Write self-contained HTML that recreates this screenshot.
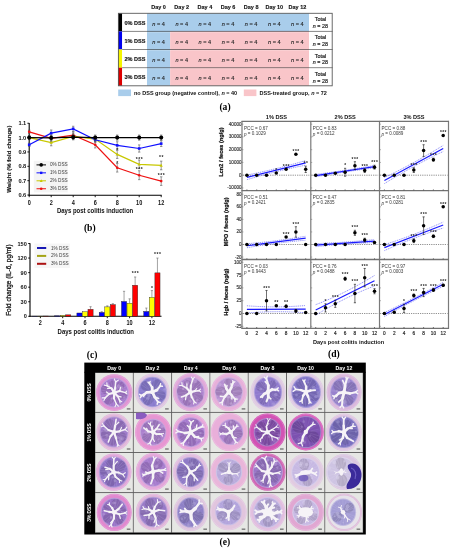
<!DOCTYPE html>
<html><head><meta charset="utf-8"><title>Figure</title>
<style>html,body{margin:0;padding:0;background:#fff;} svg{display:block;}</style></head>
<body><svg width="453" height="550" viewBox="0 0 453 550">
<defs><filter id="soft" x="0" y="0" width="1" height="1"><feGaussianBlur stdDeviation="0.35"/></filter></defs>
<rect width="453" height="550" fill="#fff"/>
<text x="158.57" y="7.00" font-size="5.5" text-anchor="middle" font-weight="bold" font-style="normal" fill="#111" dominant-baseline="central" font-family='"Liberation Sans", Arial, sans-serif' stroke="#111" stroke-width="0.12">Day 0</text>
<text x="181.71" y="7.00" font-size="5.5" text-anchor="middle" font-weight="bold" font-style="normal" fill="#111" dominant-baseline="central" font-family='"Liberation Sans", Arial, sans-serif' stroke="#111" stroke-width="0.12">Day 2</text>
<text x="204.86" y="7.00" font-size="5.5" text-anchor="middle" font-weight="bold" font-style="normal" fill="#111" dominant-baseline="central" font-family='"Liberation Sans", Arial, sans-serif' stroke="#111" stroke-width="0.12">Day 4</text>
<text x="228.00" y="7.00" font-size="5.5" text-anchor="middle" font-weight="bold" font-style="normal" fill="#111" dominant-baseline="central" font-family='"Liberation Sans", Arial, sans-serif' stroke="#111" stroke-width="0.12">Day 6</text>
<text x="251.14" y="7.00" font-size="5.5" text-anchor="middle" font-weight="bold" font-style="normal" fill="#111" dominant-baseline="central" font-family='"Liberation Sans", Arial, sans-serif' stroke="#111" stroke-width="0.12">Day 8</text>
<text x="274.29" y="7.00" font-size="5.5" text-anchor="middle" font-weight="bold" font-style="normal" fill="#111" dominant-baseline="central" font-family='"Liberation Sans", Arial, sans-serif' stroke="#111" stroke-width="0.12">Day 10</text>
<text x="297.43" y="7.00" font-size="5.5" text-anchor="middle" font-weight="bold" font-style="normal" fill="#111" dominant-baseline="central" font-family='"Liberation Sans", Arial, sans-serif' stroke="#111" stroke-width="0.12">Day 12</text>
<rect x="118.00" y="13.30" width="4.20" height="18.10" fill="#000000" stroke="none" stroke-width="0"/>
<rect x="122.20" y="13.30" width="24.80" height="18.10" fill="#ffffff" stroke="none" stroke-width="0"/>
<rect x="147.00" y="13.30" width="162.00" height="18.10" fill="#a9cdeb" stroke="none" stroke-width="0"/>
<rect x="309.00" y="13.30" width="23.60" height="18.10" fill="#ffffff" stroke="none" stroke-width="0"/>
<text x="134.90" y="22.85" font-size="5.55" text-anchor="middle" font-weight="bold" font-style="normal" fill="#111" dominant-baseline="central" font-family='"Liberation Sans", Arial, sans-serif' stroke="#111" stroke-width="0.12">0% DSS</text>
<text x="158.57" y="23.55" font-size="5.6" text-anchor="middle" font-weight="normal" font-style="normal" fill="#222" dominant-baseline="central" font-family='"Liberation Sans", Arial, sans-serif' stroke="#222" stroke-width="0.12"><tspan font-style="italic">n</tspan> = 4</text>
<text x="181.71" y="23.55" font-size="5.6" text-anchor="middle" font-weight="normal" font-style="normal" fill="#222" dominant-baseline="central" font-family='"Liberation Sans", Arial, sans-serif' stroke="#222" stroke-width="0.12"><tspan font-style="italic">n</tspan> = 4</text>
<text x="204.86" y="23.55" font-size="5.6" text-anchor="middle" font-weight="normal" font-style="normal" fill="#222" dominant-baseline="central" font-family='"Liberation Sans", Arial, sans-serif' stroke="#222" stroke-width="0.12"><tspan font-style="italic">n</tspan> = 4</text>
<text x="228.00" y="23.55" font-size="5.6" text-anchor="middle" font-weight="normal" font-style="normal" fill="#222" dominant-baseline="central" font-family='"Liberation Sans", Arial, sans-serif' stroke="#222" stroke-width="0.12"><tspan font-style="italic">n</tspan> = 4</text>
<text x="251.14" y="23.55" font-size="5.6" text-anchor="middle" font-weight="normal" font-style="normal" fill="#222" dominant-baseline="central" font-family='"Liberation Sans", Arial, sans-serif' stroke="#222" stroke-width="0.12"><tspan font-style="italic">n</tspan> = 4</text>
<text x="274.29" y="23.55" font-size="5.6" text-anchor="middle" font-weight="normal" font-style="normal" fill="#222" dominant-baseline="central" font-family='"Liberation Sans", Arial, sans-serif' stroke="#222" stroke-width="0.12"><tspan font-style="italic">n</tspan> = 4</text>
<text x="297.43" y="23.55" font-size="5.6" text-anchor="middle" font-weight="normal" font-style="normal" fill="#222" dominant-baseline="central" font-family='"Liberation Sans", Arial, sans-serif' stroke="#222" stroke-width="0.12"><tspan font-style="italic">n</tspan> = 4</text>
<text x="320.50" y="19.35" font-size="5.4" text-anchor="middle" font-weight="normal" font-style="normal" fill="#222" dominant-baseline="central" font-family='"Liberation Sans", Arial, sans-serif' stroke="#222" stroke-width="0.18">Total</text>
<text x="320.40" y="26.15" font-size="5.4" text-anchor="middle" font-weight="normal" font-style="normal" fill="#222" dominant-baseline="central" font-family='"Liberation Sans", Arial, sans-serif' stroke="#222" stroke-width="0.18"><tspan font-style="italic">n</tspan> = 28</text>
<rect x="118.00" y="31.40" width="4.20" height="18.10" fill="#0000ee" stroke="none" stroke-width="0"/>
<rect x="122.20" y="31.40" width="24.80" height="18.10" fill="#ffffff" stroke="none" stroke-width="0"/>
<rect x="147.00" y="31.40" width="23.14" height="18.10" fill="#a9cdeb" stroke="none" stroke-width="0"/>
<rect x="170.14" y="31.40" width="138.86" height="18.10" fill="#f9c5c9" stroke="none" stroke-width="0"/>
<rect x="309.00" y="31.40" width="23.60" height="18.10" fill="#ffffff" stroke="none" stroke-width="0"/>
<text x="134.90" y="40.95" font-size="5.55" text-anchor="middle" font-weight="bold" font-style="normal" fill="#111" dominant-baseline="central" font-family='"Liberation Sans", Arial, sans-serif' stroke="#111" stroke-width="0.12">1% DSS</text>
<text x="158.57" y="41.65" font-size="5.6" text-anchor="middle" font-weight="normal" font-style="normal" fill="#222" dominant-baseline="central" font-family='"Liberation Sans", Arial, sans-serif' stroke="#222" stroke-width="0.12"><tspan font-style="italic">n</tspan> = 4</text>
<text x="181.71" y="41.65" font-size="5.6" text-anchor="middle" font-weight="normal" font-style="normal" fill="#222" dominant-baseline="central" font-family='"Liberation Sans", Arial, sans-serif' stroke="#222" stroke-width="0.12"><tspan font-style="italic">n</tspan> = 4</text>
<text x="204.86" y="41.65" font-size="5.6" text-anchor="middle" font-weight="normal" font-style="normal" fill="#222" dominant-baseline="central" font-family='"Liberation Sans", Arial, sans-serif' stroke="#222" stroke-width="0.12"><tspan font-style="italic">n</tspan> = 4</text>
<text x="228.00" y="41.65" font-size="5.6" text-anchor="middle" font-weight="normal" font-style="normal" fill="#222" dominant-baseline="central" font-family='"Liberation Sans", Arial, sans-serif' stroke="#222" stroke-width="0.12"><tspan font-style="italic">n</tspan> = 4</text>
<text x="251.14" y="41.65" font-size="5.6" text-anchor="middle" font-weight="normal" font-style="normal" fill="#222" dominant-baseline="central" font-family='"Liberation Sans", Arial, sans-serif' stroke="#222" stroke-width="0.12"><tspan font-style="italic">n</tspan> = 4</text>
<text x="274.29" y="41.65" font-size="5.6" text-anchor="middle" font-weight="normal" font-style="normal" fill="#222" dominant-baseline="central" font-family='"Liberation Sans", Arial, sans-serif' stroke="#222" stroke-width="0.12"><tspan font-style="italic">n</tspan> = 4</text>
<text x="297.43" y="41.65" font-size="5.6" text-anchor="middle" font-weight="normal" font-style="normal" fill="#222" dominant-baseline="central" font-family='"Liberation Sans", Arial, sans-serif' stroke="#222" stroke-width="0.12"><tspan font-style="italic">n</tspan> = 4</text>
<text x="320.50" y="37.45" font-size="5.4" text-anchor="middle" font-weight="normal" font-style="normal" fill="#222" dominant-baseline="central" font-family='"Liberation Sans", Arial, sans-serif' stroke="#222" stroke-width="0.18">Total</text>
<text x="320.40" y="44.25" font-size="5.4" text-anchor="middle" font-weight="normal" font-style="normal" fill="#222" dominant-baseline="central" font-family='"Liberation Sans", Arial, sans-serif' stroke="#222" stroke-width="0.18"><tspan font-style="italic">n</tspan> = 28</text>
<rect x="118.00" y="49.50" width="4.20" height="18.20" fill="#f5f500" stroke="none" stroke-width="0"/>
<rect x="122.20" y="49.50" width="24.80" height="18.20" fill="#ffffff" stroke="none" stroke-width="0"/>
<rect x="147.00" y="49.50" width="23.14" height="18.20" fill="#a9cdeb" stroke="none" stroke-width="0"/>
<rect x="170.14" y="49.50" width="138.86" height="18.20" fill="#f9c5c9" stroke="none" stroke-width="0"/>
<rect x="309.00" y="49.50" width="23.60" height="18.20" fill="#ffffff" stroke="none" stroke-width="0"/>
<text x="134.90" y="59.10" font-size="5.55" text-anchor="middle" font-weight="bold" font-style="normal" fill="#111" dominant-baseline="central" font-family='"Liberation Sans", Arial, sans-serif' stroke="#111" stroke-width="0.12">2% DSS</text>
<text x="158.57" y="59.80" font-size="5.6" text-anchor="middle" font-weight="normal" font-style="normal" fill="#222" dominant-baseline="central" font-family='"Liberation Sans", Arial, sans-serif' stroke="#222" stroke-width="0.12"><tspan font-style="italic">n</tspan> = 4</text>
<text x="181.71" y="59.80" font-size="5.6" text-anchor="middle" font-weight="normal" font-style="normal" fill="#222" dominant-baseline="central" font-family='"Liberation Sans", Arial, sans-serif' stroke="#222" stroke-width="0.12"><tspan font-style="italic">n</tspan> = 4</text>
<text x="204.86" y="59.80" font-size="5.6" text-anchor="middle" font-weight="normal" font-style="normal" fill="#222" dominant-baseline="central" font-family='"Liberation Sans", Arial, sans-serif' stroke="#222" stroke-width="0.12"><tspan font-style="italic">n</tspan> = 4</text>
<text x="228.00" y="59.80" font-size="5.6" text-anchor="middle" font-weight="normal" font-style="normal" fill="#222" dominant-baseline="central" font-family='"Liberation Sans", Arial, sans-serif' stroke="#222" stroke-width="0.12"><tspan font-style="italic">n</tspan> = 4</text>
<text x="251.14" y="59.80" font-size="5.6" text-anchor="middle" font-weight="normal" font-style="normal" fill="#222" dominant-baseline="central" font-family='"Liberation Sans", Arial, sans-serif' stroke="#222" stroke-width="0.12"><tspan font-style="italic">n</tspan> = 4</text>
<text x="274.29" y="59.80" font-size="5.6" text-anchor="middle" font-weight="normal" font-style="normal" fill="#222" dominant-baseline="central" font-family='"Liberation Sans", Arial, sans-serif' stroke="#222" stroke-width="0.12"><tspan font-style="italic">n</tspan> = 4</text>
<text x="297.43" y="59.80" font-size="5.6" text-anchor="middle" font-weight="normal" font-style="normal" fill="#222" dominant-baseline="central" font-family='"Liberation Sans", Arial, sans-serif' stroke="#222" stroke-width="0.12"><tspan font-style="italic">n</tspan> = 4</text>
<text x="320.50" y="55.60" font-size="5.4" text-anchor="middle" font-weight="normal" font-style="normal" fill="#222" dominant-baseline="central" font-family='"Liberation Sans", Arial, sans-serif' stroke="#222" stroke-width="0.18">Total</text>
<text x="320.40" y="62.40" font-size="5.4" text-anchor="middle" font-weight="normal" font-style="normal" fill="#222" dominant-baseline="central" font-family='"Liberation Sans", Arial, sans-serif' stroke="#222" stroke-width="0.18"><tspan font-style="italic">n</tspan> = 28</text>
<rect x="118.00" y="67.70" width="4.20" height="18.10" fill="#dd0000" stroke="none" stroke-width="0"/>
<rect x="122.20" y="67.70" width="24.80" height="18.10" fill="#ffffff" stroke="none" stroke-width="0"/>
<rect x="147.00" y="67.70" width="23.14" height="18.10" fill="#a9cdeb" stroke="none" stroke-width="0"/>
<rect x="170.14" y="67.70" width="138.86" height="18.10" fill="#f9c5c9" stroke="none" stroke-width="0"/>
<rect x="309.00" y="67.70" width="23.60" height="18.10" fill="#ffffff" stroke="none" stroke-width="0"/>
<text x="134.90" y="77.25" font-size="5.55" text-anchor="middle" font-weight="bold" font-style="normal" fill="#111" dominant-baseline="central" font-family='"Liberation Sans", Arial, sans-serif' stroke="#111" stroke-width="0.12">3% DSS</text>
<text x="158.57" y="77.95" font-size="5.6" text-anchor="middle" font-weight="normal" font-style="normal" fill="#222" dominant-baseline="central" font-family='"Liberation Sans", Arial, sans-serif' stroke="#222" stroke-width="0.12"><tspan font-style="italic">n</tspan> = 4</text>
<text x="181.71" y="77.95" font-size="5.6" text-anchor="middle" font-weight="normal" font-style="normal" fill="#222" dominant-baseline="central" font-family='"Liberation Sans", Arial, sans-serif' stroke="#222" stroke-width="0.12"><tspan font-style="italic">n</tspan> = 4</text>
<text x="204.86" y="77.95" font-size="5.6" text-anchor="middle" font-weight="normal" font-style="normal" fill="#222" dominant-baseline="central" font-family='"Liberation Sans", Arial, sans-serif' stroke="#222" stroke-width="0.12"><tspan font-style="italic">n</tspan> = 4</text>
<text x="228.00" y="77.95" font-size="5.6" text-anchor="middle" font-weight="normal" font-style="normal" fill="#222" dominant-baseline="central" font-family='"Liberation Sans", Arial, sans-serif' stroke="#222" stroke-width="0.12"><tspan font-style="italic">n</tspan> = 4</text>
<text x="251.14" y="77.95" font-size="5.6" text-anchor="middle" font-weight="normal" font-style="normal" fill="#222" dominant-baseline="central" font-family='"Liberation Sans", Arial, sans-serif' stroke="#222" stroke-width="0.12"><tspan font-style="italic">n</tspan> = 4</text>
<text x="274.29" y="77.95" font-size="5.6" text-anchor="middle" font-weight="normal" font-style="normal" fill="#222" dominant-baseline="central" font-family='"Liberation Sans", Arial, sans-serif' stroke="#222" stroke-width="0.12"><tspan font-style="italic">n</tspan> = 4</text>
<text x="297.43" y="77.95" font-size="5.6" text-anchor="middle" font-weight="normal" font-style="normal" fill="#222" dominant-baseline="central" font-family='"Liberation Sans", Arial, sans-serif' stroke="#222" stroke-width="0.12"><tspan font-style="italic">n</tspan> = 4</text>
<text x="320.50" y="73.75" font-size="5.4" text-anchor="middle" font-weight="normal" font-style="normal" fill="#222" dominant-baseline="central" font-family='"Liberation Sans", Arial, sans-serif' stroke="#222" stroke-width="0.18">Total</text>
<text x="320.40" y="80.55" font-size="5.4" text-anchor="middle" font-weight="normal" font-style="normal" fill="#222" dominant-baseline="central" font-family='"Liberation Sans", Arial, sans-serif' stroke="#222" stroke-width="0.18"><tspan font-style="italic">n</tspan> = 28</text>
<line x1="122.20" y1="31.40" x2="332.60" y2="31.40" stroke="#000" stroke-width="0.95" opacity="0.5"/>
<line x1="122.20" y1="32.40" x2="332.60" y2="32.40" stroke="#fff" stroke-width="0.7" opacity="0.25"/>
<line x1="122.20" y1="49.50" x2="332.60" y2="49.50" stroke="#000" stroke-width="0.95" opacity="0.5"/>
<line x1="122.20" y1="50.50" x2="332.60" y2="50.50" stroke="#fff" stroke-width="0.7" opacity="0.25"/>
<line x1="122.20" y1="67.70" x2="332.60" y2="67.70" stroke="#000" stroke-width="0.95" opacity="0.5"/>
<line x1="122.20" y1="68.70" x2="332.60" y2="68.70" stroke="#fff" stroke-width="0.7" opacity="0.25"/>
<rect x="118.40" y="13.30" width="213.80" height="72.50" fill="none" stroke="#5a5a5a" stroke-width="0.9"/>
<rect x="118.20" y="89.50" width="12.80" height="6.60" fill="#a9cdeb" stroke="none" stroke-width="0"/>
<text x="134.00" y="92.90" font-size="5.5" text-anchor="start" font-weight="bold" font-style="normal" fill="#111" dominant-baseline="central" font-family='"Liberation Sans", Arial, sans-serif'>no DSS group (negative control), <tspan font-style="italic">n</tspan> = 40</text>
<rect x="243.80" y="89.50" width="12.60" height="6.60" fill="#f9c5c9" stroke="none" stroke-width="0"/>
<text x="259.50" y="92.90" font-size="5.5" text-anchor="start" font-weight="bold" font-style="normal" fill="#111" dominant-baseline="central" font-family='"Liberation Sans", Arial, sans-serif'>DSS-treated group, <tspan font-style="italic">n</tspan> = 72</text>
<text x="225.00" y="106.00" font-size="9.6" text-anchor="middle" font-weight="bold" font-style="normal" fill="#000" dominant-baseline="central" font-family='"Liberation Serif", serif'>(a)</text>
<line x1="29.20" y1="122.94" x2="29.20" y2="195.80" stroke="#000" stroke-width="1.1"/>
<line x1="28.70" y1="195.30" x2="161.70" y2="195.30" stroke="#000" stroke-width="1.1"/>
<line x1="27.40" y1="123.24" x2="29.20" y2="123.24" stroke="#000" stroke-width="0.9"/>
<text x="26.30" y="123.24" font-size="6.0" text-anchor="end" font-weight="bold" font-style="normal" fill="#111" dominant-baseline="central" font-family='"Liberation Sans", Arial, sans-serif' transform="translate(26.30 123.24) scale(0.95 1) translate(-26.30 -123.24)">1.1</text>
<line x1="27.40" y1="137.60" x2="29.20" y2="137.60" stroke="#000" stroke-width="0.9"/>
<text x="26.30" y="137.60" font-size="6.0" text-anchor="end" font-weight="bold" font-style="normal" fill="#111" dominant-baseline="central" font-family='"Liberation Sans", Arial, sans-serif' transform="translate(26.30 137.60) scale(0.95 1) translate(-26.30 -137.60)">1.0</text>
<line x1="27.40" y1="151.96" x2="29.20" y2="151.96" stroke="#000" stroke-width="0.9"/>
<text x="26.30" y="151.96" font-size="6.0" text-anchor="end" font-weight="bold" font-style="normal" fill="#111" dominant-baseline="central" font-family='"Liberation Sans", Arial, sans-serif' transform="translate(26.30 151.96) scale(0.95 1) translate(-26.30 -151.96)">0.9</text>
<line x1="27.40" y1="166.32" x2="29.20" y2="166.32" stroke="#000" stroke-width="0.9"/>
<text x="26.30" y="166.32" font-size="6.0" text-anchor="end" font-weight="bold" font-style="normal" fill="#111" dominant-baseline="central" font-family='"Liberation Sans", Arial, sans-serif' transform="translate(26.30 166.32) scale(0.95 1) translate(-26.30 -166.32)">0.8</text>
<line x1="27.40" y1="180.68" x2="29.20" y2="180.68" stroke="#000" stroke-width="0.9"/>
<text x="26.30" y="180.68" font-size="6.0" text-anchor="end" font-weight="bold" font-style="normal" fill="#111" dominant-baseline="central" font-family='"Liberation Sans", Arial, sans-serif' transform="translate(26.30 180.68) scale(0.95 1) translate(-26.30 -180.68)">0.7</text>
<line x1="27.40" y1="195.04" x2="29.20" y2="195.04" stroke="#000" stroke-width="0.9"/>
<text x="26.30" y="195.04" font-size="6.0" text-anchor="end" font-weight="bold" font-style="normal" fill="#111" dominant-baseline="central" font-family='"Liberation Sans", Arial, sans-serif' transform="translate(26.30 195.04) scale(0.95 1) translate(-26.30 -195.04)">0.6</text>
<line x1="29.20" y1="195.30" x2="29.20" y2="197.20" stroke="#000" stroke-width="0.9"/>
<text x="29.20" y="202.70" font-size="6.3" text-anchor="middle" font-weight="bold" font-style="normal" fill="#111" dominant-baseline="central" font-family='"Liberation Sans", Arial, sans-serif' transform="translate(29.20 202.70) scale(0.88 1) translate(-29.20 -202.70)">0</text>
<line x1="51.20" y1="195.30" x2="51.20" y2="197.20" stroke="#000" stroke-width="0.9"/>
<text x="51.20" y="202.70" font-size="6.3" text-anchor="middle" font-weight="bold" font-style="normal" fill="#111" dominant-baseline="central" font-family='"Liberation Sans", Arial, sans-serif' transform="translate(51.20 202.70) scale(0.88 1) translate(-51.20 -202.70)">2</text>
<line x1="73.20" y1="195.30" x2="73.20" y2="197.20" stroke="#000" stroke-width="0.9"/>
<text x="73.20" y="202.70" font-size="6.3" text-anchor="middle" font-weight="bold" font-style="normal" fill="#111" dominant-baseline="central" font-family='"Liberation Sans", Arial, sans-serif' transform="translate(73.20 202.70) scale(0.88 1) translate(-73.20 -202.70)">4</text>
<line x1="95.20" y1="195.30" x2="95.20" y2="197.20" stroke="#000" stroke-width="0.9"/>
<text x="95.20" y="202.70" font-size="6.3" text-anchor="middle" font-weight="bold" font-style="normal" fill="#111" dominant-baseline="central" font-family='"Liberation Sans", Arial, sans-serif' transform="translate(95.20 202.70) scale(0.88 1) translate(-95.20 -202.70)">6</text>
<line x1="117.20" y1="195.30" x2="117.20" y2="197.20" stroke="#000" stroke-width="0.9"/>
<text x="117.20" y="202.70" font-size="6.3" text-anchor="middle" font-weight="bold" font-style="normal" fill="#111" dominant-baseline="central" font-family='"Liberation Sans", Arial, sans-serif' transform="translate(117.20 202.70) scale(0.88 1) translate(-117.20 -202.70)">8</text>
<line x1="139.20" y1="195.30" x2="139.20" y2="197.20" stroke="#000" stroke-width="0.9"/>
<text x="139.20" y="202.70" font-size="6.3" text-anchor="middle" font-weight="bold" font-style="normal" fill="#111" dominant-baseline="central" font-family='"Liberation Sans", Arial, sans-serif' transform="translate(139.20 202.70) scale(0.88 1) translate(-139.20 -202.70)">10</text>
<line x1="161.20" y1="195.30" x2="161.20" y2="197.20" stroke="#000" stroke-width="0.9"/>
<text x="161.20" y="202.70" font-size="6.3" text-anchor="middle" font-weight="bold" font-style="normal" fill="#111" dominant-baseline="central" font-family='"Liberation Sans", Arial, sans-serif' transform="translate(161.20 202.70) scale(0.88 1) translate(-161.20 -202.70)">12</text>
<text x="95.10" y="210.60" font-size="6.8" text-anchor="middle" font-weight="bold" font-style="normal" fill="#111" dominant-baseline="central" font-family='"Liberation Sans", Arial, sans-serif' transform="translate(95.10 210.60) scale(0.885 1) translate(-95.10 -210.60)">Days post colitis induction</text>
<text x="8.30" y="159.10" font-size="6.1" text-anchor="middle" font-weight="bold" font-style="normal" fill="#111" dominant-baseline="central" font-family='"Liberation Sans", Arial, sans-serif' transform="rotate(-90 8.3 159.1)" stroke="#111" stroke-width="0.12">Weight (% fold change)</text>
<polyline points="29.20,131.86 51.20,138.32 73.20,135.16 95.20,144.78 117.20,167.76 139.20,175.22 161.20,181.11" fill="none" stroke="#ee1111" stroke-width="1.2"/>
<polyline points="29.20,137.60 51.20,142.63 73.20,136.45 95.20,139.04 117.20,154.40 139.20,164.31 161.20,165.46" fill="none" stroke="#c8c800" stroke-width="1.2"/>
<polyline points="29.20,144.78 51.20,133.15 73.20,128.84 95.20,139.75 117.20,145.35 139.20,148.51 161.20,143.63" fill="none" stroke="#1010ff" stroke-width="1.2"/>
<polyline points="29.20,137.60 51.20,137.89 73.20,137.17 95.20,137.60 117.20,137.60 139.20,137.60 161.20,137.60" fill="none" stroke="#000000" stroke-width="1.2"/>
<line x1="29.20" y1="130.13" x2="29.20" y2="133.58" stroke="#555" stroke-width="0.6"/>
<line x1="28.00" y1="130.13" x2="30.40" y2="130.13" stroke="#555" stroke-width="0.6"/>
<line x1="28.00" y1="133.58" x2="30.40" y2="133.58" stroke="#555" stroke-width="0.6"/>
<circle cx="29.20" cy="131.86" r="1.30" fill="#ee1111"/>
<line x1="51.20" y1="135.16" x2="51.20" y2="141.48" stroke="#555" stroke-width="0.6"/>
<line x1="50.00" y1="135.16" x2="52.40" y2="135.16" stroke="#555" stroke-width="0.6"/>
<line x1="50.00" y1="141.48" x2="52.40" y2="141.48" stroke="#555" stroke-width="0.6"/>
<circle cx="51.20" cy="138.32" r="1.30" fill="#ee1111"/>
<line x1="73.20" y1="132.00" x2="73.20" y2="138.32" stroke="#555" stroke-width="0.6"/>
<line x1="72.00" y1="132.00" x2="74.40" y2="132.00" stroke="#555" stroke-width="0.6"/>
<line x1="72.00" y1="138.32" x2="74.40" y2="138.32" stroke="#555" stroke-width="0.6"/>
<circle cx="73.20" cy="135.16" r="1.30" fill="#ee1111"/>
<line x1="95.20" y1="141.62" x2="95.20" y2="147.94" stroke="#555" stroke-width="0.6"/>
<line x1="94.00" y1="141.62" x2="96.40" y2="141.62" stroke="#555" stroke-width="0.6"/>
<line x1="94.00" y1="147.94" x2="96.40" y2="147.94" stroke="#555" stroke-width="0.6"/>
<circle cx="95.20" cy="144.78" r="1.30" fill="#ee1111"/>
<line x1="117.20" y1="163.45" x2="117.20" y2="172.06" stroke="#555" stroke-width="0.6"/>
<line x1="116.00" y1="163.45" x2="118.40" y2="163.45" stroke="#555" stroke-width="0.6"/>
<line x1="116.00" y1="172.06" x2="118.40" y2="172.06" stroke="#555" stroke-width="0.6"/>
<circle cx="117.20" cy="167.76" r="1.30" fill="#ee1111"/>
<line x1="139.20" y1="170.77" x2="139.20" y2="179.67" stroke="#555" stroke-width="0.6"/>
<line x1="138.00" y1="170.77" x2="140.40" y2="170.77" stroke="#555" stroke-width="0.6"/>
<line x1="138.00" y1="179.67" x2="140.40" y2="179.67" stroke="#555" stroke-width="0.6"/>
<circle cx="139.20" cy="175.22" r="1.30" fill="#ee1111"/>
<line x1="161.20" y1="176.80" x2="161.20" y2="185.42" stroke="#555" stroke-width="0.6"/>
<line x1="160.00" y1="176.80" x2="162.40" y2="176.80" stroke="#555" stroke-width="0.6"/>
<line x1="160.00" y1="185.42" x2="162.40" y2="185.42" stroke="#555" stroke-width="0.6"/>
<circle cx="161.20" cy="181.11" r="1.30" fill="#ee1111"/>
<line x1="29.20" y1="135.88" x2="29.20" y2="139.32" stroke="#555" stroke-width="0.6"/>
<line x1="28.00" y1="135.88" x2="30.40" y2="135.88" stroke="#555" stroke-width="0.6"/>
<line x1="28.00" y1="139.32" x2="30.40" y2="139.32" stroke="#555" stroke-width="0.6"/>
<polygon points="29.20,135.90 30.80,138.80 27.60,138.80" fill="#c8c800"/>
<line x1="51.20" y1="139.47" x2="51.20" y2="145.79" stroke="#555" stroke-width="0.6"/>
<line x1="50.00" y1="139.47" x2="52.40" y2="139.47" stroke="#555" stroke-width="0.6"/>
<line x1="50.00" y1="145.79" x2="52.40" y2="145.79" stroke="#555" stroke-width="0.6"/>
<polygon points="51.20,140.93 52.80,143.83 49.60,143.83" fill="#c8c800"/>
<line x1="73.20" y1="133.29" x2="73.20" y2="139.61" stroke="#555" stroke-width="0.6"/>
<line x1="72.00" y1="133.29" x2="74.40" y2="133.29" stroke="#555" stroke-width="0.6"/>
<line x1="72.00" y1="139.61" x2="74.40" y2="139.61" stroke="#555" stroke-width="0.6"/>
<polygon points="73.20,134.75 74.80,137.65 71.60,137.65" fill="#c8c800"/>
<line x1="95.20" y1="136.45" x2="95.20" y2="141.62" stroke="#555" stroke-width="0.6"/>
<line x1="94.00" y1="136.45" x2="96.40" y2="136.45" stroke="#555" stroke-width="0.6"/>
<line x1="94.00" y1="141.62" x2="96.40" y2="141.62" stroke="#555" stroke-width="0.6"/>
<polygon points="95.20,137.34 96.80,140.24 93.60,140.24" fill="#c8c800"/>
<line x1="117.20" y1="150.38" x2="117.20" y2="158.42" stroke="#555" stroke-width="0.6"/>
<line x1="116.00" y1="150.38" x2="118.40" y2="150.38" stroke="#555" stroke-width="0.6"/>
<line x1="116.00" y1="158.42" x2="118.40" y2="158.42" stroke="#555" stroke-width="0.6"/>
<polygon points="117.20,152.70 118.80,155.60 115.60,155.60" fill="#c8c800"/>
<line x1="139.20" y1="160.00" x2="139.20" y2="168.62" stroke="#555" stroke-width="0.6"/>
<line x1="138.00" y1="160.00" x2="140.40" y2="160.00" stroke="#555" stroke-width="0.6"/>
<line x1="138.00" y1="168.62" x2="140.40" y2="168.62" stroke="#555" stroke-width="0.6"/>
<polygon points="139.20,162.61 140.80,165.51 137.60,165.51" fill="#c8c800"/>
<line x1="161.20" y1="161.15" x2="161.20" y2="169.77" stroke="#555" stroke-width="0.6"/>
<line x1="160.00" y1="161.15" x2="162.40" y2="161.15" stroke="#555" stroke-width="0.6"/>
<line x1="160.00" y1="169.77" x2="162.40" y2="169.77" stroke="#555" stroke-width="0.6"/>
<polygon points="161.20,163.76 162.80,166.66 159.60,166.66" fill="#c8c800"/>
<line x1="29.20" y1="143.06" x2="29.20" y2="146.50" stroke="#555" stroke-width="0.6"/>
<line x1="28.00" y1="143.06" x2="30.40" y2="143.06" stroke="#555" stroke-width="0.6"/>
<line x1="28.00" y1="146.50" x2="30.40" y2="146.50" stroke="#555" stroke-width="0.6"/>
<rect x="27.90" y="143.48" width="2.60" height="2.60" fill="#1010ff" stroke="none" stroke-width="0"/>
<line x1="51.20" y1="129.99" x2="51.20" y2="136.31" stroke="#555" stroke-width="0.6"/>
<line x1="50.00" y1="129.99" x2="52.40" y2="129.99" stroke="#555" stroke-width="0.6"/>
<line x1="50.00" y1="136.31" x2="52.40" y2="136.31" stroke="#555" stroke-width="0.6"/>
<rect x="49.90" y="131.85" width="2.60" height="2.60" fill="#1010ff" stroke="none" stroke-width="0"/>
<line x1="73.20" y1="126.26" x2="73.20" y2="131.43" stroke="#555" stroke-width="0.6"/>
<line x1="72.00" y1="126.26" x2="74.40" y2="126.26" stroke="#555" stroke-width="0.6"/>
<line x1="72.00" y1="131.43" x2="74.40" y2="131.43" stroke="#555" stroke-width="0.6"/>
<rect x="71.90" y="127.54" width="2.60" height="2.60" fill="#1010ff" stroke="none" stroke-width="0"/>
<line x1="95.20" y1="137.17" x2="95.20" y2="142.34" stroke="#555" stroke-width="0.6"/>
<line x1="94.00" y1="137.17" x2="96.40" y2="137.17" stroke="#555" stroke-width="0.6"/>
<line x1="94.00" y1="142.34" x2="96.40" y2="142.34" stroke="#555" stroke-width="0.6"/>
<rect x="93.90" y="138.45" width="2.60" height="2.60" fill="#1010ff" stroke="none" stroke-width="0"/>
<line x1="117.20" y1="141.76" x2="117.20" y2="148.94" stroke="#555" stroke-width="0.6"/>
<line x1="116.00" y1="141.76" x2="118.40" y2="141.76" stroke="#555" stroke-width="0.6"/>
<line x1="116.00" y1="148.94" x2="118.40" y2="148.94" stroke="#555" stroke-width="0.6"/>
<rect x="115.90" y="144.05" width="2.60" height="2.60" fill="#1010ff" stroke="none" stroke-width="0"/>
<line x1="139.20" y1="144.92" x2="139.20" y2="152.10" stroke="#555" stroke-width="0.6"/>
<line x1="138.00" y1="144.92" x2="140.40" y2="144.92" stroke="#555" stroke-width="0.6"/>
<line x1="138.00" y1="152.10" x2="140.40" y2="152.10" stroke="#555" stroke-width="0.6"/>
<rect x="137.90" y="147.21" width="2.60" height="2.60" fill="#1010ff" stroke="none" stroke-width="0"/>
<line x1="161.20" y1="140.76" x2="161.20" y2="146.50" stroke="#555" stroke-width="0.6"/>
<line x1="160.00" y1="140.76" x2="162.40" y2="140.76" stroke="#555" stroke-width="0.6"/>
<line x1="160.00" y1="146.50" x2="162.40" y2="146.50" stroke="#555" stroke-width="0.6"/>
<rect x="159.90" y="142.33" width="2.60" height="2.60" fill="#1010ff" stroke="none" stroke-width="0"/>
<line x1="29.20" y1="135.59" x2="29.20" y2="139.61" stroke="#555" stroke-width="0.6"/>
<line x1="28.00" y1="135.59" x2="30.40" y2="135.59" stroke="#555" stroke-width="0.6"/>
<line x1="28.00" y1="139.61" x2="30.40" y2="139.61" stroke="#555" stroke-width="0.6"/>
<circle cx="29.20" cy="137.60" r="2.05" fill="#000000"/>
<line x1="51.20" y1="135.30" x2="51.20" y2="140.47" stroke="#555" stroke-width="0.6"/>
<line x1="50.00" y1="135.30" x2="52.40" y2="135.30" stroke="#555" stroke-width="0.6"/>
<line x1="50.00" y1="140.47" x2="52.40" y2="140.47" stroke="#555" stroke-width="0.6"/>
<circle cx="51.20" cy="137.89" r="2.05" fill="#000000"/>
<line x1="73.20" y1="134.58" x2="73.20" y2="139.75" stroke="#555" stroke-width="0.6"/>
<line x1="72.00" y1="134.58" x2="74.40" y2="134.58" stroke="#555" stroke-width="0.6"/>
<line x1="72.00" y1="139.75" x2="74.40" y2="139.75" stroke="#555" stroke-width="0.6"/>
<circle cx="73.20" cy="137.17" r="2.05" fill="#000000"/>
<line x1="95.20" y1="135.02" x2="95.20" y2="140.18" stroke="#555" stroke-width="0.6"/>
<line x1="94.00" y1="135.02" x2="96.40" y2="135.02" stroke="#555" stroke-width="0.6"/>
<line x1="94.00" y1="140.18" x2="96.40" y2="140.18" stroke="#555" stroke-width="0.6"/>
<circle cx="95.20" cy="137.60" r="2.05" fill="#000000"/>
<line x1="117.20" y1="135.02" x2="117.20" y2="140.18" stroke="#555" stroke-width="0.6"/>
<line x1="116.00" y1="135.02" x2="118.40" y2="135.02" stroke="#555" stroke-width="0.6"/>
<line x1="116.00" y1="140.18" x2="118.40" y2="140.18" stroke="#555" stroke-width="0.6"/>
<circle cx="117.20" cy="137.60" r="2.05" fill="#000000"/>
<line x1="139.20" y1="135.02" x2="139.20" y2="140.18" stroke="#555" stroke-width="0.6"/>
<line x1="138.00" y1="135.02" x2="140.40" y2="135.02" stroke="#555" stroke-width="0.6"/>
<line x1="138.00" y1="140.18" x2="140.40" y2="140.18" stroke="#555" stroke-width="0.6"/>
<circle cx="139.20" cy="137.60" r="2.05" fill="#000000"/>
<line x1="161.20" y1="135.02" x2="161.20" y2="140.18" stroke="#555" stroke-width="0.6"/>
<line x1="160.00" y1="135.02" x2="162.40" y2="135.02" stroke="#555" stroke-width="0.6"/>
<line x1="160.00" y1="140.18" x2="162.40" y2="140.18" stroke="#555" stroke-width="0.6"/>
<circle cx="161.20" cy="137.60" r="2.05" fill="#000000"/>
<text x="117.48" y="149.70" font-size="5.0" text-anchor="middle" font-weight="bold" font-style="normal" fill="#222" dominant-baseline="central" font-family='"Liberation Sans", Arial, sans-serif' letter-spacing="0.55">*</text>
<text x="117.48" y="162.90" font-size="5.0" text-anchor="middle" font-weight="bold" font-style="normal" fill="#222" dominant-baseline="central" font-family='"Liberation Sans", Arial, sans-serif' letter-spacing="0.55">*</text>
<text x="139.47" y="158.60" font-size="5.0" text-anchor="middle" font-weight="bold" font-style="normal" fill="#222" dominant-baseline="central" font-family='"Liberation Sans", Arial, sans-serif' letter-spacing="0.55">***</text>
<text x="139.47" y="168.90" font-size="5.0" text-anchor="middle" font-weight="bold" font-style="normal" fill="#222" dominant-baseline="central" font-family='"Liberation Sans", Arial, sans-serif' letter-spacing="0.55">***</text>
<text x="161.47" y="157.40" font-size="5.0" text-anchor="middle" font-weight="bold" font-style="normal" fill="#222" dominant-baseline="central" font-family='"Liberation Sans", Arial, sans-serif' letter-spacing="0.55">**</text>
<text x="161.47" y="175.00" font-size="5.0" text-anchor="middle" font-weight="bold" font-style="normal" fill="#222" dominant-baseline="central" font-family='"Liberation Sans", Arial, sans-serif' letter-spacing="0.55">***</text>
<rect x="33.80" y="160.80" width="33.90" height="31.60" fill="#f4f4f4" stroke="none" stroke-width="0"/>
<line x1="36.50" y1="164.90" x2="46.00" y2="164.90" stroke="#000000" stroke-width="1.0"/>
<circle cx="41.20" cy="164.90" r="1.80" fill="#000000"/>
<text x="50.00" y="164.90" font-size="4.7" text-anchor="start" font-weight="normal" font-style="normal" fill="#3c3c3c" dominant-baseline="central" font-family='"Liberation Sans", Arial, sans-serif'>0% DSS</text>
<line x1="36.50" y1="172.85" x2="46.00" y2="172.85" stroke="#1010ff" stroke-width="1.0"/>
<rect x="40.00" y="171.65" width="2.40" height="2.40" fill="#1010ff" stroke="none" stroke-width="0"/>
<text x="50.00" y="172.85" font-size="4.7" text-anchor="start" font-weight="normal" font-style="normal" fill="#3c3c3c" dominant-baseline="central" font-family='"Liberation Sans", Arial, sans-serif'>1% DSS</text>
<line x1="36.50" y1="180.80" x2="46.00" y2="180.80" stroke="#c8c800" stroke-width="1.0"/>
<polygon points="41.2,179.20 42.7,181.90 39.7,181.90" fill="#c8c800"/>
<text x="50.00" y="180.80" font-size="4.7" text-anchor="start" font-weight="normal" font-style="normal" fill="#3c3c3c" dominant-baseline="central" font-family='"Liberation Sans", Arial, sans-serif'>2% DSS</text>
<line x1="36.50" y1="188.75" x2="46.00" y2="188.75" stroke="#ee1111" stroke-width="1.0"/>
<circle cx="41.20" cy="188.75" r="1.30" fill="#ee1111"/>
<text x="50.00" y="188.75" font-size="4.7" text-anchor="start" font-weight="normal" font-style="normal" fill="#3c3c3c" dominant-baseline="central" font-family='"Liberation Sans", Arial, sans-serif'>3% DSS</text>
<text x="89.80" y="227.00" font-size="9.6" text-anchor="middle" font-weight="bold" font-style="normal" fill="#000" dominant-baseline="central" font-family='"Liberation Serif", serif'>(b)</text>
<line x1="30.00" y1="243.20" x2="30.00" y2="316.80" stroke="#000" stroke-width="1.1"/>
<line x1="29.50" y1="316.30" x2="161.50" y2="316.30" stroke="#000" stroke-width="1.1"/>
<line x1="28.20" y1="316.30" x2="30.00" y2="316.30" stroke="#000" stroke-width="0.9"/>
<text x="26.80" y="316.30" font-size="6.2" text-anchor="end" font-weight="bold" font-style="normal" fill="#111" dominant-baseline="central" font-family='"Liberation Sans", Arial, sans-serif' transform="translate(26.80 316.30) scale(0.9 1) translate(-26.80 -316.30)">0</text>
<line x1="28.20" y1="301.74" x2="30.00" y2="301.74" stroke="#000" stroke-width="0.9"/>
<text x="26.80" y="301.74" font-size="6.2" text-anchor="end" font-weight="bold" font-style="normal" fill="#111" dominant-baseline="central" font-family='"Liberation Sans", Arial, sans-serif' transform="translate(26.80 301.74) scale(0.9 1) translate(-26.80 -301.74)">30</text>
<line x1="28.20" y1="287.18" x2="30.00" y2="287.18" stroke="#000" stroke-width="0.9"/>
<text x="26.80" y="287.18" font-size="6.2" text-anchor="end" font-weight="bold" font-style="normal" fill="#111" dominant-baseline="central" font-family='"Liberation Sans", Arial, sans-serif' transform="translate(26.80 287.18) scale(0.9 1) translate(-26.80 -287.18)">60</text>
<line x1="28.20" y1="272.62" x2="30.00" y2="272.62" stroke="#000" stroke-width="0.9"/>
<text x="26.80" y="272.62" font-size="6.2" text-anchor="end" font-weight="bold" font-style="normal" fill="#111" dominant-baseline="central" font-family='"Liberation Sans", Arial, sans-serif' transform="translate(26.80 272.62) scale(0.9 1) translate(-26.80 -272.62)">90</text>
<line x1="28.20" y1="258.06" x2="30.00" y2="258.06" stroke="#000" stroke-width="0.9"/>
<text x="26.80" y="258.06" font-size="6.2" text-anchor="end" font-weight="bold" font-style="normal" fill="#111" dominant-baseline="central" font-family='"Liberation Sans", Arial, sans-serif' transform="translate(26.80 258.06) scale(0.9 1) translate(-26.80 -258.06)">120</text>
<line x1="28.20" y1="243.50" x2="30.00" y2="243.50" stroke="#000" stroke-width="0.9"/>
<text x="26.80" y="243.50" font-size="6.2" text-anchor="end" font-weight="bold" font-style="normal" fill="#111" dominant-baseline="central" font-family='"Liberation Sans", Arial, sans-serif' transform="translate(26.80 243.50) scale(0.9 1) translate(-26.80 -243.50)">150</text>
<line x1="40.40" y1="316.30" x2="40.40" y2="318.20" stroke="#000" stroke-width="0.9"/>
<text x="40.40" y="323.00" font-size="6.3" text-anchor="middle" font-weight="bold" font-style="normal" fill="#111" dominant-baseline="central" font-family='"Liberation Sans", Arial, sans-serif' transform="translate(40.40 323.00) scale(0.88 1) translate(-40.40 -323.00)">2</text>
<line x1="62.70" y1="316.30" x2="62.70" y2="318.20" stroke="#000" stroke-width="0.9"/>
<text x="62.70" y="323.00" font-size="6.3" text-anchor="middle" font-weight="bold" font-style="normal" fill="#111" dominant-baseline="central" font-family='"Liberation Sans", Arial, sans-serif' transform="translate(62.70 323.00) scale(0.88 1) translate(-62.70 -323.00)">4</text>
<line x1="85.00" y1="316.30" x2="85.00" y2="318.20" stroke="#000" stroke-width="0.9"/>
<text x="85.00" y="323.00" font-size="6.3" text-anchor="middle" font-weight="bold" font-style="normal" fill="#111" dominant-baseline="central" font-family='"Liberation Sans", Arial, sans-serif' transform="translate(85.00 323.00) scale(0.88 1) translate(-85.00 -323.00)">6</text>
<line x1="107.30" y1="316.30" x2="107.30" y2="318.20" stroke="#000" stroke-width="0.9"/>
<text x="107.30" y="323.00" font-size="6.3" text-anchor="middle" font-weight="bold" font-style="normal" fill="#111" dominant-baseline="central" font-family='"Liberation Sans", Arial, sans-serif' transform="translate(107.30 323.00) scale(0.88 1) translate(-107.30 -323.00)">8</text>
<line x1="129.60" y1="316.30" x2="129.60" y2="318.20" stroke="#000" stroke-width="0.9"/>
<text x="129.60" y="323.00" font-size="6.3" text-anchor="middle" font-weight="bold" font-style="normal" fill="#111" dominant-baseline="central" font-family='"Liberation Sans", Arial, sans-serif' transform="translate(129.60 323.00) scale(0.88 1) translate(-129.60 -323.00)">10</text>
<line x1="151.90" y1="316.30" x2="151.90" y2="318.20" stroke="#000" stroke-width="0.9"/>
<text x="151.90" y="323.00" font-size="6.3" text-anchor="middle" font-weight="bold" font-style="normal" fill="#111" dominant-baseline="central" font-family='"Liberation Sans", Arial, sans-serif' transform="translate(151.90 323.00) scale(0.88 1) translate(-151.90 -323.00)">12</text>
<text x="95.80" y="331.40" font-size="6.8" text-anchor="middle" font-weight="bold" font-style="normal" fill="#111" dominant-baseline="central" font-family='"Liberation Sans", Arial, sans-serif' transform="translate(95.80 331.40) scale(0.885 1) translate(-95.80 -331.40)">Days post colitis induction</text>
<text x="8.30" y="280.10" font-size="6.4" text-anchor="middle" font-weight="normal" font-style="normal" fill="#111" dominant-baseline="central" font-family='"Liberation Sans", Arial, sans-serif' transform="rotate(-90 8.3 280.1)" stroke="#111" stroke-width="0.25">Fold change (IL-6, pg/ml)</text>
<rect x="32.28" y="316.15" width="5.15" height="0.15" fill="#0000ff" stroke="#222" stroke-width="0.4"/>
<rect x="37.83" y="316.15" width="5.15" height="0.15" fill="#ffff00" stroke="#222" stroke-width="0.4"/>
<rect x="43.38" y="316.06" width="5.15" height="0.24" fill="#ff0000" stroke="#222" stroke-width="0.4"/>
<rect x="54.58" y="315.81" width="5.15" height="0.49" fill="#0000ff" stroke="#222" stroke-width="0.4"/>
<rect x="60.12" y="315.43" width="5.15" height="0.87" fill="#ffff00" stroke="#222" stroke-width="0.4"/>
<rect x="65.67" y="314.84" width="5.15" height="1.46" fill="#ff0000" stroke="#222" stroke-width="0.4"/>
<rect x="76.88" y="313.00" width="5.15" height="3.30" fill="#0000ff" stroke="#222" stroke-width="0.4"/>
<rect x="82.42" y="311.69" width="5.15" height="4.61" fill="#ffff00" stroke="#222" stroke-width="0.4"/>
<line x1="90.55" y1="306.69" x2="90.55" y2="309.31" stroke="#666" stroke-width="0.6"/>
<line x1="89.45" y1="306.69" x2="91.65" y2="306.69" stroke="#666" stroke-width="0.6"/>
<rect x="87.97" y="309.31" width="5.15" height="6.99" fill="#ff0000" stroke="#222" stroke-width="0.4"/>
<line x1="101.75" y1="311.69" x2="101.75" y2="312.42" stroke="#666" stroke-width="0.6"/>
<line x1="100.65" y1="311.69" x2="102.85" y2="311.69" stroke="#666" stroke-width="0.6"/>
<rect x="99.18" y="312.42" width="5.15" height="3.88" fill="#0000ff" stroke="#222" stroke-width="0.4"/>
<line x1="107.30" y1="305.87" x2="107.30" y2="306.89" stroke="#666" stroke-width="0.6"/>
<line x1="106.20" y1="305.87" x2="108.40" y2="305.87" stroke="#666" stroke-width="0.6"/>
<rect x="104.73" y="306.89" width="5.15" height="9.41" fill="#ffff00" stroke="#222" stroke-width="0.4"/>
<line x1="112.85" y1="303.68" x2="112.85" y2="304.65" stroke="#666" stroke-width="0.6"/>
<line x1="111.75" y1="303.68" x2="113.95" y2="303.68" stroke="#666" stroke-width="0.6"/>
<rect x="110.28" y="304.65" width="5.15" height="11.65" fill="#ff0000" stroke="#222" stroke-width="0.4"/>
<line x1="124.05" y1="291.31" x2="124.05" y2="301.50" stroke="#666" stroke-width="0.6"/>
<line x1="122.95" y1="291.31" x2="125.15" y2="291.31" stroke="#666" stroke-width="0.6"/>
<rect x="121.47" y="301.50" width="5.15" height="14.80" fill="#0000ff" stroke="#222" stroke-width="0.4"/>
<line x1="129.60" y1="298.83" x2="129.60" y2="303.20" stroke="#666" stroke-width="0.6"/>
<line x1="128.50" y1="298.83" x2="130.70" y2="298.83" stroke="#666" stroke-width="0.6"/>
<rect x="127.02" y="303.20" width="5.15" height="13.10" fill="#ffff00" stroke="#222" stroke-width="0.4"/>
<line x1="135.15" y1="276.99" x2="135.15" y2="285.24" stroke="#666" stroke-width="0.6"/>
<line x1="134.05" y1="276.99" x2="136.25" y2="276.99" stroke="#666" stroke-width="0.6"/>
<rect x="132.57" y="285.24" width="5.15" height="31.06" fill="#ff0000" stroke="#222" stroke-width="0.4"/>
<line x1="146.35" y1="308.05" x2="146.35" y2="311.45" stroke="#666" stroke-width="0.6"/>
<line x1="145.25" y1="308.05" x2="147.45" y2="308.05" stroke="#666" stroke-width="0.6"/>
<rect x="143.78" y="311.45" width="5.15" height="4.85" fill="#0000ff" stroke="#222" stroke-width="0.4"/>
<line x1="151.90" y1="290.58" x2="151.90" y2="297.37" stroke="#666" stroke-width="0.6"/>
<line x1="150.80" y1="290.58" x2="153.00" y2="290.58" stroke="#666" stroke-width="0.6"/>
<rect x="149.33" y="297.37" width="5.15" height="18.93" fill="#ffff00" stroke="#222" stroke-width="0.4"/>
<line x1="157.45" y1="258.06" x2="157.45" y2="272.87" stroke="#666" stroke-width="0.6"/>
<line x1="156.35" y1="258.06" x2="158.55" y2="258.06" stroke="#666" stroke-width="0.6"/>
<rect x="154.88" y="272.87" width="5.15" height="43.43" fill="#ff0000" stroke="#222" stroke-width="0.4"/>
<text x="135.43" y="273.10" font-size="5.0" text-anchor="middle" font-weight="bold" font-style="normal" fill="#222" dominant-baseline="central" font-family='"Liberation Sans", Arial, sans-serif' letter-spacing="0.55">***</text>
<text x="157.73" y="253.70" font-size="5.0" text-anchor="middle" font-weight="bold" font-style="normal" fill="#222" dominant-baseline="central" font-family='"Liberation Sans", Arial, sans-serif' letter-spacing="0.55">***</text>
<text x="152.18" y="287.50" font-size="5.0" text-anchor="middle" font-weight="bold" font-style="normal" fill="#222" dominant-baseline="central" font-family='"Liberation Sans", Arial, sans-serif' letter-spacing="0.55">*</text>
<rect x="34.50" y="243.60" width="35.30" height="24.40" fill="#f6f6f6" stroke="none" stroke-width="0"/>
<rect x="37.00" y="247.00" width="9.20" height="2.00" fill="#1818b4" stroke="none" stroke-width="0"/>
<text x="51.00" y="248.00" font-size="4.7" text-anchor="start" font-weight="normal" font-style="normal" fill="#3c3c3c" dominant-baseline="central" font-family='"Liberation Sans", Arial, sans-serif'>1% DSS</text>
<rect x="37.00" y="254.90" width="9.20" height="2.00" fill="#a4a414" stroke="none" stroke-width="0"/>
<text x="51.00" y="255.90" font-size="4.7" text-anchor="start" font-weight="normal" font-style="normal" fill="#3c3c3c" dominant-baseline="central" font-family='"Liberation Sans", Arial, sans-serif'>2% DSS</text>
<rect x="37.00" y="262.80" width="9.20" height="2.00" fill="#ac1212" stroke="none" stroke-width="0"/>
<text x="51.00" y="263.80" font-size="4.7" text-anchor="start" font-weight="normal" font-style="normal" fill="#3c3c3c" dominant-baseline="central" font-family='"Liberation Sans", Arial, sans-serif'>3% DSS</text>
<text x="92.20" y="354.30" font-size="9.6" text-anchor="middle" font-weight="bold" font-style="normal" fill="#000" dominant-baseline="central" font-family='"Liberation Serif", serif'>(c)</text>
<text x="276.40" y="117.00" font-size="5.6" text-anchor="middle" font-weight="bold" font-style="normal" fill="#111" dominant-baseline="central" font-family='"Liberation Sans", Arial, sans-serif'>1% DSS</text>
<text x="345.15" y="117.00" font-size="5.6" text-anchor="middle" font-weight="bold" font-style="normal" fill="#111" dominant-baseline="central" font-family='"Liberation Sans", Arial, sans-serif'>2% DSS</text>
<text x="414.00" y="117.00" font-size="5.6" text-anchor="middle" font-weight="bold" font-style="normal" fill="#111" dominant-baseline="central" font-family='"Liberation Sans", Arial, sans-serif'>3% DSS</text>
<text x="221.30" y="152.00" font-size="5.35" text-anchor="middle" font-weight="bold" font-style="normal" fill="#111" dominant-baseline="central" font-family='"Liberation Sans", Arial, sans-serif' transform="rotate(-90 221.3 152.0)" stroke="#111" stroke-width="0.25" letter-spacing="0.12">Lcn2 / feces (ng/g)</text>
<text x="241.60" y="124.20" font-size="4.6" text-anchor="end" font-weight="normal" font-style="normal" fill="#333" dominant-baseline="central" font-family='"Liberation Sans", Arial, sans-serif' stroke="#333" stroke-width="0.15">40000</text>
<text x="241.60" y="136.95" font-size="4.6" text-anchor="end" font-weight="normal" font-style="normal" fill="#333" dominant-baseline="central" font-family='"Liberation Sans", Arial, sans-serif' stroke="#333" stroke-width="0.15">30000</text>
<text x="241.60" y="149.70" font-size="4.6" text-anchor="end" font-weight="normal" font-style="normal" fill="#333" dominant-baseline="central" font-family='"Liberation Sans", Arial, sans-serif' stroke="#333" stroke-width="0.15">20000</text>
<text x="241.60" y="162.45" font-size="4.6" text-anchor="end" font-weight="normal" font-style="normal" fill="#333" dominant-baseline="central" font-family='"Liberation Sans", Arial, sans-serif' stroke="#333" stroke-width="0.15">10000</text>
<text x="241.60" y="175.20" font-size="4.6" text-anchor="end" font-weight="normal" font-style="normal" fill="#333" dominant-baseline="central" font-family='"Liberation Sans", Arial, sans-serif' stroke="#333" stroke-width="0.15">0</text>
<text x="241.60" y="187.95" font-size="4.6" text-anchor="end" font-weight="normal" font-style="normal" fill="#333" dominant-baseline="central" font-family='"Liberation Sans", Arial, sans-serif' stroke="#333" stroke-width="0.15">-10000</text>
<line x1="243.00" y1="175.20" x2="309.80" y2="175.20" stroke="#222" stroke-width="0.7" stroke-dasharray="0.7 1.1"/>
<line x1="242.00" y1="124.20" x2="243.40" y2="124.20" stroke="#777" stroke-width="0.6"/>
<line x1="240.80" y1="124.20" x2="242.00" y2="124.20" stroke="#777" stroke-width="0.6"/>
<line x1="242.00" y1="136.95" x2="243.40" y2="136.95" stroke="#777" stroke-width="0.6"/>
<line x1="240.80" y1="136.95" x2="242.00" y2="136.95" stroke="#777" stroke-width="0.6"/>
<line x1="242.00" y1="149.70" x2="243.40" y2="149.70" stroke="#777" stroke-width="0.6"/>
<line x1="240.80" y1="149.70" x2="242.00" y2="149.70" stroke="#777" stroke-width="0.6"/>
<line x1="242.00" y1="162.45" x2="243.40" y2="162.45" stroke="#777" stroke-width="0.6"/>
<line x1="240.80" y1="162.45" x2="242.00" y2="162.45" stroke="#777" stroke-width="0.6"/>
<line x1="242.00" y1="175.20" x2="243.40" y2="175.20" stroke="#777" stroke-width="0.6"/>
<line x1="240.80" y1="175.20" x2="242.00" y2="175.20" stroke="#777" stroke-width="0.6"/>
<line x1="242.00" y1="187.95" x2="243.40" y2="187.95" stroke="#777" stroke-width="0.6"/>
<line x1="240.80" y1="187.95" x2="242.00" y2="187.95" stroke="#777" stroke-width="0.6"/>
<text x="244.00" y="128.00" font-size="4.6" text-anchor="start" font-weight="normal" font-style="normal" fill="#3a3a3a" dominant-baseline="central" font-family='"Liberation Sans", Arial, sans-serif'>PCC = 0.67</text>
<text x="244.00" y="133.60" font-size="4.6" text-anchor="start" font-weight="normal" font-style="normal" fill="#3a3a3a" dominant-baseline="central" font-family='"Liberation Sans", Arial, sans-serif'><tspan font-style="italic">p</tspan> = 0.1029</text>
<line x1="246.90" y1="177.37" x2="305.70" y2="162.83" stroke="#1a1aff" stroke-width="1.2"/>
<polyline points="246.90,175.06 251.80,174.08 256.70,173.06 261.60,172.00 266.50,170.90 271.40,169.75 276.30,168.56 281.20,167.33 286.10,166.05 291.00,164.73 295.90,163.37 300.80,161.97 305.70,160.52" fill="none" stroke="#4848f0" stroke-width="0.6" stroke-dasharray="1.1 0.8"/>
<polyline points="246.90,179.68 251.80,178.23 256.70,176.83 261.60,175.47 266.50,174.15 271.40,172.87 276.30,171.64 281.20,170.45 286.10,169.30 291.00,168.20 295.90,167.14 300.80,166.12 305.70,165.14" fill="none" stroke="#4848f0" stroke-width="0.6" stroke-dasharray="1.1 0.8"/>
<circle cx="246.90" cy="175.20" r="1.75" fill="#000"/>
<circle cx="256.70" cy="175.20" r="1.75" fill="#000"/>
<circle cx="266.50" cy="175.20" r="1.75" fill="#000"/>
<circle cx="276.30" cy="173.03" r="1.75" fill="#000"/>
<text x="276.55" y="170.48" font-size="4.8" text-anchor="middle" font-weight="bold" font-style="normal" fill="#222" dominant-baseline="central" font-family='"Liberation Sans", Arial, sans-serif' letter-spacing="0.5">*</text>
<circle cx="286.10" cy="169.21" r="1.75" fill="#000"/>
<text x="286.35" y="166.66" font-size="4.8" text-anchor="middle" font-weight="bold" font-style="normal" fill="#222" dominant-baseline="central" font-family='"Liberation Sans", Arial, sans-serif' letter-spacing="0.5">***</text>
<circle cx="295.90" cy="154.29" r="1.75" fill="#000"/>
<text x="296.15" y="151.74" font-size="4.8" text-anchor="middle" font-weight="bold" font-style="normal" fill="#222" dominant-baseline="central" font-family='"Liberation Sans", Arial, sans-serif' letter-spacing="0.5">***</text>
<line x1="305.70" y1="166.15" x2="305.70" y2="172.52" stroke="#111" stroke-width="0.6"/>
<line x1="304.60" y1="166.15" x2="306.80" y2="166.15" stroke="#111" stroke-width="0.6"/>
<line x1="304.60" y1="172.52" x2="306.80" y2="172.52" stroke="#111" stroke-width="0.6"/>
<circle cx="305.70" cy="169.33" r="1.75" fill="#000"/>
<text x="305.95" y="163.80" font-size="4.8" text-anchor="middle" font-weight="bold" font-style="normal" fill="#222" dominant-baseline="central" font-family='"Liberation Sans", Arial, sans-serif' letter-spacing="0.5">**</text>
<line x1="311.80" y1="175.20" x2="378.50" y2="175.20" stroke="#222" stroke-width="0.7" stroke-dasharray="0.7 1.1"/>
<line x1="310.80" y1="124.20" x2="312.20" y2="124.20" stroke="#777" stroke-width="0.6"/>
<line x1="310.80" y1="136.95" x2="312.20" y2="136.95" stroke="#777" stroke-width="0.6"/>
<line x1="310.80" y1="149.70" x2="312.20" y2="149.70" stroke="#777" stroke-width="0.6"/>
<line x1="310.80" y1="162.45" x2="312.20" y2="162.45" stroke="#777" stroke-width="0.6"/>
<line x1="310.80" y1="175.20" x2="312.20" y2="175.20" stroke="#777" stroke-width="0.6"/>
<line x1="310.80" y1="187.95" x2="312.20" y2="187.95" stroke="#777" stroke-width="0.6"/>
<text x="312.80" y="128.00" font-size="4.6" text-anchor="start" font-weight="normal" font-style="normal" fill="#3a3a3a" dominant-baseline="central" font-family='"Liberation Sans", Arial, sans-serif'>PCC = 0.83</text>
<text x="312.80" y="133.60" font-size="4.6" text-anchor="start" font-weight="normal" font-style="normal" fill="#3a3a3a" dominant-baseline="central" font-family='"Liberation Sans", Arial, sans-serif'><tspan font-style="italic">p</tspan> = 0.0212</text>
<line x1="315.70" y1="175.58" x2="374.50" y2="166.66" stroke="#1a1aff" stroke-width="1.2"/>
<polyline points="315.70,174.38 320.60,173.76 325.50,173.11 330.40,172.45 335.30,171.76 340.20,171.05 345.10,170.32 350.00,169.56 354.90,168.78 359.80,167.99 364.70,167.16 369.60,166.32 374.50,165.45" fill="none" stroke="#4848f0" stroke-width="0.6" stroke-dasharray="1.1 0.8"/>
<polyline points="315.70,176.79 320.60,175.92 325.50,175.08 330.40,174.25 335.30,173.46 340.20,172.68 345.10,171.92 350.00,171.19 354.90,170.48 359.80,169.79 364.70,169.13 369.60,168.48 374.50,167.86" fill="none" stroke="#4848f0" stroke-width="0.6" stroke-dasharray="1.1 0.8"/>
<circle cx="315.70" cy="175.20" r="1.75" fill="#000"/>
<circle cx="325.50" cy="175.20" r="1.75" fill="#000"/>
<circle cx="335.30" cy="173.16" r="1.75" fill="#000"/>
<line x1="345.10" y1="168.31" x2="345.10" y2="176.22" stroke="#111" stroke-width="0.6"/>
<line x1="344.00" y1="168.31" x2="346.20" y2="168.31" stroke="#111" stroke-width="0.6"/>
<line x1="344.00" y1="176.22" x2="346.20" y2="176.22" stroke="#111" stroke-width="0.6"/>
<circle cx="345.10" cy="172.27" r="1.75" fill="#000"/>
<text x="345.35" y="165.97" font-size="4.8" text-anchor="middle" font-weight="bold" font-style="normal" fill="#222" dominant-baseline="central" font-family='"Liberation Sans", Arial, sans-serif' letter-spacing="0.5">*</text>
<line x1="354.90" y1="161.69" x2="354.90" y2="169.59" stroke="#111" stroke-width="0.6"/>
<line x1="353.80" y1="161.69" x2="356.00" y2="161.69" stroke="#111" stroke-width="0.6"/>
<line x1="353.80" y1="169.59" x2="356.00" y2="169.59" stroke="#111" stroke-width="0.6"/>
<circle cx="354.90" cy="165.64" r="1.75" fill="#000"/>
<text x="355.15" y="159.34" font-size="4.8" text-anchor="middle" font-weight="bold" font-style="normal" fill="#222" dominant-baseline="central" font-family='"Liberation Sans", Arial, sans-serif' letter-spacing="0.5">***</text>
<line x1="364.70" y1="168.70" x2="364.70" y2="172.52" stroke="#111" stroke-width="0.6"/>
<line x1="363.60" y1="168.70" x2="365.80" y2="168.70" stroke="#111" stroke-width="0.6"/>
<line x1="363.60" y1="172.52" x2="365.80" y2="172.52" stroke="#111" stroke-width="0.6"/>
<circle cx="364.70" cy="170.61" r="1.75" fill="#000"/>
<text x="364.95" y="166.35" font-size="4.8" text-anchor="middle" font-weight="bold" font-style="normal" fill="#222" dominant-baseline="central" font-family='"Liberation Sans", Arial, sans-serif' letter-spacing="0.5">***</text>
<line x1="374.50" y1="165.25" x2="374.50" y2="169.08" stroke="#111" stroke-width="0.6"/>
<line x1="373.40" y1="165.25" x2="375.60" y2="165.25" stroke="#111" stroke-width="0.6"/>
<line x1="373.40" y1="169.08" x2="375.60" y2="169.08" stroke="#111" stroke-width="0.6"/>
<circle cx="374.50" cy="167.17" r="1.75" fill="#000"/>
<text x="374.75" y="162.91" font-size="4.8" text-anchor="middle" font-weight="bold" font-style="normal" fill="#222" dominant-baseline="central" font-family='"Liberation Sans", Arial, sans-serif' letter-spacing="0.5">***</text>
<line x1="380.50" y1="175.20" x2="447.50" y2="175.20" stroke="#222" stroke-width="0.7" stroke-dasharray="0.7 1.1"/>
<line x1="379.50" y1="124.20" x2="380.90" y2="124.20" stroke="#777" stroke-width="0.6"/>
<line x1="379.50" y1="136.95" x2="380.90" y2="136.95" stroke="#777" stroke-width="0.6"/>
<line x1="379.50" y1="149.70" x2="380.90" y2="149.70" stroke="#777" stroke-width="0.6"/>
<line x1="379.50" y1="162.45" x2="380.90" y2="162.45" stroke="#777" stroke-width="0.6"/>
<line x1="379.50" y1="175.20" x2="380.90" y2="175.20" stroke="#777" stroke-width="0.6"/>
<line x1="379.50" y1="187.95" x2="380.90" y2="187.95" stroke="#777" stroke-width="0.6"/>
<text x="381.50" y="128.00" font-size="4.6" text-anchor="start" font-weight="normal" font-style="normal" fill="#3a3a3a" dominant-baseline="central" font-family='"Liberation Sans", Arial, sans-serif'>PCC = 0.88</text>
<text x="381.50" y="133.60" font-size="4.6" text-anchor="start" font-weight="normal" font-style="normal" fill="#3a3a3a" dominant-baseline="central" font-family='"Liberation Sans", Arial, sans-serif'><tspan font-style="italic">p</tspan> = 0.0089</text>
<line x1="384.40" y1="180.55" x2="443.20" y2="148.42" stroke="#1a1aff" stroke-width="1.2"/>
<polyline points="384.40,177.54 389.30,175.17 394.20,172.75 399.10,170.26 404.00,167.73 408.90,165.13 413.80,162.48 418.70,159.78 423.60,157.02 428.50,154.20 433.40,151.33 438.30,148.40 443.20,145.41" fill="none" stroke="#4848f0" stroke-width="0.6" stroke-dasharray="1.1 0.8"/>
<polyline points="384.40,183.57 389.30,180.58 394.20,177.65 399.10,174.78 404.00,171.96 408.90,169.20 413.80,166.50 418.70,163.85 423.60,161.25 428.50,158.72 433.40,156.23 438.30,153.81 443.20,151.44" fill="none" stroke="#4848f0" stroke-width="0.6" stroke-dasharray="1.1 0.8"/>
<circle cx="384.40" cy="175.20" r="1.75" fill="#000"/>
<circle cx="394.20" cy="175.20" r="1.75" fill="#000"/>
<circle cx="404.00" cy="175.20" r="1.75" fill="#000"/>
<line x1="413.80" y1="167.68" x2="413.80" y2="172.52" stroke="#111" stroke-width="0.6"/>
<line x1="412.70" y1="167.68" x2="414.90" y2="167.68" stroke="#111" stroke-width="0.6"/>
<line x1="412.70" y1="172.52" x2="414.90" y2="172.52" stroke="#111" stroke-width="0.6"/>
<circle cx="413.80" cy="170.10" r="1.75" fill="#000"/>
<text x="414.05" y="165.33" font-size="4.8" text-anchor="middle" font-weight="bold" font-style="normal" fill="#222" dominant-baseline="central" font-family='"Liberation Sans", Arial, sans-serif' letter-spacing="0.5">***</text>
<line x1="423.60" y1="144.73" x2="423.60" y2="156.46" stroke="#111" stroke-width="0.6"/>
<line x1="422.50" y1="144.73" x2="424.70" y2="144.73" stroke="#111" stroke-width="0.6"/>
<line x1="422.50" y1="156.46" x2="424.70" y2="156.46" stroke="#111" stroke-width="0.6"/>
<circle cx="423.60" cy="150.59" r="1.75" fill="#000"/>
<text x="423.85" y="142.38" font-size="4.8" text-anchor="middle" font-weight="bold" font-style="normal" fill="#222" dominant-baseline="central" font-family='"Liberation Sans", Arial, sans-serif' letter-spacing="0.5">***</text>
<line x1="433.40" y1="158.11" x2="433.40" y2="161.17" stroke="#111" stroke-width="0.6"/>
<line x1="432.30" y1="158.11" x2="434.50" y2="158.11" stroke="#111" stroke-width="0.6"/>
<line x1="432.30" y1="161.17" x2="434.50" y2="161.17" stroke="#111" stroke-width="0.6"/>
<circle cx="433.40" cy="159.64" r="1.75" fill="#000"/>
<text x="433.65" y="155.77" font-size="4.8" text-anchor="middle" font-weight="bold" font-style="normal" fill="#222" dominant-baseline="central" font-family='"Liberation Sans", Arial, sans-serif' letter-spacing="0.5">***</text>
<circle cx="443.20" cy="135.42" r="1.75" fill="#000"/>
<text x="443.45" y="132.87" font-size="4.8" text-anchor="middle" font-weight="bold" font-style="normal" fill="#222" dominant-baseline="central" font-family='"Liberation Sans", Arial, sans-serif' letter-spacing="0.5">***</text>
<text x="226.20" y="221.75" font-size="5.35" text-anchor="middle" font-weight="bold" font-style="normal" fill="#111" dominant-baseline="central" font-family='"Liberation Sans", Arial, sans-serif' transform="rotate(-90 226.2 221.75)" stroke="#111" stroke-width="0.25" letter-spacing="0.12">MPO / feces (ng/g)</text>
<text x="241.60" y="194.26" font-size="4.6" text-anchor="end" font-weight="normal" font-style="normal" fill="#333" dominant-baseline="central" font-family='"Liberation Sans", Arial, sans-serif' stroke="#333" stroke-width="0.15">80</text>
<text x="241.60" y="206.82" font-size="4.6" text-anchor="end" font-weight="normal" font-style="normal" fill="#333" dominant-baseline="central" font-family='"Liberation Sans", Arial, sans-serif' stroke="#333" stroke-width="0.15">60</text>
<text x="241.60" y="219.38" font-size="4.6" text-anchor="end" font-weight="normal" font-style="normal" fill="#333" dominant-baseline="central" font-family='"Liberation Sans", Arial, sans-serif' stroke="#333" stroke-width="0.15">40</text>
<text x="241.60" y="231.94" font-size="4.6" text-anchor="end" font-weight="normal" font-style="normal" fill="#333" dominant-baseline="central" font-family='"Liberation Sans", Arial, sans-serif' stroke="#333" stroke-width="0.15">20</text>
<text x="241.60" y="244.50" font-size="4.6" text-anchor="end" font-weight="normal" font-style="normal" fill="#333" dominant-baseline="central" font-family='"Liberation Sans", Arial, sans-serif' stroke="#333" stroke-width="0.15">0</text>
<text x="241.60" y="257.06" font-size="4.6" text-anchor="end" font-weight="normal" font-style="normal" fill="#333" dominant-baseline="central" font-family='"Liberation Sans", Arial, sans-serif' stroke="#333" stroke-width="0.15">-20</text>
<line x1="243.00" y1="244.50" x2="309.80" y2="244.50" stroke="#222" stroke-width="0.7" stroke-dasharray="0.7 1.1"/>
<line x1="242.00" y1="194.26" x2="243.40" y2="194.26" stroke="#777" stroke-width="0.6"/>
<line x1="240.80" y1="194.26" x2="242.00" y2="194.26" stroke="#777" stroke-width="0.6"/>
<line x1="242.00" y1="206.82" x2="243.40" y2="206.82" stroke="#777" stroke-width="0.6"/>
<line x1="240.80" y1="206.82" x2="242.00" y2="206.82" stroke="#777" stroke-width="0.6"/>
<line x1="242.00" y1="219.38" x2="243.40" y2="219.38" stroke="#777" stroke-width="0.6"/>
<line x1="240.80" y1="219.38" x2="242.00" y2="219.38" stroke="#777" stroke-width="0.6"/>
<line x1="242.00" y1="231.94" x2="243.40" y2="231.94" stroke="#777" stroke-width="0.6"/>
<line x1="240.80" y1="231.94" x2="242.00" y2="231.94" stroke="#777" stroke-width="0.6"/>
<line x1="242.00" y1="244.50" x2="243.40" y2="244.50" stroke="#777" stroke-width="0.6"/>
<line x1="240.80" y1="244.50" x2="242.00" y2="244.50" stroke="#777" stroke-width="0.6"/>
<line x1="242.00" y1="257.06" x2="243.40" y2="257.06" stroke="#777" stroke-width="0.6"/>
<line x1="240.80" y1="257.06" x2="242.00" y2="257.06" stroke="#777" stroke-width="0.6"/>
<text x="244.00" y="197.20" font-size="4.6" text-anchor="start" font-weight="normal" font-style="normal" fill="#3a3a3a" dominant-baseline="central" font-family='"Liberation Sans", Arial, sans-serif'>PCC = 0.51</text>
<text x="244.00" y="202.80" font-size="4.6" text-anchor="start" font-weight="normal" font-style="normal" fill="#3a3a3a" dominant-baseline="central" font-family='"Liberation Sans", Arial, sans-serif'><tspan font-style="italic">p</tspan> = 0.2421</text>
<line x1="246.90" y1="245.76" x2="305.70" y2="238.22" stroke="#1a1aff" stroke-width="1.2"/>
<polyline points="246.90,243.78 251.80,243.35 256.70,242.89 261.60,242.39 266.50,241.85 271.40,241.28 276.30,240.67 281.20,240.02 286.10,239.34 291.00,238.62 295.90,237.86 300.80,237.07 305.70,236.24" fill="none" stroke="#4848f0" stroke-width="0.6" stroke-dasharray="1.1 0.8"/>
<polyline points="246.90,247.73 251.80,246.90 256.70,246.11 261.60,245.36 266.50,244.64 271.40,243.95 276.30,243.31 281.20,242.70 286.10,242.12 291.00,241.59 295.90,241.09 300.80,240.62 305.70,240.20" fill="none" stroke="#4848f0" stroke-width="0.6" stroke-dasharray="1.1 0.8"/>
<circle cx="246.90" cy="244.50" r="1.75" fill="#000"/>
<circle cx="256.70" cy="244.50" r="1.75" fill="#000"/>
<circle cx="266.50" cy="244.50" r="1.75" fill="#000"/>
<circle cx="276.30" cy="244.50" r="1.75" fill="#000"/>
<circle cx="286.10" cy="236.96" r="1.75" fill="#000"/>
<text x="286.35" y="234.42" font-size="4.8" text-anchor="middle" font-weight="bold" font-style="normal" fill="#222" dominant-baseline="central" font-family='"Liberation Sans", Arial, sans-serif' letter-spacing="0.5">***</text>
<line x1="295.90" y1="226.73" x2="295.90" y2="237.15" stroke="#111" stroke-width="0.6"/>
<line x1="294.80" y1="226.73" x2="297.00" y2="226.73" stroke="#111" stroke-width="0.6"/>
<line x1="294.80" y1="237.15" x2="297.00" y2="237.15" stroke="#111" stroke-width="0.6"/>
<circle cx="295.90" cy="231.94" r="1.75" fill="#000"/>
<text x="296.15" y="224.38" font-size="4.8" text-anchor="middle" font-weight="bold" font-style="normal" fill="#222" dominant-baseline="central" font-family='"Liberation Sans", Arial, sans-serif' letter-spacing="0.5">***</text>
<circle cx="305.70" cy="244.50" r="1.75" fill="#000"/>
<line x1="311.80" y1="244.50" x2="378.50" y2="244.50" stroke="#222" stroke-width="0.7" stroke-dasharray="0.7 1.1"/>
<line x1="310.80" y1="194.26" x2="312.20" y2="194.26" stroke="#777" stroke-width="0.6"/>
<line x1="310.80" y1="206.82" x2="312.20" y2="206.82" stroke="#777" stroke-width="0.6"/>
<line x1="310.80" y1="219.38" x2="312.20" y2="219.38" stroke="#777" stroke-width="0.6"/>
<line x1="310.80" y1="231.94" x2="312.20" y2="231.94" stroke="#777" stroke-width="0.6"/>
<line x1="310.80" y1="244.50" x2="312.20" y2="244.50" stroke="#777" stroke-width="0.6"/>
<line x1="310.80" y1="257.06" x2="312.20" y2="257.06" stroke="#777" stroke-width="0.6"/>
<text x="312.80" y="197.20" font-size="4.6" text-anchor="start" font-weight="normal" font-style="normal" fill="#3a3a3a" dominant-baseline="central" font-family='"Liberation Sans", Arial, sans-serif'>PCC = 0.47</text>
<text x="312.80" y="202.80" font-size="4.6" text-anchor="start" font-weight="normal" font-style="normal" fill="#3a3a3a" dominant-baseline="central" font-family='"Liberation Sans", Arial, sans-serif'><tspan font-style="italic">p</tspan> = 0.2835</text>
<line x1="315.70" y1="245.13" x2="374.50" y2="241.05" stroke="#1a1aff" stroke-width="1.2"/>
<polyline points="315.70,243.64 320.60,243.46 325.50,243.24 330.40,242.99 335.30,242.72 340.20,242.42 345.10,242.10 350.00,241.74 354.90,241.36 359.80,240.95 364.70,240.52 369.60,240.05 374.50,239.56" fill="none" stroke="#4848f0" stroke-width="0.6" stroke-dasharray="1.1 0.8"/>
<polyline points="315.70,246.61 320.60,246.12 325.50,245.66 330.40,245.22 335.30,244.81 340.20,244.43 345.10,244.08 350.00,243.75 354.90,243.45 359.80,243.18 364.70,242.94 369.60,242.72 374.50,242.53" fill="none" stroke="#4848f0" stroke-width="0.6" stroke-dasharray="1.1 0.8"/>
<circle cx="315.70" cy="244.50" r="1.75" fill="#000"/>
<circle cx="325.50" cy="244.50" r="1.75" fill="#000"/>
<circle cx="335.30" cy="244.50" r="1.75" fill="#000"/>
<circle cx="345.10" cy="244.50" r="1.75" fill="#000"/>
<line x1="354.90" y1="230.31" x2="354.90" y2="235.33" stroke="#111" stroke-width="0.6"/>
<line x1="353.80" y1="230.31" x2="356.00" y2="230.31" stroke="#111" stroke-width="0.6"/>
<line x1="353.80" y1="235.33" x2="356.00" y2="235.33" stroke="#111" stroke-width="0.6"/>
<circle cx="354.90" cy="232.82" r="1.75" fill="#000"/>
<text x="355.15" y="227.96" font-size="4.8" text-anchor="middle" font-weight="bold" font-style="normal" fill="#222" dominant-baseline="central" font-family='"Liberation Sans", Arial, sans-serif' letter-spacing="0.5">***</text>
<line x1="364.70" y1="238.22" x2="364.70" y2="241.99" stroke="#111" stroke-width="0.6"/>
<line x1="363.60" y1="238.22" x2="365.80" y2="238.22" stroke="#111" stroke-width="0.6"/>
<line x1="363.60" y1="241.99" x2="365.80" y2="241.99" stroke="#111" stroke-width="0.6"/>
<circle cx="364.70" cy="240.10" r="1.75" fill="#000"/>
<text x="364.95" y="235.87" font-size="4.8" text-anchor="middle" font-weight="bold" font-style="normal" fill="#222" dominant-baseline="central" font-family='"Liberation Sans", Arial, sans-serif' letter-spacing="0.5">***</text>
<circle cx="374.50" cy="242.62" r="1.75" fill="#000"/>
<line x1="380.50" y1="244.50" x2="447.50" y2="244.50" stroke="#222" stroke-width="0.7" stroke-dasharray="0.7 1.1"/>
<line x1="379.50" y1="194.26" x2="380.90" y2="194.26" stroke="#777" stroke-width="0.6"/>
<line x1="379.50" y1="206.82" x2="380.90" y2="206.82" stroke="#777" stroke-width="0.6"/>
<line x1="379.50" y1="219.38" x2="380.90" y2="219.38" stroke="#777" stroke-width="0.6"/>
<line x1="379.50" y1="231.94" x2="380.90" y2="231.94" stroke="#777" stroke-width="0.6"/>
<line x1="379.50" y1="244.50" x2="380.90" y2="244.50" stroke="#777" stroke-width="0.6"/>
<line x1="379.50" y1="257.06" x2="380.90" y2="257.06" stroke="#777" stroke-width="0.6"/>
<text x="381.50" y="197.20" font-size="4.6" text-anchor="start" font-weight="normal" font-style="normal" fill="#3a3a3a" dominant-baseline="central" font-family='"Liberation Sans", Arial, sans-serif'>PCC = 0.81</text>
<text x="381.50" y="202.80" font-size="4.6" text-anchor="start" font-weight="normal" font-style="normal" fill="#3a3a3a" dominant-baseline="central" font-family='"Liberation Sans", Arial, sans-serif'><tspan font-style="italic">p</tspan> = 0.0281</text>
<line x1="384.40" y1="247.64" x2="443.20" y2="225.03" stroke="#1a1aff" stroke-width="1.2"/>
<polyline points="384.40,244.67 389.30,243.09 394.20,241.45 399.10,239.76 404.00,238.02 408.90,236.21 413.80,234.36 418.70,232.45 423.60,230.48 428.50,228.46 433.40,226.38 438.30,224.25 443.20,222.06" fill="none" stroke="#4848f0" stroke-width="0.6" stroke-dasharray="1.1 0.8"/>
<polyline points="384.40,250.61 389.30,248.42 394.20,246.29 399.10,244.21 404.00,242.19 408.90,240.23 413.80,238.31 418.70,236.46 423.60,234.66 428.50,232.91 433.40,231.22 438.30,229.58 443.20,228.00" fill="none" stroke="#4848f0" stroke-width="0.6" stroke-dasharray="1.1 0.8"/>
<circle cx="384.40" cy="244.50" r="1.75" fill="#000"/>
<circle cx="394.20" cy="244.50" r="1.75" fill="#000"/>
<circle cx="404.00" cy="244.50" r="1.75" fill="#000"/>
<line x1="413.80" y1="238.85" x2="413.80" y2="242.62" stroke="#111" stroke-width="0.6"/>
<line x1="412.70" y1="238.85" x2="414.90" y2="238.85" stroke="#111" stroke-width="0.6"/>
<line x1="412.70" y1="242.62" x2="414.90" y2="242.62" stroke="#111" stroke-width="0.6"/>
<circle cx="413.80" cy="240.73" r="1.75" fill="#000"/>
<text x="414.05" y="236.50" font-size="4.8" text-anchor="middle" font-weight="bold" font-style="normal" fill="#222" dominant-baseline="central" font-family='"Liberation Sans", Arial, sans-serif' letter-spacing="0.5">***</text>
<line x1="423.60" y1="216.87" x2="423.60" y2="234.45" stroke="#111" stroke-width="0.6"/>
<line x1="422.50" y1="216.87" x2="424.70" y2="216.87" stroke="#111" stroke-width="0.6"/>
<line x1="422.50" y1="234.45" x2="424.70" y2="234.45" stroke="#111" stroke-width="0.6"/>
<circle cx="423.60" cy="225.66" r="1.75" fill="#000"/>
<text x="423.85" y="214.52" font-size="4.8" text-anchor="middle" font-weight="bold" font-style="normal" fill="#222" dominant-baseline="central" font-family='"Liberation Sans", Arial, sans-serif' letter-spacing="0.5">***</text>
<line x1="433.40" y1="235.08" x2="433.40" y2="237.59" stroke="#111" stroke-width="0.6"/>
<line x1="432.30" y1="235.08" x2="434.50" y2="235.08" stroke="#111" stroke-width="0.6"/>
<line x1="432.30" y1="237.59" x2="434.50" y2="237.59" stroke="#111" stroke-width="0.6"/>
<circle cx="433.40" cy="236.34" r="1.75" fill="#000"/>
<text x="433.65" y="232.73" font-size="4.8" text-anchor="middle" font-weight="bold" font-style="normal" fill="#222" dominant-baseline="central" font-family='"Liberation Sans", Arial, sans-serif' letter-spacing="0.5">***</text>
<circle cx="443.20" cy="206.82" r="1.75" fill="#000"/>
<text x="443.45" y="204.27" font-size="4.8" text-anchor="middle" font-weight="bold" font-style="normal" fill="#222" dominant-baseline="central" font-family='"Liberation Sans", Arial, sans-serif' letter-spacing="0.5">***</text>
<text x="226.30" y="292.00" font-size="5.35" text-anchor="middle" font-weight="bold" font-style="normal" fill="#111" dominant-baseline="central" font-family='"Liberation Sans", Arial, sans-serif' transform="rotate(-90 226.3 292.0)" stroke="#111" stroke-width="0.25" letter-spacing="0.12">Hgb / feces (ng/g)</text>
<text x="241.60" y="262.30" font-size="4.6" text-anchor="end" font-weight="normal" font-style="normal" fill="#333" dominant-baseline="central" font-family='"Liberation Sans", Arial, sans-serif' stroke="#333" stroke-width="0.15">100</text>
<text x="241.60" y="275.10" font-size="4.6" text-anchor="end" font-weight="normal" font-style="normal" fill="#333" dominant-baseline="central" font-family='"Liberation Sans", Arial, sans-serif' stroke="#333" stroke-width="0.15">75</text>
<text x="241.60" y="287.90" font-size="4.6" text-anchor="end" font-weight="normal" font-style="normal" fill="#333" dominant-baseline="central" font-family='"Liberation Sans", Arial, sans-serif' stroke="#333" stroke-width="0.15">50</text>
<text x="241.60" y="300.70" font-size="4.6" text-anchor="end" font-weight="normal" font-style="normal" fill="#333" dominant-baseline="central" font-family='"Liberation Sans", Arial, sans-serif' stroke="#333" stroke-width="0.15">25</text>
<text x="241.60" y="313.50" font-size="4.6" text-anchor="end" font-weight="normal" font-style="normal" fill="#333" dominant-baseline="central" font-family='"Liberation Sans", Arial, sans-serif' stroke="#333" stroke-width="0.15">0</text>
<text x="241.60" y="326.30" font-size="4.6" text-anchor="end" font-weight="normal" font-style="normal" fill="#333" dominant-baseline="central" font-family='"Liberation Sans", Arial, sans-serif' stroke="#333" stroke-width="0.15">-25</text>
<line x1="243.00" y1="313.50" x2="309.80" y2="313.50" stroke="#222" stroke-width="0.7" stroke-dasharray="0.7 1.1"/>
<line x1="242.00" y1="262.30" x2="243.40" y2="262.30" stroke="#777" stroke-width="0.6"/>
<line x1="240.80" y1="262.30" x2="242.00" y2="262.30" stroke="#777" stroke-width="0.6"/>
<line x1="242.00" y1="275.10" x2="243.40" y2="275.10" stroke="#777" stroke-width="0.6"/>
<line x1="240.80" y1="275.10" x2="242.00" y2="275.10" stroke="#777" stroke-width="0.6"/>
<line x1="242.00" y1="287.90" x2="243.40" y2="287.90" stroke="#777" stroke-width="0.6"/>
<line x1="240.80" y1="287.90" x2="242.00" y2="287.90" stroke="#777" stroke-width="0.6"/>
<line x1="242.00" y1="300.70" x2="243.40" y2="300.70" stroke="#777" stroke-width="0.6"/>
<line x1="240.80" y1="300.70" x2="242.00" y2="300.70" stroke="#777" stroke-width="0.6"/>
<line x1="242.00" y1="313.50" x2="243.40" y2="313.50" stroke="#777" stroke-width="0.6"/>
<line x1="240.80" y1="313.50" x2="242.00" y2="313.50" stroke="#777" stroke-width="0.6"/>
<line x1="242.00" y1="326.30" x2="243.40" y2="326.30" stroke="#777" stroke-width="0.6"/>
<line x1="240.80" y1="326.30" x2="242.00" y2="326.30" stroke="#777" stroke-width="0.6"/>
<text x="244.00" y="266.10" font-size="4.6" text-anchor="start" font-weight="normal" font-style="normal" fill="#3a3a3a" dominant-baseline="central" font-family='"Liberation Sans", Arial, sans-serif'>PCC = 0.03</text>
<text x="244.00" y="271.70" font-size="4.6" text-anchor="start" font-weight="normal" font-style="normal" fill="#3a3a3a" dominant-baseline="central" font-family='"Liberation Sans", Arial, sans-serif'><tspan font-style="italic">p</tspan> = 0.9443</text>
<line x1="246.90" y1="309.40" x2="305.70" y2="309.15" stroke="#1a1aff" stroke-width="1.2"/>
<polyline points="246.90,305.78 251.80,306.12 256.70,306.40 261.60,306.62 266.50,306.77 271.40,306.84 276.30,306.86 281.20,306.80 286.10,306.68 291.00,306.49 295.90,306.23 300.80,305.91 305.70,305.52" fill="none" stroke="#4848f0" stroke-width="0.6" stroke-dasharray="1.1 0.8"/>
<polyline points="246.90,313.03 251.80,312.64 256.70,312.32 261.60,312.06 266.50,311.87 271.40,311.75 276.30,311.70 281.20,311.71 286.10,311.79 291.00,311.93 295.90,312.15 300.80,312.43 305.70,312.78" fill="none" stroke="#4848f0" stroke-width="0.6" stroke-dasharray="1.1 0.8"/>
<circle cx="246.90" cy="313.50" r="1.75" fill="#000"/>
<circle cx="256.70" cy="313.50" r="1.75" fill="#000"/>
<line x1="266.50" y1="290.46" x2="266.50" y2="310.94" stroke="#111" stroke-width="0.6"/>
<line x1="265.40" y1="290.46" x2="267.60" y2="290.46" stroke="#111" stroke-width="0.6"/>
<line x1="265.40" y1="310.94" x2="267.60" y2="310.94" stroke="#111" stroke-width="0.6"/>
<circle cx="266.50" cy="300.70" r="1.75" fill="#000"/>
<text x="266.75" y="288.11" font-size="4.8" text-anchor="middle" font-weight="bold" font-style="normal" fill="#222" dominant-baseline="central" font-family='"Liberation Sans", Arial, sans-serif' letter-spacing="0.5">***</text>
<line x1="276.30" y1="305.31" x2="276.30" y2="306.33" stroke="#111" stroke-width="0.6"/>
<line x1="275.20" y1="305.31" x2="277.40" y2="305.31" stroke="#111" stroke-width="0.6"/>
<line x1="275.20" y1="306.33" x2="277.40" y2="306.33" stroke="#111" stroke-width="0.6"/>
<circle cx="276.30" cy="305.82" r="1.75" fill="#000"/>
<text x="276.55" y="302.96" font-size="4.8" text-anchor="middle" font-weight="bold" font-style="normal" fill="#222" dominant-baseline="central" font-family='"Liberation Sans", Arial, sans-serif' letter-spacing="0.5">**</text>
<line x1="286.10" y1="305.05" x2="286.10" y2="307.61" stroke="#111" stroke-width="0.6"/>
<line x1="285.00" y1="305.05" x2="287.20" y2="305.05" stroke="#111" stroke-width="0.6"/>
<line x1="285.00" y1="307.61" x2="287.20" y2="307.61" stroke="#111" stroke-width="0.6"/>
<circle cx="286.10" cy="306.33" r="1.75" fill="#000"/>
<text x="286.35" y="302.70" font-size="4.8" text-anchor="middle" font-weight="bold" font-style="normal" fill="#222" dominant-baseline="central" font-family='"Liberation Sans", Arial, sans-serif' letter-spacing="0.5">**</text>
<line x1="295.90" y1="309.40" x2="295.90" y2="312.48" stroke="#111" stroke-width="0.6"/>
<line x1="294.80" y1="309.40" x2="297.00" y2="309.40" stroke="#111" stroke-width="0.6"/>
<line x1="294.80" y1="312.48" x2="297.00" y2="312.48" stroke="#111" stroke-width="0.6"/>
<circle cx="295.90" cy="310.94" r="1.75" fill="#000"/>
<circle cx="305.70" cy="312.48" r="1.75" fill="#000"/>
<line x1="311.80" y1="313.50" x2="378.50" y2="313.50" stroke="#222" stroke-width="0.7" stroke-dasharray="0.7 1.1"/>
<line x1="310.80" y1="262.30" x2="312.20" y2="262.30" stroke="#777" stroke-width="0.6"/>
<line x1="310.80" y1="275.10" x2="312.20" y2="275.10" stroke="#777" stroke-width="0.6"/>
<line x1="310.80" y1="287.90" x2="312.20" y2="287.90" stroke="#777" stroke-width="0.6"/>
<line x1="310.80" y1="300.70" x2="312.20" y2="300.70" stroke="#777" stroke-width="0.6"/>
<line x1="310.80" y1="313.50" x2="312.20" y2="313.50" stroke="#777" stroke-width="0.6"/>
<line x1="310.80" y1="326.30" x2="312.20" y2="326.30" stroke="#777" stroke-width="0.6"/>
<text x="312.80" y="266.10" font-size="4.6" text-anchor="start" font-weight="normal" font-style="normal" fill="#3a3a3a" dominant-baseline="central" font-family='"Liberation Sans", Arial, sans-serif'>PCC = 0.76</text>
<text x="312.80" y="271.70" font-size="4.6" text-anchor="start" font-weight="normal" font-style="normal" fill="#3a3a3a" dominant-baseline="central" font-family='"Liberation Sans", Arial, sans-serif'><tspan font-style="italic">p</tspan> = 0.0488</text>
<line x1="315.70" y1="309.92" x2="374.50" y2="280.73" stroke="#1a1aff" stroke-width="1.2"/>
<polyline points="315.70,304.67 320.60,302.78 325.50,300.78 330.40,298.69 335.30,296.50 340.20,294.21 345.10,291.83 350.00,289.35 354.90,286.77 359.80,284.10 364.70,281.33 369.60,278.46 374.50,275.49" fill="none" stroke="#4848f0" stroke-width="0.6" stroke-dasharray="1.1 0.8"/>
<polyline points="315.70,315.16 320.60,312.19 325.50,309.32 330.40,306.55 335.30,303.88 340.20,301.30 345.10,298.82 350.00,296.43 354.90,294.15 359.80,291.96 364.70,289.87 369.60,287.87 374.50,285.97" fill="none" stroke="#4848f0" stroke-width="0.6" stroke-dasharray="1.1 0.8"/>
<circle cx="315.70" cy="313.50" r="1.75" fill="#000"/>
<line x1="325.50" y1="303.77" x2="325.50" y2="311.96" stroke="#111" stroke-width="0.6"/>
<line x1="324.40" y1="303.77" x2="326.60" y2="303.77" stroke="#111" stroke-width="0.6"/>
<line x1="324.40" y1="311.96" x2="326.60" y2="311.96" stroke="#111" stroke-width="0.6"/>
<circle cx="325.50" cy="307.87" r="1.75" fill="#000"/>
<text x="325.75" y="301.42" font-size="4.8" text-anchor="middle" font-weight="bold" font-style="normal" fill="#222" dominant-baseline="central" font-family='"Liberation Sans", Arial, sans-serif' letter-spacing="0.5">*</text>
<line x1="335.30" y1="300.19" x2="335.30" y2="307.36" stroke="#111" stroke-width="0.6"/>
<line x1="334.20" y1="300.19" x2="336.40" y2="300.19" stroke="#111" stroke-width="0.6"/>
<line x1="334.20" y1="307.36" x2="336.40" y2="307.36" stroke="#111" stroke-width="0.6"/>
<circle cx="335.30" cy="303.77" r="1.75" fill="#000"/>
<text x="335.55" y="297.84" font-size="4.8" text-anchor="middle" font-weight="bold" font-style="normal" fill="#222" dominant-baseline="central" font-family='"Liberation Sans", Arial, sans-serif' letter-spacing="0.5">***</text>
<line x1="345.10" y1="277.15" x2="345.10" y2="280.22" stroke="#111" stroke-width="0.6"/>
<line x1="344.00" y1="277.15" x2="346.20" y2="277.15" stroke="#111" stroke-width="0.6"/>
<line x1="344.00" y1="280.22" x2="346.20" y2="280.22" stroke="#111" stroke-width="0.6"/>
<circle cx="345.10" cy="278.68" r="1.75" fill="#000"/>
<text x="345.35" y="274.80" font-size="4.8" text-anchor="middle" font-weight="bold" font-style="normal" fill="#222" dominant-baseline="central" font-family='"Liberation Sans", Arial, sans-serif' letter-spacing="0.5">***</text>
<line x1="354.90" y1="284.32" x2="354.90" y2="302.75" stroke="#111" stroke-width="0.6"/>
<line x1="353.80" y1="284.32" x2="356.00" y2="284.32" stroke="#111" stroke-width="0.6"/>
<line x1="353.80" y1="302.75" x2="356.00" y2="302.75" stroke="#111" stroke-width="0.6"/>
<circle cx="354.90" cy="293.53" r="1.75" fill="#000"/>
<text x="355.15" y="281.97" font-size="4.8" text-anchor="middle" font-weight="bold" font-style="normal" fill="#222" dominant-baseline="central" font-family='"Liberation Sans", Arial, sans-serif' letter-spacing="0.5">***</text>
<line x1="364.70" y1="268.44" x2="364.70" y2="286.88" stroke="#111" stroke-width="0.6"/>
<line x1="363.60" y1="268.44" x2="365.80" y2="268.44" stroke="#111" stroke-width="0.6"/>
<line x1="363.60" y1="286.88" x2="365.80" y2="286.88" stroke="#111" stroke-width="0.6"/>
<circle cx="364.70" cy="277.66" r="1.75" fill="#000"/>
<text x="364.95" y="266.10" font-size="4.8" text-anchor="middle" font-weight="bold" font-style="normal" fill="#222" dominant-baseline="central" font-family='"Liberation Sans", Arial, sans-serif' letter-spacing="0.5">***</text>
<line x1="374.50" y1="288.67" x2="374.50" y2="293.79" stroke="#111" stroke-width="0.6"/>
<line x1="373.40" y1="288.67" x2="375.60" y2="288.67" stroke="#111" stroke-width="0.6"/>
<line x1="373.40" y1="293.79" x2="375.60" y2="293.79" stroke="#111" stroke-width="0.6"/>
<circle cx="374.50" cy="291.23" r="1.75" fill="#000"/>
<text x="374.75" y="286.32" font-size="4.8" text-anchor="middle" font-weight="bold" font-style="normal" fill="#222" dominant-baseline="central" font-family='"Liberation Sans", Arial, sans-serif' letter-spacing="0.5">***</text>
<line x1="380.50" y1="313.50" x2="447.50" y2="313.50" stroke="#222" stroke-width="0.7" stroke-dasharray="0.7 1.1"/>
<line x1="379.50" y1="262.30" x2="380.90" y2="262.30" stroke="#777" stroke-width="0.6"/>
<line x1="379.50" y1="275.10" x2="380.90" y2="275.10" stroke="#777" stroke-width="0.6"/>
<line x1="379.50" y1="287.90" x2="380.90" y2="287.90" stroke="#777" stroke-width="0.6"/>
<line x1="379.50" y1="300.70" x2="380.90" y2="300.70" stroke="#777" stroke-width="0.6"/>
<line x1="379.50" y1="313.50" x2="380.90" y2="313.50" stroke="#777" stroke-width="0.6"/>
<line x1="379.50" y1="326.30" x2="380.90" y2="326.30" stroke="#777" stroke-width="0.6"/>
<text x="381.50" y="266.10" font-size="4.6" text-anchor="start" font-weight="normal" font-style="normal" fill="#3a3a3a" dominant-baseline="central" font-family='"Liberation Sans", Arial, sans-serif'>PCC = 0.97</text>
<text x="381.50" y="271.70" font-size="4.6" text-anchor="start" font-weight="normal" font-style="normal" fill="#3a3a3a" dominant-baseline="central" font-family='"Liberation Sans", Arial, sans-serif'><tspan font-style="italic">p</tspan> = 0.0003</text>
<line x1="384.40" y1="314.52" x2="443.20" y2="284.32" stroke="#1a1aff" stroke-width="1.2"/>
<polyline points="384.40,312.51 389.30,310.20 394.20,307.85 399.10,305.46 404.00,303.04 408.90,300.57 413.80,298.08 418.70,295.54 423.60,292.97 428.50,290.36 433.40,287.71 438.30,285.02 443.20,282.30" fill="none" stroke="#4848f0" stroke-width="0.6" stroke-dasharray="1.1 0.8"/>
<polyline points="384.40,316.54 389.30,313.82 394.20,311.13 399.10,308.48 404.00,305.87 408.90,303.30 413.80,300.76 418.70,298.27 423.60,295.80 428.50,293.38 433.40,290.99 438.30,288.64 443.20,286.33" fill="none" stroke="#4848f0" stroke-width="0.6" stroke-dasharray="1.1 0.8"/>
<circle cx="384.40" cy="313.50" r="1.75" fill="#000"/>
<circle cx="394.20" cy="312.27" r="1.75" fill="#000"/>
<line x1="404.00" y1="304.28" x2="404.00" y2="312.48" stroke="#111" stroke-width="0.6"/>
<line x1="402.90" y1="304.28" x2="405.10" y2="304.28" stroke="#111" stroke-width="0.6"/>
<line x1="402.90" y1="312.48" x2="405.10" y2="312.48" stroke="#111" stroke-width="0.6"/>
<circle cx="404.00" cy="308.38" r="1.75" fill="#000"/>
<text x="404.25" y="301.94" font-size="4.8" text-anchor="middle" font-weight="bold" font-style="normal" fill="#222" dominant-baseline="central" font-family='"Liberation Sans", Arial, sans-serif' letter-spacing="0.5">*</text>
<line x1="413.80" y1="294.04" x2="413.80" y2="297.12" stroke="#111" stroke-width="0.6"/>
<line x1="412.70" y1="294.04" x2="414.90" y2="294.04" stroke="#111" stroke-width="0.6"/>
<line x1="412.70" y1="297.12" x2="414.90" y2="297.12" stroke="#111" stroke-width="0.6"/>
<circle cx="413.80" cy="295.58" r="1.75" fill="#000"/>
<text x="414.05" y="291.70" font-size="4.8" text-anchor="middle" font-weight="bold" font-style="normal" fill="#222" dominant-baseline="central" font-family='"Liberation Sans", Arial, sans-serif' letter-spacing="0.5">***</text>
<line x1="423.60" y1="288.41" x2="423.60" y2="296.60" stroke="#111" stroke-width="0.6"/>
<line x1="422.50" y1="288.41" x2="424.70" y2="288.41" stroke="#111" stroke-width="0.6"/>
<line x1="422.50" y1="296.60" x2="424.70" y2="296.60" stroke="#111" stroke-width="0.6"/>
<circle cx="423.60" cy="292.51" r="1.75" fill="#000"/>
<text x="423.85" y="286.06" font-size="4.8" text-anchor="middle" font-weight="bold" font-style="normal" fill="#222" dominant-baseline="central" font-family='"Liberation Sans", Arial, sans-serif' letter-spacing="0.5">***</text>
<line x1="433.40" y1="288.41" x2="433.40" y2="291.48" stroke="#111" stroke-width="0.6"/>
<line x1="432.30" y1="288.41" x2="434.50" y2="288.41" stroke="#111" stroke-width="0.6"/>
<line x1="432.30" y1="291.48" x2="434.50" y2="291.48" stroke="#111" stroke-width="0.6"/>
<circle cx="433.40" cy="289.95" r="1.75" fill="#000"/>
<text x="433.65" y="286.06" font-size="4.8" text-anchor="middle" font-weight="bold" font-style="normal" fill="#222" dominant-baseline="central" font-family='"Liberation Sans", Arial, sans-serif' letter-spacing="0.5">***</text>
<line x1="443.20" y1="284.32" x2="443.20" y2="286.36" stroke="#111" stroke-width="0.6"/>
<line x1="442.10" y1="284.32" x2="444.30" y2="284.32" stroke="#111" stroke-width="0.6"/>
<line x1="442.10" y1="286.36" x2="444.30" y2="286.36" stroke="#111" stroke-width="0.6"/>
<circle cx="443.20" cy="285.34" r="1.75" fill="#000"/>
<text x="443.45" y="281.97" font-size="4.8" text-anchor="middle" font-weight="bold" font-style="normal" fill="#222" dominant-baseline="central" font-family='"Liberation Sans", Arial, sans-serif' letter-spacing="0.5">***</text>
<line x1="246.90" y1="328.40" x2="246.90" y2="327.20" stroke="#777" stroke-width="0.6"/>
<text x="246.90" y="333.10" font-size="4.7" text-anchor="middle" font-weight="normal" font-style="normal" fill="#2a2a2a" dominant-baseline="central" font-family='"Liberation Sans", Arial, sans-serif' stroke="#2a2a2a" stroke-width="0.18">0</text>
<line x1="256.70" y1="328.40" x2="256.70" y2="327.20" stroke="#777" stroke-width="0.6"/>
<text x="256.70" y="333.10" font-size="4.7" text-anchor="middle" font-weight="normal" font-style="normal" fill="#2a2a2a" dominant-baseline="central" font-family='"Liberation Sans", Arial, sans-serif' stroke="#2a2a2a" stroke-width="0.18">2</text>
<line x1="266.50" y1="328.40" x2="266.50" y2="327.20" stroke="#777" stroke-width="0.6"/>
<text x="266.50" y="333.10" font-size="4.7" text-anchor="middle" font-weight="normal" font-style="normal" fill="#2a2a2a" dominant-baseline="central" font-family='"Liberation Sans", Arial, sans-serif' stroke="#2a2a2a" stroke-width="0.18">4</text>
<line x1="276.30" y1="328.40" x2="276.30" y2="327.20" stroke="#777" stroke-width="0.6"/>
<text x="276.30" y="333.10" font-size="4.7" text-anchor="middle" font-weight="normal" font-style="normal" fill="#2a2a2a" dominant-baseline="central" font-family='"Liberation Sans", Arial, sans-serif' stroke="#2a2a2a" stroke-width="0.18">6</text>
<line x1="286.10" y1="328.40" x2="286.10" y2="327.20" stroke="#777" stroke-width="0.6"/>
<text x="286.10" y="333.10" font-size="4.7" text-anchor="middle" font-weight="normal" font-style="normal" fill="#2a2a2a" dominant-baseline="central" font-family='"Liberation Sans", Arial, sans-serif' stroke="#2a2a2a" stroke-width="0.18">8</text>
<line x1="295.90" y1="328.40" x2="295.90" y2="327.20" stroke="#777" stroke-width="0.6"/>
<text x="295.90" y="333.10" font-size="4.7" text-anchor="middle" font-weight="normal" font-style="normal" fill="#2a2a2a" dominant-baseline="central" font-family='"Liberation Sans", Arial, sans-serif' stroke="#2a2a2a" stroke-width="0.18">10</text>
<line x1="305.70" y1="328.40" x2="305.70" y2="327.20" stroke="#777" stroke-width="0.6"/>
<text x="305.70" y="333.10" font-size="4.7" text-anchor="middle" font-weight="normal" font-style="normal" fill="#2a2a2a" dominant-baseline="central" font-family='"Liberation Sans", Arial, sans-serif' stroke="#2a2a2a" stroke-width="0.18">12</text>
<line x1="315.70" y1="328.40" x2="315.70" y2="327.20" stroke="#777" stroke-width="0.6"/>
<text x="315.70" y="333.10" font-size="4.7" text-anchor="middle" font-weight="normal" font-style="normal" fill="#2a2a2a" dominant-baseline="central" font-family='"Liberation Sans", Arial, sans-serif' stroke="#2a2a2a" stroke-width="0.18">0</text>
<line x1="325.50" y1="328.40" x2="325.50" y2="327.20" stroke="#777" stroke-width="0.6"/>
<text x="325.50" y="333.10" font-size="4.7" text-anchor="middle" font-weight="normal" font-style="normal" fill="#2a2a2a" dominant-baseline="central" font-family='"Liberation Sans", Arial, sans-serif' stroke="#2a2a2a" stroke-width="0.18">2</text>
<line x1="335.30" y1="328.40" x2="335.30" y2="327.20" stroke="#777" stroke-width="0.6"/>
<text x="335.30" y="333.10" font-size="4.7" text-anchor="middle" font-weight="normal" font-style="normal" fill="#2a2a2a" dominant-baseline="central" font-family='"Liberation Sans", Arial, sans-serif' stroke="#2a2a2a" stroke-width="0.18">4</text>
<line x1="345.10" y1="328.40" x2="345.10" y2="327.20" stroke="#777" stroke-width="0.6"/>
<text x="345.10" y="333.10" font-size="4.7" text-anchor="middle" font-weight="normal" font-style="normal" fill="#2a2a2a" dominant-baseline="central" font-family='"Liberation Sans", Arial, sans-serif' stroke="#2a2a2a" stroke-width="0.18">6</text>
<line x1="354.90" y1="328.40" x2="354.90" y2="327.20" stroke="#777" stroke-width="0.6"/>
<text x="354.90" y="333.10" font-size="4.7" text-anchor="middle" font-weight="normal" font-style="normal" fill="#2a2a2a" dominant-baseline="central" font-family='"Liberation Sans", Arial, sans-serif' stroke="#2a2a2a" stroke-width="0.18">8</text>
<line x1="364.70" y1="328.40" x2="364.70" y2="327.20" stroke="#777" stroke-width="0.6"/>
<text x="364.70" y="333.10" font-size="4.7" text-anchor="middle" font-weight="normal" font-style="normal" fill="#2a2a2a" dominant-baseline="central" font-family='"Liberation Sans", Arial, sans-serif' stroke="#2a2a2a" stroke-width="0.18">10</text>
<line x1="374.50" y1="328.40" x2="374.50" y2="327.20" stroke="#777" stroke-width="0.6"/>
<text x="374.50" y="333.10" font-size="4.7" text-anchor="middle" font-weight="normal" font-style="normal" fill="#2a2a2a" dominant-baseline="central" font-family='"Liberation Sans", Arial, sans-serif' stroke="#2a2a2a" stroke-width="0.18">12</text>
<line x1="384.40" y1="328.40" x2="384.40" y2="327.20" stroke="#777" stroke-width="0.6"/>
<text x="384.40" y="333.10" font-size="4.7" text-anchor="middle" font-weight="normal" font-style="normal" fill="#2a2a2a" dominant-baseline="central" font-family='"Liberation Sans", Arial, sans-serif' stroke="#2a2a2a" stroke-width="0.18">0</text>
<line x1="394.20" y1="328.40" x2="394.20" y2="327.20" stroke="#777" stroke-width="0.6"/>
<text x="394.20" y="333.10" font-size="4.7" text-anchor="middle" font-weight="normal" font-style="normal" fill="#2a2a2a" dominant-baseline="central" font-family='"Liberation Sans", Arial, sans-serif' stroke="#2a2a2a" stroke-width="0.18">2</text>
<line x1="404.00" y1="328.40" x2="404.00" y2="327.20" stroke="#777" stroke-width="0.6"/>
<text x="404.00" y="333.10" font-size="4.7" text-anchor="middle" font-weight="normal" font-style="normal" fill="#2a2a2a" dominant-baseline="central" font-family='"Liberation Sans", Arial, sans-serif' stroke="#2a2a2a" stroke-width="0.18">4</text>
<line x1="413.80" y1="328.40" x2="413.80" y2="327.20" stroke="#777" stroke-width="0.6"/>
<text x="413.80" y="333.10" font-size="4.7" text-anchor="middle" font-weight="normal" font-style="normal" fill="#2a2a2a" dominant-baseline="central" font-family='"Liberation Sans", Arial, sans-serif' stroke="#2a2a2a" stroke-width="0.18">6</text>
<line x1="423.60" y1="328.40" x2="423.60" y2="327.20" stroke="#777" stroke-width="0.6"/>
<text x="423.60" y="333.10" font-size="4.7" text-anchor="middle" font-weight="normal" font-style="normal" fill="#2a2a2a" dominant-baseline="central" font-family='"Liberation Sans", Arial, sans-serif' stroke="#2a2a2a" stroke-width="0.18">8</text>
<line x1="433.40" y1="328.40" x2="433.40" y2="327.20" stroke="#777" stroke-width="0.6"/>
<text x="433.40" y="333.10" font-size="4.7" text-anchor="middle" font-weight="normal" font-style="normal" fill="#2a2a2a" dominant-baseline="central" font-family='"Liberation Sans", Arial, sans-serif' stroke="#2a2a2a" stroke-width="0.18">10</text>
<line x1="443.20" y1="328.40" x2="443.20" y2="327.20" stroke="#777" stroke-width="0.6"/>
<text x="443.20" y="333.10" font-size="4.7" text-anchor="middle" font-weight="normal" font-style="normal" fill="#2a2a2a" dominant-baseline="central" font-family='"Liberation Sans", Arial, sans-serif' stroke="#2a2a2a" stroke-width="0.18">12</text>
<line x1="242.00" y1="120.90" x2="242.00" y2="328.90" stroke="#7a7a7a" stroke-width="1.2"/>
<line x1="310.80" y1="120.90" x2="310.80" y2="328.90" stroke="#7a7a7a" stroke-width="1.2"/>
<line x1="379.50" y1="120.90" x2="379.50" y2="328.90" stroke="#7a7a7a" stroke-width="1.2"/>
<line x1="448.50" y1="120.90" x2="448.50" y2="328.90" stroke="#7a7a7a" stroke-width="1.2"/>
<line x1="241.50" y1="121.40" x2="449.00" y2="121.40" stroke="#727272" stroke-width="1.3"/>
<line x1="241.50" y1="190.60" x2="449.00" y2="190.60" stroke="#727272" stroke-width="1.3"/>
<line x1="241.50" y1="259.50" x2="449.00" y2="259.50" stroke="#727272" stroke-width="1.3"/>
<line x1="241.50" y1="328.40" x2="449.00" y2="328.40" stroke="#727272" stroke-width="1.3"/>
<line x1="246.90" y1="189.30" x2="246.90" y2="190.60" stroke="#555" stroke-width="0.7"/>
<line x1="256.70" y1="189.30" x2="256.70" y2="190.60" stroke="#555" stroke-width="0.7"/>
<line x1="266.50" y1="189.30" x2="266.50" y2="190.60" stroke="#555" stroke-width="0.7"/>
<line x1="276.30" y1="189.30" x2="276.30" y2="190.60" stroke="#555" stroke-width="0.7"/>
<line x1="286.10" y1="189.30" x2="286.10" y2="190.60" stroke="#555" stroke-width="0.7"/>
<line x1="295.90" y1="189.30" x2="295.90" y2="190.60" stroke="#555" stroke-width="0.7"/>
<line x1="305.70" y1="189.30" x2="305.70" y2="190.60" stroke="#555" stroke-width="0.7"/>
<line x1="315.70" y1="189.30" x2="315.70" y2="190.60" stroke="#555" stroke-width="0.7"/>
<line x1="325.50" y1="189.30" x2="325.50" y2="190.60" stroke="#555" stroke-width="0.7"/>
<line x1="335.30" y1="189.30" x2="335.30" y2="190.60" stroke="#555" stroke-width="0.7"/>
<line x1="345.10" y1="189.30" x2="345.10" y2="190.60" stroke="#555" stroke-width="0.7"/>
<line x1="354.90" y1="189.30" x2="354.90" y2="190.60" stroke="#555" stroke-width="0.7"/>
<line x1="364.70" y1="189.30" x2="364.70" y2="190.60" stroke="#555" stroke-width="0.7"/>
<line x1="374.50" y1="189.30" x2="374.50" y2="190.60" stroke="#555" stroke-width="0.7"/>
<line x1="384.40" y1="189.30" x2="384.40" y2="190.60" stroke="#555" stroke-width="0.7"/>
<line x1="394.20" y1="189.30" x2="394.20" y2="190.60" stroke="#555" stroke-width="0.7"/>
<line x1="404.00" y1="189.30" x2="404.00" y2="190.60" stroke="#555" stroke-width="0.7"/>
<line x1="413.80" y1="189.30" x2="413.80" y2="190.60" stroke="#555" stroke-width="0.7"/>
<line x1="423.60" y1="189.30" x2="423.60" y2="190.60" stroke="#555" stroke-width="0.7"/>
<line x1="433.40" y1="189.30" x2="433.40" y2="190.60" stroke="#555" stroke-width="0.7"/>
<line x1="443.20" y1="189.30" x2="443.20" y2="190.60" stroke="#555" stroke-width="0.7"/>
<line x1="246.90" y1="258.20" x2="246.90" y2="259.50" stroke="#555" stroke-width="0.7"/>
<line x1="256.70" y1="258.20" x2="256.70" y2="259.50" stroke="#555" stroke-width="0.7"/>
<line x1="266.50" y1="258.20" x2="266.50" y2="259.50" stroke="#555" stroke-width="0.7"/>
<line x1="276.30" y1="258.20" x2="276.30" y2="259.50" stroke="#555" stroke-width="0.7"/>
<line x1="286.10" y1="258.20" x2="286.10" y2="259.50" stroke="#555" stroke-width="0.7"/>
<line x1="295.90" y1="258.20" x2="295.90" y2="259.50" stroke="#555" stroke-width="0.7"/>
<line x1="305.70" y1="258.20" x2="305.70" y2="259.50" stroke="#555" stroke-width="0.7"/>
<line x1="315.70" y1="258.20" x2="315.70" y2="259.50" stroke="#555" stroke-width="0.7"/>
<line x1="325.50" y1="258.20" x2="325.50" y2="259.50" stroke="#555" stroke-width="0.7"/>
<line x1="335.30" y1="258.20" x2="335.30" y2="259.50" stroke="#555" stroke-width="0.7"/>
<line x1="345.10" y1="258.20" x2="345.10" y2="259.50" stroke="#555" stroke-width="0.7"/>
<line x1="354.90" y1="258.20" x2="354.90" y2="259.50" stroke="#555" stroke-width="0.7"/>
<line x1="364.70" y1="258.20" x2="364.70" y2="259.50" stroke="#555" stroke-width="0.7"/>
<line x1="374.50" y1="258.20" x2="374.50" y2="259.50" stroke="#555" stroke-width="0.7"/>
<line x1="384.40" y1="258.20" x2="384.40" y2="259.50" stroke="#555" stroke-width="0.7"/>
<line x1="394.20" y1="258.20" x2="394.20" y2="259.50" stroke="#555" stroke-width="0.7"/>
<line x1="404.00" y1="258.20" x2="404.00" y2="259.50" stroke="#555" stroke-width="0.7"/>
<line x1="413.80" y1="258.20" x2="413.80" y2="259.50" stroke="#555" stroke-width="0.7"/>
<line x1="423.60" y1="258.20" x2="423.60" y2="259.50" stroke="#555" stroke-width="0.7"/>
<line x1="433.40" y1="258.20" x2="433.40" y2="259.50" stroke="#555" stroke-width="0.7"/>
<line x1="443.20" y1="258.20" x2="443.20" y2="259.50" stroke="#555" stroke-width="0.7"/>
<line x1="246.90" y1="327.10" x2="246.90" y2="328.40" stroke="#555" stroke-width="0.7"/>
<line x1="256.70" y1="327.10" x2="256.70" y2="328.40" stroke="#555" stroke-width="0.7"/>
<line x1="266.50" y1="327.10" x2="266.50" y2="328.40" stroke="#555" stroke-width="0.7"/>
<line x1="276.30" y1="327.10" x2="276.30" y2="328.40" stroke="#555" stroke-width="0.7"/>
<line x1="286.10" y1="327.10" x2="286.10" y2="328.40" stroke="#555" stroke-width="0.7"/>
<line x1="295.90" y1="327.10" x2="295.90" y2="328.40" stroke="#555" stroke-width="0.7"/>
<line x1="305.70" y1="327.10" x2="305.70" y2="328.40" stroke="#555" stroke-width="0.7"/>
<line x1="315.70" y1="327.10" x2="315.70" y2="328.40" stroke="#555" stroke-width="0.7"/>
<line x1="325.50" y1="327.10" x2="325.50" y2="328.40" stroke="#555" stroke-width="0.7"/>
<line x1="335.30" y1="327.10" x2="335.30" y2="328.40" stroke="#555" stroke-width="0.7"/>
<line x1="345.10" y1="327.10" x2="345.10" y2="328.40" stroke="#555" stroke-width="0.7"/>
<line x1="354.90" y1="327.10" x2="354.90" y2="328.40" stroke="#555" stroke-width="0.7"/>
<line x1="364.70" y1="327.10" x2="364.70" y2="328.40" stroke="#555" stroke-width="0.7"/>
<line x1="374.50" y1="327.10" x2="374.50" y2="328.40" stroke="#555" stroke-width="0.7"/>
<line x1="384.40" y1="327.10" x2="384.40" y2="328.40" stroke="#555" stroke-width="0.7"/>
<line x1="394.20" y1="327.10" x2="394.20" y2="328.40" stroke="#555" stroke-width="0.7"/>
<line x1="404.00" y1="327.10" x2="404.00" y2="328.40" stroke="#555" stroke-width="0.7"/>
<line x1="413.80" y1="327.10" x2="413.80" y2="328.40" stroke="#555" stroke-width="0.7"/>
<line x1="423.60" y1="327.10" x2="423.60" y2="328.40" stroke="#555" stroke-width="0.7"/>
<line x1="433.40" y1="327.10" x2="433.40" y2="328.40" stroke="#555" stroke-width="0.7"/>
<line x1="443.20" y1="327.10" x2="443.20" y2="328.40" stroke="#555" stroke-width="0.7"/>
<text x="348.50" y="341.90" font-size="5.6" text-anchor="middle" font-weight="bold" font-style="normal" fill="#111" dominant-baseline="central" font-family='"Liberation Sans", Arial, sans-serif'>Days post colitis induction</text>
<text x="333.90" y="353.50" font-size="9.6" text-anchor="middle" font-weight="bold" font-style="normal" fill="#000" dominant-baseline="central" font-family='"Liberation Serif", serif'>(d)</text>
<rect x="84.30" y="362.60" width="281.50" height="171.90" fill="#000" stroke="none" stroke-width="0"/>
<text x="114.15" y="368.00" font-size="5.2" text-anchor="middle" font-weight="bold" font-style="normal" fill="#fff" dominant-baseline="central" font-family='"Liberation Sans", Arial, sans-serif'>Day 0</text>
<text x="152.45" y="368.00" font-size="5.2" text-anchor="middle" font-weight="bold" font-style="normal" fill="#fff" dominant-baseline="central" font-family='"Liberation Sans", Arial, sans-serif'>Day 2</text>
<text x="190.75" y="368.00" font-size="5.2" text-anchor="middle" font-weight="bold" font-style="normal" fill="#fff" dominant-baseline="central" font-family='"Liberation Sans", Arial, sans-serif'>Day 4</text>
<text x="229.05" y="368.00" font-size="5.2" text-anchor="middle" font-weight="bold" font-style="normal" fill="#fff" dominant-baseline="central" font-family='"Liberation Sans", Arial, sans-serif'>Day 6</text>
<text x="267.35" y="368.00" font-size="5.2" text-anchor="middle" font-weight="bold" font-style="normal" fill="#fff" dominant-baseline="central" font-family='"Liberation Sans", Arial, sans-serif'>Day 8</text>
<text x="305.65" y="368.00" font-size="5.2" text-anchor="middle" font-weight="bold" font-style="normal" fill="#fff" dominant-baseline="central" font-family='"Liberation Sans", Arial, sans-serif'>Day 10</text>
<text x="343.95" y="368.00" font-size="5.2" text-anchor="middle" font-weight="bold" font-style="normal" fill="#fff" dominant-baseline="central" font-family='"Liberation Sans", Arial, sans-serif'>Day 12</text>
<text x="90.00" y="392.35" font-size="4.8" text-anchor="middle" font-weight="bold" font-style="normal" fill="#fff" dominant-baseline="central" font-family='"Liberation Sans", Arial, sans-serif' transform="rotate(-90 90.0 392.35)">0% DSS</text>
<text x="90.00" y="432.45" font-size="4.8" text-anchor="middle" font-weight="bold" font-style="normal" fill="#fff" dominant-baseline="central" font-family='"Liberation Sans", Arial, sans-serif' transform="rotate(-90 90.0 432.45000000000005)">1% DSS</text>
<text x="90.00" y="472.55" font-size="4.8" text-anchor="middle" font-weight="bold" font-style="normal" fill="#fff" dominant-baseline="central" font-family='"Liberation Sans", Arial, sans-serif' transform="rotate(-90 90.0 472.55)">2% DSS</text>
<text x="90.00" y="512.65" font-size="4.8" text-anchor="middle" font-weight="bold" font-style="normal" fill="#fff" dominant-baseline="central" font-family='"Liberation Sans", Arial, sans-serif' transform="rotate(-90 90.0 512.65)">3% DSS</text>
<g filter="url(#soft)">
<rect x="95.00" y="372.30" width="38.30" height="40.10" fill="#8a8a8a" stroke="none" stroke-width="0"/>
<rect x="95.50" y="372.80" width="37.30" height="39.10" fill="#e6e7e4" stroke="none" stroke-width="0"/>
<ellipse cx="114.20" cy="392.60" rx="18.20" ry="18.40" fill="#e094d4"/>
<ellipse cx="114.20" cy="392.60" rx="17.40" ry="17.60" fill="none" stroke="#e7aede" stroke-width="0.9" opacity="0.8"/>
<ellipse cx="114.20" cy="392.60" rx="14.70" ry="14.90" fill="#c0a1dc"/>
<ellipse cx="114.20" cy="392.60" rx="13.70" ry="13.90" fill="#a67ace"/>
<ellipse cx="117.12" cy="400.24" rx="4.17" ry="3.54" transform="rotate(68.9 117.12 400.24)" fill="#8b66ad" opacity="0.75"/>
<ellipse cx="109.18" cy="399.02" rx="5.80" ry="4.93" transform="rotate(128.4 109.18 399.02)" fill="#8b66ad" opacity="0.75"/>
<ellipse cx="106.66" cy="389.65" rx="5.78" ry="4.91" transform="rotate(201.1 106.66 389.65)" fill="#8b66ad" opacity="0.75"/>
<ellipse cx="112.72" cy="384.54" rx="4.04" ry="3.44" transform="rotate(259.5 112.72 384.54)" fill="#8b66ad" opacity="0.75"/>
<ellipse cx="119.64" cy="386.54" rx="5.13" ry="4.36" transform="rotate(312.3 119.64 386.54)" fill="#8b66ad" opacity="0.75"/>
<ellipse cx="122.03" cy="394.64" rx="5.21" ry="4.43" transform="rotate(374.4 122.03 394.64)" fill="#8b66ad" opacity="0.75"/>
<line x1="118.61" y1="392.61" x2="128.16" y2="392.63" stroke="#c0a1dc" stroke-width="0.45" opacity="0.6"/>
<line x1="118.43" y1="393.87" x2="127.59" y2="396.62" stroke="#c0a1dc" stroke-width="0.45" opacity="0.6"/>
<line x1="117.88" y1="395.06" x2="125.86" y2="400.38" stroke="#c0a1dc" stroke-width="0.45" opacity="0.6"/>
<line x1="117.56" y1="395.49" x2="124.84" y2="401.76" stroke="#c0a1dc" stroke-width="0.45" opacity="0.6"/>
<line x1="116.55" y1="396.38" x2="121.65" y2="404.57" stroke="#c0a1dc" stroke-width="0.45" opacity="0.6"/>
<line x1="115.69" y1="396.81" x2="118.91" y2="405.93" stroke="#c0a1dc" stroke-width="0.45" opacity="0.6"/>
<line x1="113.93" y1="397.06" x2="113.34" y2="406.73" stroke="#c0a1dc" stroke-width="0.45" opacity="0.6"/>
<line x1="112.89" y1="396.87" x2="110.07" y2="406.12" stroke="#c0a1dc" stroke-width="0.45" opacity="0.6"/>
<line x1="112.35" y1="396.66" x2="108.35" y2="405.46" stroke="#c0a1dc" stroke-width="0.45" opacity="0.6"/>
<line x1="110.80" y1="395.44" x2="103.42" y2="401.60" stroke="#c0a1dc" stroke-width="0.45" opacity="0.6"/>
<line x1="110.19" y1="394.47" x2="101.51" y2="398.51" stroke="#c0a1dc" stroke-width="0.45" opacity="0.6"/>
<line x1="109.91" y1="393.62" x2="100.61" y2="395.84" stroke="#c0a1dc" stroke-width="0.45" opacity="0.6"/>
<line x1="109.79" y1="392.50" x2="100.24" y2="392.27" stroke="#c0a1dc" stroke-width="0.45" opacity="0.6"/>
<line x1="109.87" y1="391.74" x2="100.49" y2="389.88" stroke="#c0a1dc" stroke-width="0.45" opacity="0.6"/>
<line x1="110.19" y1="390.75" x2="101.49" y2="386.74" stroke="#c0a1dc" stroke-width="0.45" opacity="0.6"/>
<line x1="111.10" y1="389.42" x2="104.38" y2="382.54" stroke="#c0a1dc" stroke-width="0.45" opacity="0.6"/>
<line x1="111.67" y1="388.94" x2="106.18" y2="381.01" stroke="#c0a1dc" stroke-width="0.45" opacity="0.6"/>
<line x1="112.80" y1="388.36" x2="109.76" y2="379.18" stroke="#c0a1dc" stroke-width="0.45" opacity="0.6"/>
<line x1="113.97" y1="388.14" x2="113.48" y2="378.46" stroke="#c0a1dc" stroke-width="0.45" opacity="0.6"/>
<line x1="114.94" y1="388.19" x2="116.53" y2="378.64" stroke="#c0a1dc" stroke-width="0.45" opacity="0.6"/>
<line x1="116.38" y1="388.71" x2="121.09" y2="380.29" stroke="#c0a1dc" stroke-width="0.45" opacity="0.6"/>
<line x1="117.28" y1="389.40" x2="123.95" y2="382.47" stroke="#c0a1dc" stroke-width="0.45" opacity="0.6"/>
<line x1="118.16" y1="390.63" x2="126.74" y2="386.38" stroke="#c0a1dc" stroke-width="0.45" opacity="0.6"/>
<line x1="118.46" y1="391.46" x2="127.70" y2="388.99" stroke="#c0a1dc" stroke-width="0.45" opacity="0.6"/>
<circle cx="108.59" cy="385.70" r="1.59" fill="#c0a1dc" opacity="0.5"/>
<circle cx="107.58" cy="394.44" r="2.00" fill="#c0a1dc" opacity="0.5"/>
<circle cx="126.02" cy="392.27" r="1.65" fill="#c0a1dc" opacity="0.5"/>
<circle cx="111.63" cy="398.58" r="1.15" fill="#c0a1dc" opacity="0.5"/>
<circle cx="124.30" cy="397.43" r="1.28" fill="#c0a1dc" opacity="0.5"/>
<circle cx="118.66" cy="386.09" r="1.95" fill="#c0a1dc" opacity="0.5"/>
<circle cx="116.73" cy="388.94" r="1.05" fill="#c0a1dc" opacity="0.5"/>
<circle cx="121.43" cy="387.96" r="1.98" fill="#c0a1dc" opacity="0.5"/>
<polyline points="114.20,392.60 109.15,393.99" fill="none" stroke="#f6f3f7" stroke-width="2.16" stroke-linecap="round"/>
<polyline points="109.15,393.99 105.13,397.87" fill="none" stroke="#f6f3f7" stroke-width="1.55" stroke-linecap="round"/>
<line x1="105.13" y1="397.87" x2="103.89" y2="400.54" stroke="#f6f3f7" stroke-width="1.12" stroke-linecap="round"/>
<line x1="105.13" y1="397.87" x2="102.22" y2="397.83" stroke="#f6f3f7" stroke-width="1.12" stroke-linecap="round"/>
<line x1="109.15" y1="393.99" x2="106.49" y2="391.98" stroke="#f6f3f7" stroke-width="1.21" stroke-linecap="round"/>
<polyline points="114.20,392.60 111.55,388.40" fill="none" stroke="#f6f3f7" stroke-width="2.16" stroke-linecap="round"/>
<polyline points="111.55,388.40 107.08,385.72" fill="none" stroke="#f6f3f7" stroke-width="1.55" stroke-linecap="round"/>
<line x1="107.08" y1="385.72" x2="104.20" y2="385.16" stroke="#f6f3f7" stroke-width="1.12" stroke-linecap="round"/>
<line x1="107.08" y1="385.72" x2="106.83" y2="382.76" stroke="#f6f3f7" stroke-width="1.12" stroke-linecap="round"/>
<line x1="111.55" y1="388.40" x2="107.46" y2="388.37" stroke="#f6f3f7" stroke-width="1.21" stroke-linecap="round"/>
<polyline points="114.20,392.60 115.26,387.36" fill="none" stroke="#f6f3f7" stroke-width="2.16" stroke-linecap="round"/>
<polyline points="115.26,387.36 115.59,382.00" fill="none" stroke="#f6f3f7" stroke-width="1.55" stroke-linecap="round"/>
<line x1="115.59" y1="382.00" x2="114.44" y2="378.96" stroke="#f6f3f7" stroke-width="1.12" stroke-linecap="round"/>
<line x1="115.59" y1="382.00" x2="118.26" y2="380.18" stroke="#f6f3f7" stroke-width="1.12" stroke-linecap="round"/>
<polyline points="114.20,392.60 119.58,390.94" fill="none" stroke="#f6f3f7" stroke-width="2.16" stroke-linecap="round"/>
<polyline points="119.58,390.94 125.46,392.63" fill="none" stroke="#f6f3f7" stroke-width="1.55" stroke-linecap="round"/>
<line x1="125.46" y1="392.63" x2="126.73" y2="391.02" stroke="#f6f3f7" stroke-width="1.12" stroke-linecap="round"/>
<line x1="125.46" y1="392.63" x2="126.96" y2="394.03" stroke="#f6f3f7" stroke-width="1.12" stroke-linecap="round"/>
<line x1="119.58" y1="390.94" x2="120.61" y2="387.29" stroke="#f6f3f7" stroke-width="1.21" stroke-linecap="round"/>
<polyline points="114.20,392.60 117.65,396.19" fill="none" stroke="#f6f3f7" stroke-width="2.16" stroke-linecap="round"/>
<polyline points="117.65,396.19 119.85,400.82" fill="none" stroke="#f6f3f7" stroke-width="1.55" stroke-linecap="round"/>
<line x1="119.85" y1="400.82" x2="121.84" y2="401.76" stroke="#f6f3f7" stroke-width="1.12" stroke-linecap="round"/>
<line x1="119.85" y1="400.82" x2="120.01" y2="403.04" stroke="#f6f3f7" stroke-width="1.12" stroke-linecap="round"/>
<line x1="117.65" y1="396.19" x2="121.09" y2="396.87" stroke="#f6f3f7" stroke-width="1.21" stroke-linecap="round"/>
<polyline points="114.20,392.60 114.01,398.36" fill="none" stroke="#f6f3f7" stroke-width="2.16" stroke-linecap="round"/>
<polyline points="114.01,398.36 116.35,403.93" fill="none" stroke="#f6f3f7" stroke-width="1.55" stroke-linecap="round"/>
<line x1="116.35" y1="403.93" x2="118.37" y2="406.16" stroke="#f6f3f7" stroke-width="1.12" stroke-linecap="round"/>
<line x1="116.35" y1="403.93" x2="115.01" y2="406.64" stroke="#f6f3f7" stroke-width="1.12" stroke-linecap="round"/>
<circle cx="114.20" cy="392.60" r="2.20" fill="#f6f3f7"/>
<rect x="126.80" y="408.20" width="3.6" height="1.4" fill="#555" opacity="0.75"/>
<rect x="133.30" y="372.30" width="38.30" height="40.10" fill="#8a8a8a" stroke="none" stroke-width="0"/>
<rect x="133.80" y="372.80" width="37.30" height="39.10" fill="#e6e7e4" stroke="none" stroke-width="0"/>
<ellipse cx="152.40" cy="392.00" rx="17.40" ry="18.30" fill="#dec5e1"/>
<ellipse cx="152.40" cy="392.00" rx="16.60" ry="17.50" fill="none" stroke="#e6d3e8" stroke-width="0.9" opacity="0.8"/>
<ellipse cx="152.40" cy="392.00" rx="14.40" ry="15.30" fill="#aca2dc"/>
<ellipse cx="152.40" cy="392.00" rx="13.40" ry="14.30" fill="#897bce"/>
<ellipse cx="148.43" cy="399.28" rx="6.05" ry="5.14" transform="rotate(120.1 148.43 399.28)" fill="#7367ad" opacity="0.75"/>
<ellipse cx="146.45" cy="386.44" rx="6.05" ry="5.14" transform="rotate(221.3 146.45 386.44)" fill="#7367ad" opacity="0.75"/>
<ellipse cx="156.65" cy="384.90" rx="5.65" ry="4.81" transform="rotate(302.5 156.65 384.90)" fill="#7367ad" opacity="0.75"/>
<ellipse cx="159.78" cy="395.04" rx="6.05" ry="5.14" transform="rotate(381.2 159.78 395.04)" fill="#7367ad" opacity="0.75"/>
<line x1="156.72" y1="391.89" x2="166.08" y2="391.64" stroke="#aca2dc" stroke-width="0.45" opacity="0.6"/>
<line x1="156.62" y1="392.99" x2="165.76" y2="395.12" stroke="#aca2dc" stroke-width="0.45" opacity="0.6"/>
<line x1="156.00" y1="394.54" x2="163.80" y2="400.03" stroke="#aca2dc" stroke-width="0.45" opacity="0.6"/>
<line x1="155.34" y1="395.37" x2="161.70" y2="402.66" stroke="#aca2dc" stroke-width="0.45" opacity="0.6"/>
<line x1="154.48" y1="396.02" x2="159.00" y2="404.73" stroke="#aca2dc" stroke-width="0.45" opacity="0.6"/>
<line x1="153.47" y1="396.45" x2="155.79" y2="406.08" stroke="#aca2dc" stroke-width="0.45" opacity="0.6"/>
<line x1="152.26" y1="396.59" x2="151.96" y2="406.53" stroke="#aca2dc" stroke-width="0.45" opacity="0.6"/>
<line x1="151.58" y1="396.51" x2="149.81" y2="406.27" stroke="#aca2dc" stroke-width="0.45" opacity="0.6"/>
<line x1="150.29" y1="396.00" x2="145.70" y2="404.67" stroke="#aca2dc" stroke-width="0.45" opacity="0.6"/>
<line x1="149.56" y1="395.46" x2="143.40" y2="402.95" stroke="#aca2dc" stroke-width="0.45" opacity="0.6"/>
<line x1="148.50" y1="393.97" x2="140.04" y2="398.22" stroke="#aca2dc" stroke-width="0.45" opacity="0.6"/>
<line x1="148.34" y1="393.57" x2="139.55" y2="396.99" stroke="#aca2dc" stroke-width="0.45" opacity="0.6"/>
<line x1="148.09" y1="391.71" x2="138.75" y2="391.08" stroke="#aca2dc" stroke-width="0.45" opacity="0.6"/>
<line x1="148.15" y1="391.19" x2="138.93" y2="389.45" stroke="#aca2dc" stroke-width="0.45" opacity="0.6"/>
<line x1="148.74" y1="389.56" x2="140.82" y2="384.27" stroke="#aca2dc" stroke-width="0.45" opacity="0.6"/>
<line x1="149.25" y1="388.86" x2="142.42" y2="382.06" stroke="#aca2dc" stroke-width="0.45" opacity="0.6"/>
<line x1="150.17" y1="388.07" x2="145.33" y2="379.55" stroke="#aca2dc" stroke-width="0.45" opacity="0.6"/>
<line x1="151.57" y1="387.50" x2="149.77" y2="377.74" stroke="#aca2dc" stroke-width="0.45" opacity="0.6"/>
<line x1="151.98" y1="387.43" x2="151.08" y2="377.53" stroke="#aca2dc" stroke-width="0.45" opacity="0.6"/>
<line x1="153.15" y1="387.48" x2="154.77" y2="377.68" stroke="#aca2dc" stroke-width="0.45" opacity="0.6"/>
<line x1="154.86" y1="388.23" x2="160.20" y2="380.06" stroke="#aca2dc" stroke-width="0.45" opacity="0.6"/>
<line x1="155.46" y1="388.76" x2="162.09" y2="381.74" stroke="#aca2dc" stroke-width="0.45" opacity="0.6"/>
<line x1="155.95" y1="389.39" x2="163.65" y2="383.73" stroke="#aca2dc" stroke-width="0.45" opacity="0.6"/>
<line x1="156.66" y1="391.25" x2="165.90" y2="389.62" stroke="#aca2dc" stroke-width="0.45" opacity="0.6"/>
<circle cx="157.40" cy="390.15" r="1.31" fill="#aca2dc" opacity="0.5"/>
<circle cx="157.04" cy="397.60" r="1.55" fill="#aca2dc" opacity="0.5"/>
<circle cx="157.75" cy="401.40" r="0.86" fill="#aca2dc" opacity="0.5"/>
<circle cx="157.80" cy="402.63" r="1.28" fill="#aca2dc" opacity="0.5"/>
<circle cx="144.14" cy="396.91" r="1.37" fill="#aca2dc" opacity="0.5"/>
<circle cx="148.97" cy="395.23" r="1.67" fill="#aca2dc" opacity="0.5"/>
<circle cx="164.89" cy="389.25" r="1.60" fill="#aca2dc" opacity="0.5"/>
<circle cx="147.78" cy="398.22" r="1.63" fill="#aca2dc" opacity="0.5"/>
<polyline points="152.40,392.00 146.73,392.40" fill="none" stroke="#f6f3f7" stroke-width="2.88" stroke-linecap="round"/>
<polyline points="146.73,392.40 141.55,395.55" fill="none" stroke="#f6f3f7" stroke-width="2.07" stroke-linecap="round"/>
<line x1="141.55" y1="395.55" x2="140.34" y2="397.57" stroke="#f6f3f7" stroke-width="1.49" stroke-linecap="round"/>
<line x1="141.55" y1="395.55" x2="139.60" y2="394.35" stroke="#f6f3f7" stroke-width="1.49" stroke-linecap="round"/>
<line x1="146.73" y1="392.40" x2="143.41" y2="396.18" stroke="#f6f3f7" stroke-width="1.61" stroke-linecap="round"/>
<polyline points="152.40,392.00 152.13,387.35" fill="none" stroke="#f6f3f7" stroke-width="2.88" stroke-linecap="round"/>
<polyline points="152.13,387.35 149.42,383.23" fill="none" stroke="#f6f3f7" stroke-width="2.07" stroke-linecap="round"/>
<line x1="149.42" y1="383.23" x2="147.99" y2="382.09" stroke="#f6f3f7" stroke-width="1.49" stroke-linecap="round"/>
<line x1="149.42" y1="383.23" x2="150.12" y2="381.48" stroke="#f6f3f7" stroke-width="1.49" stroke-linecap="round"/>
<polyline points="152.40,392.00 156.83,390.14" fill="none" stroke="#f6f3f7" stroke-width="2.88" stroke-linecap="round"/>
<polyline points="156.83,390.14 160.11,386.04" fill="none" stroke="#f6f3f7" stroke-width="2.07" stroke-linecap="round"/>
<line x1="160.11" y1="386.04" x2="160.67" y2="383.62" stroke="#f6f3f7" stroke-width="1.49" stroke-linecap="round"/>
<line x1="160.11" y1="386.04" x2="162.44" y2="386.32" stroke="#f6f3f7" stroke-width="1.49" stroke-linecap="round"/>
<polyline points="152.40,392.00 154.75,397.11" fill="none" stroke="#f6f3f7" stroke-width="2.88" stroke-linecap="round"/>
<polyline points="154.75,397.11 157.85,401.80" fill="none" stroke="#f6f3f7" stroke-width="2.07" stroke-linecap="round"/>
<line x1="157.85" y1="401.80" x2="160.16" y2="402.44" stroke="#f6f3f7" stroke-width="1.49" stroke-linecap="round"/>
<line x1="157.85" y1="401.80" x2="157.13" y2="404.21" stroke="#f6f3f7" stroke-width="1.49" stroke-linecap="round"/>
<line x1="154.75" y1="397.11" x2="158.63" y2="398.52" stroke="#f6f3f7" stroke-width="1.61" stroke-linecap="round"/>
<circle cx="152.40" cy="392.00" r="2.20" fill="#f6f3f7"/>
<rect x="165.10" y="408.20" width="3.6" height="1.4" fill="#555" opacity="0.75"/>
<rect x="171.60" y="372.30" width="38.30" height="40.10" fill="#8a8a8a" stroke="none" stroke-width="0"/>
<rect x="172.10" y="372.80" width="37.30" height="39.10" fill="#e6e7e4" stroke="none" stroke-width="0"/>
<ellipse cx="190.50" cy="392.20" rx="17.70" ry="19.00" fill="#e1a9da"/>
<ellipse cx="190.50" cy="392.20" rx="16.90" ry="18.20" fill="none" stroke="#e8bee3" stroke-width="0.9" opacity="0.8"/>
<ellipse cx="190.50" cy="392.20" rx="14.20" ry="15.50" fill="#c5a8dc"/>
<ellipse cx="190.50" cy="392.20" rx="13.20" ry="14.50" fill="#ad84ce"/>
<ellipse cx="187.69" cy="400.15" rx="5.59" ry="4.75" transform="rotate(111.1 187.69 400.15)" fill="#916ead" opacity="0.75"/>
<ellipse cx="182.73" cy="391.32" rx="5.90" ry="5.01" transform="rotate(185.9 182.73 391.32)" fill="#916ead" opacity="0.75"/>
<ellipse cx="187.75" cy="384.22" rx="4.25" ry="3.61" transform="rotate(249.4 187.75 384.22)" fill="#916ead" opacity="0.75"/>
<ellipse cx="195.59" cy="385.74" rx="5.68" ry="4.82" transform="rotate(310.7 195.59 385.74)" fill="#916ead" opacity="0.75"/>
<ellipse cx="197.17" cy="396.63" rx="5.96" ry="5.07" transform="rotate(391.3 197.17 396.63)" fill="#916ead" opacity="0.75"/>
<line x1="194.75" y1="391.87" x2="203.96" y2="391.16" stroke="#c5a8dc" stroke-width="0.45" opacity="0.6"/>
<line x1="194.67" y1="393.15" x2="203.70" y2="395.22" stroke="#c5a8dc" stroke-width="0.45" opacity="0.6"/>
<line x1="194.09" y1="394.71" x2="201.85" y2="400.15" stroke="#c5a8dc" stroke-width="0.45" opacity="0.6"/>
<line x1="193.73" y1="395.24" x2="200.72" y2="401.81" stroke="#c5a8dc" stroke-width="0.45" opacity="0.6"/>
<line x1="192.61" y1="396.24" x2="197.17" y2="405.00" stroke="#c5a8dc" stroke-width="0.45" opacity="0.6"/>
<line x1="191.84" y1="396.62" x2="194.73" y2="406.18" stroke="#c5a8dc" stroke-width="0.45" opacity="0.6"/>
<line x1="190.68" y1="396.85" x2="191.05" y2="406.91" stroke="#c5a8dc" stroke-width="0.45" opacity="0.6"/>
<line x1="189.45" y1="396.71" x2="187.19" y2="406.47" stroke="#c5a8dc" stroke-width="0.45" opacity="0.6"/>
<line x1="188.13" y1="396.06" x2="182.98" y2="404.43" stroke="#c5a8dc" stroke-width="0.45" opacity="0.6"/>
<line x1="187.42" y1="395.42" x2="180.76" y2="402.38" stroke="#c5a8dc" stroke-width="0.45" opacity="0.6"/>
<line x1="187.03" y1="394.90" x2="179.53" y2="400.77" stroke="#c5a8dc" stroke-width="0.45" opacity="0.6"/>
<line x1="186.44" y1="393.60" x2="177.64" y2="396.65" stroke="#c5a8dc" stroke-width="0.45" opacity="0.6"/>
<line x1="186.25" y1="392.53" x2="177.04" y2="393.24" stroke="#c5a8dc" stroke-width="0.45" opacity="0.6"/>
<line x1="186.48" y1="390.67" x2="177.76" y2="387.35" stroke="#c5a8dc" stroke-width="0.45" opacity="0.6"/>
<line x1="186.95" y1="389.63" x2="179.26" y2="384.06" stroke="#c5a8dc" stroke-width="0.45" opacity="0.6"/>
<line x1="187.68" y1="388.72" x2="181.56" y2="381.17" stroke="#c5a8dc" stroke-width="0.45" opacity="0.6"/>
<line x1="188.61" y1="388.03" x2="184.53" y2="379.00" stroke="#c5a8dc" stroke-width="0.45" opacity="0.6"/>
<line x1="189.60" y1="387.66" x2="187.65" y2="377.81" stroke="#c5a8dc" stroke-width="0.45" opacity="0.6"/>
<line x1="190.88" y1="387.57" x2="191.71" y2="377.53" stroke="#c5a8dc" stroke-width="0.45" opacity="0.6"/>
<line x1="191.84" y1="387.79" x2="194.75" y2="378.22" stroke="#c5a8dc" stroke-width="0.45" opacity="0.6"/>
<line x1="192.45" y1="388.06" x2="196.67" y2="379.10" stroke="#c5a8dc" stroke-width="0.45" opacity="0.6"/>
<line x1="193.72" y1="389.15" x2="200.68" y2="382.54" stroke="#c5a8dc" stroke-width="0.45" opacity="0.6"/>
<line x1="194.18" y1="389.86" x2="202.16" y2="384.80" stroke="#c5a8dc" stroke-width="0.45" opacity="0.6"/>
<line x1="194.67" y1="391.23" x2="203.69" y2="389.12" stroke="#c5a8dc" stroke-width="0.45" opacity="0.6"/>
<circle cx="183.21" cy="388.81" r="1.24" fill="#c5a8dc" opacity="0.5"/>
<circle cx="184.23" cy="395.43" r="0.94" fill="#c5a8dc" opacity="0.5"/>
<circle cx="195.19" cy="381.26" r="1.98" fill="#c5a8dc" opacity="0.5"/>
<circle cx="187.24" cy="383.06" r="1.70" fill="#c5a8dc" opacity="0.5"/>
<circle cx="197.14" cy="400.40" r="1.33" fill="#c5a8dc" opacity="0.5"/>
<circle cx="193.16" cy="398.05" r="1.43" fill="#c5a8dc" opacity="0.5"/>
<circle cx="190.33" cy="401.12" r="1.53" fill="#c5a8dc" opacity="0.5"/>
<circle cx="186.24" cy="395.77" r="1.39" fill="#c5a8dc" opacity="0.5"/>
<polyline points="190.50,392.20 191.71,397.19" fill="none" stroke="#f6f3f7" stroke-width="2.16" stroke-linecap="round"/>
<polyline points="191.71,397.19 194.34,401.63" fill="none" stroke="#f6f3f7" stroke-width="1.55" stroke-linecap="round"/>
<line x1="194.34" y1="401.63" x2="196.15" y2="403.05" stroke="#f6f3f7" stroke-width="1.12" stroke-linecap="round"/>
<line x1="194.34" y1="401.63" x2="193.59" y2="403.92" stroke="#f6f3f7" stroke-width="1.12" stroke-linecap="round"/>
<polyline points="190.50,392.20 186.27,395.19" fill="none" stroke="#f6f3f7" stroke-width="2.16" stroke-linecap="round"/>
<polyline points="186.27,395.19 181.40,396.91" fill="none" stroke="#f6f3f7" stroke-width="1.55" stroke-linecap="round"/>
<line x1="186.27" y1="395.19" x2="185.48" y2="399.55" stroke="#f6f3f7" stroke-width="1.21" stroke-linecap="round"/>
<polyline points="190.50,392.20 186.85,388.25" fill="none" stroke="#f6f3f7" stroke-width="2.16" stroke-linecap="round"/>
<polyline points="186.85,388.25 182.21,385.55" fill="none" stroke="#f6f3f7" stroke-width="1.55" stroke-linecap="round"/>
<line x1="182.21" y1="385.55" x2="179.46" y2="385.45" stroke="#f6f3f7" stroke-width="1.12" stroke-linecap="round"/>
<line x1="182.21" y1="385.55" x2="181.84" y2="382.58" stroke="#f6f3f7" stroke-width="1.12" stroke-linecap="round"/>
<line x1="186.85" y1="388.25" x2="186.92" y2="383.77" stroke="#f6f3f7" stroke-width="1.21" stroke-linecap="round"/>
<polyline points="190.50,392.20 190.92,385.61" fill="none" stroke="#f6f3f7" stroke-width="2.16" stroke-linecap="round"/>
<polyline points="190.92,385.61 192.80,379.23" fill="none" stroke="#f6f3f7" stroke-width="1.55" stroke-linecap="round"/>
<line x1="192.80" y1="379.23" x2="191.34" y2="377.14" stroke="#f6f3f7" stroke-width="1.12" stroke-linecap="round"/>
<line x1="192.80" y1="379.23" x2="194.37" y2="377.23" stroke="#f6f3f7" stroke-width="1.12" stroke-linecap="round"/>
<polyline points="190.50,392.20 194.73,391.17" fill="none" stroke="#f6f3f7" stroke-width="2.16" stroke-linecap="round"/>
<polyline points="194.73,391.17 199.05,390.61" fill="none" stroke="#f6f3f7" stroke-width="1.55" stroke-linecap="round"/>
<line x1="199.05" y1="390.61" x2="200.49" y2="389.16" stroke="#f6f3f7" stroke-width="1.12" stroke-linecap="round"/>
<line x1="199.05" y1="390.61" x2="200.62" y2="391.90" stroke="#f6f3f7" stroke-width="1.12" stroke-linecap="round"/>
<line x1="194.73" y1="391.17" x2="196.73" y2="388.50" stroke="#f6f3f7" stroke-width="1.21" stroke-linecap="round"/>
<circle cx="190.50" cy="392.20" r="2.20" fill="#f6f3f7"/>
<rect x="203.40" y="408.20" width="3.6" height="1.4" fill="#555" opacity="0.75"/>
<rect x="209.90" y="372.30" width="38.30" height="40.10" fill="#8a8a8a" stroke="none" stroke-width="0"/>
<rect x="210.40" y="372.80" width="37.30" height="39.10" fill="#e6e7e4" stroke="none" stroke-width="0"/>
<ellipse cx="228.80" cy="392.20" rx="18.00" ry="18.90" fill="#e7b0da"/>
<ellipse cx="228.80" cy="392.20" rx="17.20" ry="18.10" fill="none" stroke="#edc3e3" stroke-width="0.9" opacity="0.8"/>
<ellipse cx="228.80" cy="392.20" rx="14.00" ry="14.90" fill="#ccb2df"/>
<ellipse cx="228.80" cy="392.20" rx="13.00" ry="13.90" fill="#b791d2"/>
<ellipse cx="228.86" cy="400.39" rx="5.88" ry="5.00" transform="rotate(89.5 228.86 400.39)" fill="#9979b0" opacity="0.75"/>
<ellipse cx="221.12" cy="391.68" rx="5.88" ry="5.00" transform="rotate(183.6 221.12 391.68)" fill="#9979b0" opacity="0.75"/>
<ellipse cx="228.41" cy="384.02" rx="5.25" ry="4.46" transform="rotate(267.1 228.41 384.02)" fill="#9979b0" opacity="0.75"/>
<ellipse cx="236.44" cy="391.20" rx="5.88" ry="5.00" transform="rotate(353.0 236.44 391.20)" fill="#9979b0" opacity="0.75"/>
<line x1="232.99" y1="391.98" x2="242.08" y2="391.51" stroke="#ccb2df" stroke-width="0.45" opacity="0.6"/>
<line x1="232.80" y1="393.56" x2="241.47" y2="396.50" stroke="#ccb2df" stroke-width="0.45" opacity="0.6"/>
<line x1="232.37" y1="394.56" x2="240.10" y2="399.66" stroke="#ccb2df" stroke-width="0.45" opacity="0.6"/>
<line x1="231.88" y1="395.23" x2="238.57" y2="401.81" stroke="#ccb2df" stroke-width="0.45" opacity="0.6"/>
<line x1="230.76" y1="396.15" x2="235.02" y2="404.71" stroke="#ccb2df" stroke-width="0.45" opacity="0.6"/>
<line x1="229.97" y1="396.49" x2="232.51" y2="405.79" stroke="#ccb2df" stroke-width="0.45" opacity="0.6"/>
<line x1="228.57" y1="396.66" x2="228.06" y2="406.33" stroke="#ccb2df" stroke-width="0.45" opacity="0.6"/>
<line x1="228.03" y1="396.59" x2="226.35" y2="406.11" stroke="#ccb2df" stroke-width="0.45" opacity="0.6"/>
<line x1="226.90" y1="396.19" x2="222.80" y2="404.83" stroke="#ccb2df" stroke-width="0.45" opacity="0.6"/>
<line x1="225.60" y1="395.10" x2="218.67" y2="401.37" stroke="#ccb2df" stroke-width="0.45" opacity="0.6"/>
<line x1="225.22" y1="394.54" x2="217.48" y2="399.62" stroke="#ccb2df" stroke-width="0.45" opacity="0.6"/>
<line x1="224.80" y1="393.56" x2="216.13" y2="396.52" stroke="#ccb2df" stroke-width="0.45" opacity="0.6"/>
<line x1="224.61" y1="391.93" x2="215.52" y2="391.34" stroke="#ccb2df" stroke-width="0.45" opacity="0.6"/>
<line x1="224.77" y1="390.93" x2="216.05" y2="388.18" stroke="#ccb2df" stroke-width="0.45" opacity="0.6"/>
<line x1="225.02" y1="390.24" x2="216.84" y2="386.00" stroke="#ccb2df" stroke-width="0.45" opacity="0.6"/>
<line x1="225.86" y1="389.01" x2="219.49" y2="382.09" stroke="#ccb2df" stroke-width="0.45" opacity="0.6"/>
<line x1="226.82" y1="388.26" x2="222.53" y2="379.72" stroke="#ccb2df" stroke-width="0.45" opacity="0.6"/>
<line x1="227.44" y1="387.97" x2="224.50" y2="378.80" stroke="#ccb2df" stroke-width="0.45" opacity="0.6"/>
<line x1="228.93" y1="387.73" x2="229.20" y2="378.05" stroke="#ccb2df" stroke-width="0.45" opacity="0.6"/>
<line x1="229.58" y1="387.81" x2="231.26" y2="378.29" stroke="#ccb2df" stroke-width="0.45" opacity="0.6"/>
<line x1="230.78" y1="388.26" x2="235.07" y2="379.72" stroke="#ccb2df" stroke-width="0.45" opacity="0.6"/>
<line x1="231.51" y1="388.79" x2="237.39" y2="381.39" stroke="#ccb2df" stroke-width="0.45" opacity="0.6"/>
<line x1="232.31" y1="389.74" x2="239.90" y2="384.41" stroke="#ccb2df" stroke-width="0.45" opacity="0.6"/>
<line x1="232.94" y1="391.46" x2="241.92" y2="389.86" stroke="#ccb2df" stroke-width="0.45" opacity="0.6"/>
<circle cx="218.50" cy="399.78" r="1.33" fill="#ccb2df" opacity="0.5"/>
<circle cx="219.80" cy="384.53" r="1.62" fill="#ccb2df" opacity="0.5"/>
<circle cx="235.79" cy="398.48" r="1.56" fill="#ccb2df" opacity="0.5"/>
<circle cx="230.89" cy="397.03" r="1.85" fill="#ccb2df" opacity="0.5"/>
<circle cx="222.99" cy="391.66" r="1.34" fill="#ccb2df" opacity="0.5"/>
<circle cx="230.97" cy="403.58" r="1.40" fill="#ccb2df" opacity="0.5"/>
<circle cx="237.66" cy="399.27" r="0.91" fill="#ccb2df" opacity="0.5"/>
<circle cx="227.95" cy="396.83" r="1.69" fill="#ccb2df" opacity="0.5"/>
<polyline points="228.80,392.20 231.91,395.55" fill="none" stroke="#f6f3f7" stroke-width="2.59" stroke-linecap="round"/>
<polyline points="231.91,395.55 234.91,399.01" fill="none" stroke="#f6f3f7" stroke-width="1.86" stroke-linecap="round"/>
<line x1="234.91" y1="399.01" x2="237.26" y2="399.09" stroke="#f6f3f7" stroke-width="1.35" stroke-linecap="round"/>
<line x1="234.91" y1="399.01" x2="235.03" y2="401.51" stroke="#f6f3f7" stroke-width="1.35" stroke-linecap="round"/>
<line x1="231.91" y1="395.55" x2="231.89" y2="398.97" stroke="#f6f3f7" stroke-width="1.45" stroke-linecap="round"/>
<polyline points="228.80,392.20 224.78,396.68" fill="none" stroke="#f6f3f7" stroke-width="2.59" stroke-linecap="round"/>
<polyline points="224.78,396.68 222.08,402.31" fill="none" stroke="#f6f3f7" stroke-width="1.86" stroke-linecap="round"/>
<line x1="222.08" y1="402.31" x2="222.38" y2="404.75" stroke="#f6f3f7" stroke-width="1.35" stroke-linecap="round"/>
<line x1="222.08" y1="402.31" x2="219.84" y2="402.94" stroke="#f6f3f7" stroke-width="1.35" stroke-linecap="round"/>
<line x1="224.78" y1="396.68" x2="220.30" y2="396.33" stroke="#f6f3f7" stroke-width="1.45" stroke-linecap="round"/>
<polyline points="228.80,392.20 226.28,388.57" fill="none" stroke="#f6f3f7" stroke-width="2.59" stroke-linecap="round"/>
<polyline points="226.28,388.57 224.64,384.34" fill="none" stroke="#f6f3f7" stroke-width="1.86" stroke-linecap="round"/>
<line x1="226.28" y1="388.57" x2="227.02" y2="385.47" stroke="#f6f3f7" stroke-width="1.45" stroke-linecap="round"/>
<polyline points="228.80,392.20 231.41,387.50" fill="none" stroke="#f6f3f7" stroke-width="2.59" stroke-linecap="round"/>
<polyline points="231.41,387.50 233.23,382.37" fill="none" stroke="#f6f3f7" stroke-width="1.86" stroke-linecap="round"/>
<line x1="233.23" y1="382.37" x2="232.75" y2="380.58" stroke="#f6f3f7" stroke-width="1.35" stroke-linecap="round"/>
<line x1="233.23" y1="382.37" x2="234.89" y2="381.81" stroke="#f6f3f7" stroke-width="1.35" stroke-linecap="round"/>
<line x1="231.41" y1="387.50" x2="231.12" y2="383.73" stroke="#f6f3f7" stroke-width="1.45" stroke-linecap="round"/>
<circle cx="228.80" cy="392.20" r="2.20" fill="#f6f3f7"/>
<rect x="241.70" y="408.20" width="3.6" height="1.4" fill="#555" opacity="0.75"/>
<rect x="248.20" y="372.30" width="38.30" height="40.10" fill="#8a8a8a" stroke="none" stroke-width="0"/>
<rect x="248.70" y="372.80" width="37.30" height="39.10" fill="#e6e7e4" stroke="none" stroke-width="0"/>
<ellipse cx="268.00" cy="392.00" rx="17.60" ry="19.00" fill="#dec9e1"/>
<ellipse cx="268.00" cy="392.00" rx="16.80" ry="18.20" fill="none" stroke="#e6d6e8" stroke-width="0.9" opacity="0.8"/>
<ellipse cx="268.00" cy="392.00" rx="14.10" ry="15.50" fill="#b0a1dc"/>
<ellipse cx="268.00" cy="392.00" rx="13.10" ry="14.50" fill="#8f7ace"/>
<ellipse cx="264.06" cy="399.35" rx="5.46" ry="4.64" transform="rotate(120.5 264.06 399.35)" fill="#7866ad" opacity="0.75"/>
<ellipse cx="261.63" cy="387.14" rx="5.92" ry="5.03" transform="rotate(214.8 261.63 387.14)" fill="#7866ad" opacity="0.75"/>
<ellipse cx="272.14" cy="384.79" rx="4.67" ry="3.97" transform="rotate(302.3 272.14 384.79)" fill="#7866ad" opacity="0.75"/>
<ellipse cx="274.85" cy="396.00" rx="5.92" ry="5.03" transform="rotate(388.0 274.85 396.00)" fill="#7866ad" opacity="0.75"/>
<line x1="272.21" y1="391.55" x2="281.33" y2="390.58" stroke="#b0a1dc" stroke-width="0.45" opacity="0.6"/>
<line x1="271.99" y1="393.54" x2="280.64" y2="396.88" stroke="#b0a1dc" stroke-width="0.45" opacity="0.6"/>
<line x1="271.58" y1="394.47" x2="279.35" y2="399.82" stroke="#b0a1dc" stroke-width="0.45" opacity="0.6"/>
<line x1="270.77" y1="395.51" x2="276.77" y2="403.13" stroke="#b0a1dc" stroke-width="0.45" opacity="0.6"/>
<line x1="269.74" y1="396.24" x2="273.51" y2="405.42" stroke="#b0a1dc" stroke-width="0.45" opacity="0.6"/>
<line x1="269.31" y1="396.42" x2="272.14" y2="406.01" stroke="#b0a1dc" stroke-width="0.45" opacity="0.6"/>
<line x1="268.14" y1="396.65" x2="268.43" y2="406.72" stroke="#b0a1dc" stroke-width="0.45" opacity="0.6"/>
<line x1="266.74" y1="396.44" x2="264.00" y2="406.05" stroke="#b0a1dc" stroke-width="0.45" opacity="0.6"/>
<line x1="266.05" y1="396.13" x2="261.82" y2="405.06" stroke="#b0a1dc" stroke-width="0.45" opacity="0.6"/>
<line x1="265.15" y1="395.44" x2="258.99" y2="402.89" stroke="#b0a1dc" stroke-width="0.45" opacity="0.6"/>
<line x1="264.46" y1="394.54" x2="256.78" y2="400.04" stroke="#b0a1dc" stroke-width="0.45" opacity="0.6"/>
<line x1="263.85" y1="392.88" x2="254.85" y2="394.79" stroke="#b0a1dc" stroke-width="0.45" opacity="0.6"/>
<line x1="263.78" y1="391.65" x2="254.64" y2="390.90" stroke="#b0a1dc" stroke-width="0.45" opacity="0.6"/>
<line x1="263.99" y1="390.53" x2="255.29" y2="387.35" stroke="#b0a1dc" stroke-width="0.45" opacity="0.6"/>
<line x1="264.23" y1="389.90" x2="256.05" y2="385.36" stroke="#b0a1dc" stroke-width="0.45" opacity="0.6"/>
<line x1="265.27" y1="388.45" x2="259.37" y2="380.74" stroke="#b0a1dc" stroke-width="0.45" opacity="0.6"/>
<line x1="265.89" y1="387.97" x2="261.33" y2="379.23" stroke="#b0a1dc" stroke-width="0.45" opacity="0.6"/>
<line x1="266.69" y1="387.58" x2="263.84" y2="378.00" stroke="#b0a1dc" stroke-width="0.45" opacity="0.6"/>
<line x1="267.96" y1="387.35" x2="267.88" y2="377.28" stroke="#b0a1dc" stroke-width="0.45" opacity="0.6"/>
<line x1="269.03" y1="387.49" x2="271.26" y2="377.72" stroke="#b0a1dc" stroke-width="0.45" opacity="0.6"/>
<line x1="269.80" y1="387.79" x2="273.70" y2="378.67" stroke="#b0a1dc" stroke-width="0.45" opacity="0.6"/>
<line x1="271.03" y1="388.75" x2="277.59" y2="381.72" stroke="#b0a1dc" stroke-width="0.45" opacity="0.6"/>
<line x1="271.60" y1="389.56" x2="279.41" y2="384.28" stroke="#b0a1dc" stroke-width="0.45" opacity="0.6"/>
<line x1="272.10" y1="390.86" x2="280.99" y2="388.38" stroke="#b0a1dc" stroke-width="0.45" opacity="0.6"/>
<circle cx="276.77" cy="387.48" r="1.29" fill="#b0a1dc" opacity="0.5"/>
<circle cx="276.28" cy="381.49" r="1.39" fill="#b0a1dc" opacity="0.5"/>
<circle cx="272.13" cy="390.37" r="0.97" fill="#b0a1dc" opacity="0.5"/>
<circle cx="273.71" cy="403.81" r="1.63" fill="#b0a1dc" opacity="0.5"/>
<circle cx="266.71" cy="384.82" r="1.39" fill="#b0a1dc" opacity="0.5"/>
<circle cx="271.85" cy="388.36" r="0.94" fill="#b0a1dc" opacity="0.5"/>
<circle cx="275.83" cy="394.64" r="1.81" fill="#b0a1dc" opacity="0.5"/>
<circle cx="260.82" cy="389.16" r="1.40" fill="#b0a1dc" opacity="0.5"/>
<polyline points="268.00,392.00 271.99,389.52" fill="none" stroke="#f6f3f7" stroke-width="2.88" stroke-linecap="round"/>
<polyline points="271.99,389.52 276.89,389.55" fill="none" stroke="#f6f3f7" stroke-width="2.07" stroke-linecap="round"/>
<line x1="276.89" y1="389.55" x2="278.20" y2="387.85" stroke="#f6f3f7" stroke-width="1.49" stroke-linecap="round"/>
<line x1="276.89" y1="389.55" x2="278.58" y2="390.78" stroke="#f6f3f7" stroke-width="1.49" stroke-linecap="round"/>
<line x1="271.99" y1="389.52" x2="275.27" y2="390.33" stroke="#f6f3f7" stroke-width="1.61" stroke-linecap="round"/>
<polyline points="268.00,392.00 268.35,396.80" fill="none" stroke="#f6f3f7" stroke-width="2.88" stroke-linecap="round"/>
<polyline points="268.35,396.80 266.57,401.49" fill="none" stroke="#f6f3f7" stroke-width="2.07" stroke-linecap="round"/>
<line x1="268.35" y1="396.80" x2="270.90" y2="398.80" stroke="#f6f3f7" stroke-width="1.61" stroke-linecap="round"/>
<polyline points="268.00,392.00 264.12,393.94" fill="none" stroke="#f6f3f7" stroke-width="2.88" stroke-linecap="round"/>
<polyline points="264.12,393.94 260.83,397.06" fill="none" stroke="#f6f3f7" stroke-width="2.07" stroke-linecap="round"/>
<line x1="264.12" y1="393.94" x2="262.26" y2="397.45" stroke="#f6f3f7" stroke-width="1.61" stroke-linecap="round"/>
<polyline points="268.00,392.00 268.43,385.32" fill="none" stroke="#f6f3f7" stroke-width="2.88" stroke-linecap="round"/>
<polyline points="268.43,385.32 266.36,378.72" fill="none" stroke="#f6f3f7" stroke-width="2.07" stroke-linecap="round"/>
<line x1="266.36" y1="378.72" x2="264.34" y2="377.37" stroke="#f6f3f7" stroke-width="1.49" stroke-linecap="round"/>
<line x1="266.36" y1="378.72" x2="267.25" y2="376.31" stroke="#f6f3f7" stroke-width="1.49" stroke-linecap="round"/>
<line x1="268.43" y1="385.32" x2="265.33" y2="381.72" stroke="#f6f3f7" stroke-width="1.61" stroke-linecap="round"/>
<circle cx="268.00" cy="392.00" r="2.20" fill="#f6f3f7"/>
<rect x="280.00" y="408.20" width="3.6" height="1.4" fill="#555" opacity="0.75"/>
<rect x="286.50" y="372.30" width="38.30" height="40.10" fill="#8a8a8a" stroke="none" stroke-width="0"/>
<rect x="287.00" y="372.80" width="37.30" height="39.10" fill="#e6e7e4" stroke="none" stroke-width="0"/>
<ellipse cx="306.00" cy="392.00" rx="17.80" ry="19.00" fill="#dec9e3"/>
<ellipse cx="306.00" cy="392.00" rx="17.00" ry="18.20" fill="none" stroke="#e6d6ea" stroke-width="0.9" opacity="0.8"/>
<ellipse cx="306.00" cy="392.00" rx="14.80" ry="16.00" fill="#a79dd9"/>
<ellipse cx="306.00" cy="392.00" rx="13.80" ry="15.00" fill="#8274c9"/>
<ellipse cx="305.08" cy="400.74" rx="5.43" ry="4.61" transform="rotate(96.5 305.08 400.74)" fill="#6d61a8" opacity="0.75"/>
<ellipse cx="298.16" cy="394.38" rx="5.66" ry="4.81" transform="rotate(164.3 298.16 394.38)" fill="#6d61a8" opacity="0.75"/>
<ellipse cx="301.42" cy="384.73" rx="5.84" ry="4.97" transform="rotate(235.7 301.42 384.73)" fill="#6d61a8" opacity="0.75"/>
<ellipse cx="310.97" cy="385.03" rx="5.71" ry="4.85" transform="rotate(307.6 310.97 385.03)" fill="#6d61a8" opacity="0.75"/>
<ellipse cx="313.48" cy="395.47" rx="6.22" ry="5.28" transform="rotate(383.2 313.48 395.47)" fill="#6d61a8" opacity="0.75"/>
<line x1="310.43" y1="391.77" x2="320.04" y2="391.27" stroke="#a79dd9" stroke-width="0.45" opacity="0.6"/>
<line x1="310.26" y1="393.37" x2="319.48" y2="396.33" stroke="#a79dd9" stroke-width="0.45" opacity="0.6"/>
<line x1="310.04" y1="393.98" x2="318.81" y2="398.28" stroke="#a79dd9" stroke-width="0.45" opacity="0.6"/>
<line x1="309.26" y1="395.26" x2="316.33" y2="402.31" stroke="#a79dd9" stroke-width="0.45" opacity="0.6"/>
<line x1="308.35" y1="396.08" x2="313.43" y2="404.91" stroke="#a79dd9" stroke-width="0.45" opacity="0.6"/>
<line x1="307.45" y1="396.54" x2="310.60" y2="406.36" stroke="#a79dd9" stroke-width="0.45" opacity="0.6"/>
<line x1="305.78" y1="396.79" x2="305.32" y2="407.18" stroke="#a79dd9" stroke-width="0.45" opacity="0.6"/>
<line x1="305.01" y1="396.68" x2="302.88" y2="406.82" stroke="#a79dd9" stroke-width="0.45" opacity="0.6"/>
<line x1="303.56" y1="396.01" x2="298.28" y2="404.70" stroke="#a79dd9" stroke-width="0.45" opacity="0.6"/>
<line x1="302.59" y1="395.07" x2="295.19" y2="401.72" stroke="#a79dd9" stroke-width="0.45" opacity="0.6"/>
<line x1="302.27" y1="394.60" x2="294.19" y2="400.24" stroke="#a79dd9" stroke-width="0.45" opacity="0.6"/>
<line x1="301.63" y1="392.87" x2="292.18" y2="394.77" stroke="#a79dd9" stroke-width="0.45" opacity="0.6"/>
<line x1="301.57" y1="391.71" x2="291.97" y2="391.07" stroke="#a79dd9" stroke-width="0.45" opacity="0.6"/>
<line x1="301.75" y1="390.60" x2="292.55" y2="387.58" stroke="#a79dd9" stroke-width="0.45" opacity="0.6"/>
<line x1="301.96" y1="390.00" x2="293.21" y2="385.68" stroke="#a79dd9" stroke-width="0.45" opacity="0.6"/>
<line x1="302.83" y1="388.64" x2="295.97" y2="381.35" stroke="#a79dd9" stroke-width="0.45" opacity="0.6"/>
<line x1="303.88" y1="387.78" x2="299.28" y2="378.65" stroke="#a79dd9" stroke-width="0.45" opacity="0.6"/>
<line x1="304.68" y1="387.42" x2="301.81" y2="377.49" stroke="#a79dd9" stroke-width="0.45" opacity="0.6"/>
<line x1="305.75" y1="387.21" x2="305.22" y2="376.82" stroke="#a79dd9" stroke-width="0.45" opacity="0.6"/>
<line x1="306.98" y1="387.32" x2="309.12" y2="377.18" stroke="#a79dd9" stroke-width="0.45" opacity="0.6"/>
<line x1="308.03" y1="387.73" x2="312.43" y2="378.48" stroke="#a79dd9" stroke-width="0.45" opacity="0.6"/>
<line x1="309.31" y1="388.81" x2="316.50" y2="381.89" stroke="#a79dd9" stroke-width="0.45" opacity="0.6"/>
<line x1="309.78" y1="389.47" x2="317.96" y2="384.00" stroke="#a79dd9" stroke-width="0.45" opacity="0.6"/>
<line x1="310.27" y1="390.69" x2="319.52" y2="387.84" stroke="#a79dd9" stroke-width="0.45" opacity="0.6"/>
<circle cx="297.99" cy="381.12" r="1.15" fill="#a79dd9" opacity="0.5"/>
<circle cx="318.59" cy="395.86" r="1.80" fill="#a79dd9" opacity="0.5"/>
<circle cx="308.28" cy="382.49" r="1.08" fill="#a79dd9" opacity="0.5"/>
<circle cx="310.03" cy="398.37" r="1.35" fill="#a79dd9" opacity="0.5"/>
<circle cx="315.75" cy="396.62" r="1.67" fill="#a79dd9" opacity="0.5"/>
<circle cx="317.88" cy="393.06" r="1.39" fill="#a79dd9" opacity="0.5"/>
<circle cx="313.55" cy="387.43" r="1.75" fill="#a79dd9" opacity="0.5"/>
<circle cx="296.52" cy="395.03" r="1.40" fill="#a79dd9" opacity="0.5"/>
<polyline points="306.00,392.00 303.15,395.75" fill="none" stroke="#f6f3f7" stroke-width="2.59" stroke-linecap="round"/>
<polyline points="303.15,395.75 301.90,400.63" fill="none" stroke="#f6f3f7" stroke-width="1.86" stroke-linecap="round"/>
<line x1="301.90" y1="400.63" x2="302.31" y2="403.16" stroke="#f6f3f7" stroke-width="1.35" stroke-linecap="round"/>
<line x1="301.90" y1="400.63" x2="299.70" y2="401.59" stroke="#f6f3f7" stroke-width="1.35" stroke-linecap="round"/>
<polyline points="306.00,392.00 301.03,390.12" fill="none" stroke="#f6f3f7" stroke-width="2.59" stroke-linecap="round"/>
<polyline points="301.03,390.12 295.73,389.43" fill="none" stroke="#f6f3f7" stroke-width="1.86" stroke-linecap="round"/>
<line x1="295.73" y1="389.43" x2="293.08" y2="391.34" stroke="#f6f3f7" stroke-width="1.35" stroke-linecap="round"/>
<line x1="295.73" y1="389.43" x2="293.98" y2="386.56" stroke="#f6f3f7" stroke-width="1.35" stroke-linecap="round"/>
<polyline points="306.00,392.00 306.19,386.69" fill="none" stroke="#f6f3f7" stroke-width="2.59" stroke-linecap="round"/>
<polyline points="306.19,386.69 304.05,381.59" fill="none" stroke="#f6f3f7" stroke-width="1.86" stroke-linecap="round"/>
<line x1="304.05" y1="381.59" x2="302.78" y2="379.98" stroke="#f6f3f7" stroke-width="1.35" stroke-linecap="round"/>
<line x1="304.05" y1="381.59" x2="305.07" y2="379.79" stroke="#f6f3f7" stroke-width="1.35" stroke-linecap="round"/>
<polyline points="306.00,392.00 310.47,390.52" fill="none" stroke="#f6f3f7" stroke-width="2.59" stroke-linecap="round"/>
<polyline points="310.47,390.52 315.19,390.14" fill="none" stroke="#f6f3f7" stroke-width="1.86" stroke-linecap="round"/>
<polyline points="306.00,392.00 308.12,396.60" fill="none" stroke="#f6f3f7" stroke-width="2.59" stroke-linecap="round"/>
<polyline points="308.12,396.60 309.53,401.55" fill="none" stroke="#f6f3f7" stroke-width="1.86" stroke-linecap="round"/>
<line x1="309.53" y1="401.55" x2="311.10" y2="402.95" stroke="#f6f3f7" stroke-width="1.35" stroke-linecap="round"/>
<line x1="309.53" y1="401.55" x2="308.86" y2="403.64" stroke="#f6f3f7" stroke-width="1.35" stroke-linecap="round"/>
<circle cx="306.00" cy="392.00" r="2.20" fill="#f6f3f7"/>
<rect x="318.30" y="408.20" width="3.6" height="1.4" fill="#555" opacity="0.75"/>
<rect x="324.80" y="372.30" width="38.30" height="40.10" fill="#8a8a8a" stroke="none" stroke-width="0"/>
<rect x="325.30" y="372.80" width="37.30" height="39.10" fill="#e6e7e4" stroke="none" stroke-width="0"/>
<ellipse cx="344.10" cy="392.30" rx="17.50" ry="18.80" fill="#dab8dc"/>
<ellipse cx="344.10" cy="392.30" rx="16.70" ry="18.00" fill="none" stroke="#e3c9e4" stroke-width="0.9" opacity="0.8"/>
<ellipse cx="344.10" cy="392.30" rx="14.00" ry="15.30" fill="#b6a7dc"/>
<ellipse cx="344.10" cy="392.30" rx="13.00" ry="14.30" fill="#9882ce"/>
<ellipse cx="348.16" cy="399.45" rx="5.88" ry="5.00" transform="rotate(58.2 348.16 399.45)" fill="#7f6dad" opacity="0.75"/>
<ellipse cx="338.26" cy="397.79" rx="5.25" ry="4.46" transform="rotate(139.3 338.26 397.79)" fill="#7f6dad" opacity="0.75"/>
<ellipse cx="338.75" cy="386.25" rx="5.88" ry="5.00" transform="rotate(226.0 338.75 386.25)" fill="#7f6dad" opacity="0.75"/>
<ellipse cx="350.39" cy="387.45" rx="5.88" ry="5.00" transform="rotate(324.8 350.39 387.45)" fill="#7f6dad" opacity="0.75"/>
<line x1="348.30" y1="392.49" x2="357.39" y2="392.89" stroke="#b6a7dc" stroke-width="0.45" opacity="0.6"/>
<line x1="348.12" y1="393.63" x2="356.83" y2="396.51" stroke="#b6a7dc" stroke-width="0.45" opacity="0.6"/>
<line x1="347.89" y1="394.28" x2="356.10" y2="398.56" stroke="#b6a7dc" stroke-width="0.45" opacity="0.6"/>
<line x1="347.34" y1="395.22" x2="354.35" y2="401.56" stroke="#b6a7dc" stroke-width="0.45" opacity="0.6"/>
<line x1="346.28" y1="396.22" x2="351.02" y2="404.72" stroke="#b6a7dc" stroke-width="0.45" opacity="0.6"/>
<line x1="344.99" y1="396.79" x2="346.91" y2="406.51" stroke="#b6a7dc" stroke-width="0.45" opacity="0.6"/>
<line x1="344.31" y1="396.88" x2="344.76" y2="406.82" stroke="#b6a7dc" stroke-width="0.45" opacity="0.6"/>
<line x1="343.01" y1="396.73" x2="340.65" y2="406.34" stroke="#b6a7dc" stroke-width="0.45" opacity="0.6"/>
<line x1="342.13" y1="396.36" x2="337.88" y2="405.15" stroke="#b6a7dc" stroke-width="0.45" opacity="0.6"/>
<line x1="340.93" y1="395.31" x2="334.07" y2="401.84" stroke="#b6a7dc" stroke-width="0.45" opacity="0.6"/>
<line x1="340.29" y1="394.23" x2="332.04" y2="398.42" stroke="#b6a7dc" stroke-width="0.45" opacity="0.6"/>
<line x1="340.07" y1="393.58" x2="331.32" y2="396.34" stroke="#b6a7dc" stroke-width="0.45" opacity="0.6"/>
<line x1="339.92" y1="391.84" x2="330.87" y2="390.85" stroke="#b6a7dc" stroke-width="0.45" opacity="0.6"/>
<line x1="339.96" y1="391.50" x2="331.00" y2="389.78" stroke="#b6a7dc" stroke-width="0.45" opacity="0.6"/>
<line x1="340.60" y1="389.76" x2="333.02" y2="384.26" stroke="#b6a7dc" stroke-width="0.45" opacity="0.6"/>
<line x1="341.36" y1="388.82" x2="335.43" y2="381.28" stroke="#b6a7dc" stroke-width="0.45" opacity="0.6"/>
<line x1="341.75" y1="388.50" x2="336.66" y2="380.25" stroke="#b6a7dc" stroke-width="0.45" opacity="0.6"/>
<line x1="343.18" y1="387.82" x2="341.19" y2="378.12" stroke="#b6a7dc" stroke-width="0.45" opacity="0.6"/>
<line x1="344.15" y1="387.71" x2="344.25" y2="377.77" stroke="#b6a7dc" stroke-width="0.45" opacity="0.6"/>
<line x1="345.55" y1="387.99" x2="348.69" y2="378.66" stroke="#b6a7dc" stroke-width="0.45" opacity="0.6"/>
<line x1="345.99" y1="388.20" x2="350.07" y2="379.31" stroke="#b6a7dc" stroke-width="0.45" opacity="0.6"/>
<line x1="347.09" y1="389.08" x2="353.58" y2="382.10" stroke="#b6a7dc" stroke-width="0.45" opacity="0.6"/>
<line x1="347.89" y1="390.31" x2="356.09" y2="386.01" stroke="#b6a7dc" stroke-width="0.45" opacity="0.6"/>
<line x1="348.19" y1="391.23" x2="357.04" y2="388.93" stroke="#b6a7dc" stroke-width="0.45" opacity="0.6"/>
<circle cx="342.32" cy="397.28" r="1.93" fill="#b6a7dc" opacity="0.5"/>
<circle cx="331.70" cy="394.53" r="0.97" fill="#b6a7dc" opacity="0.5"/>
<circle cx="348.30" cy="381.15" r="1.90" fill="#b6a7dc" opacity="0.5"/>
<circle cx="351.38" cy="393.20" r="0.86" fill="#b6a7dc" opacity="0.5"/>
<circle cx="344.19" cy="384.46" r="1.95" fill="#b6a7dc" opacity="0.5"/>
<circle cx="336.54" cy="400.58" r="1.84" fill="#b6a7dc" opacity="0.5"/>
<circle cx="344.72" cy="401.98" r="1.95" fill="#b6a7dc" opacity="0.5"/>
<circle cx="336.98" cy="390.97" r="1.12" fill="#b6a7dc" opacity="0.5"/>
<polyline points="344.10,392.30 349.74,393.45" fill="none" stroke="#f6f3f7" stroke-width="2.88" stroke-linecap="round"/>
<polyline points="349.74,393.45 355.58,392.30" fill="none" stroke="#f6f3f7" stroke-width="2.07" stroke-linecap="round"/>
<line x1="355.58" y1="392.30" x2="357.43" y2="390.52" stroke="#f6f3f7" stroke-width="1.49" stroke-linecap="round"/>
<line x1="355.58" y1="392.30" x2="357.68" y2="393.70" stroke="#f6f3f7" stroke-width="1.49" stroke-linecap="round"/>
<polyline points="344.10,392.30 342.46,398.60" fill="none" stroke="#f6f3f7" stroke-width="2.88" stroke-linecap="round"/>
<polyline points="342.46,398.60 342.10,405.22" fill="none" stroke="#f6f3f7" stroke-width="2.07" stroke-linecap="round"/>
<line x1="342.10" y1="405.22" x2="343.68" y2="407.95" stroke="#f6f3f7" stroke-width="1.49" stroke-linecap="round"/>
<line x1="342.10" y1="405.22" x2="340.03" y2="407.52" stroke="#f6f3f7" stroke-width="1.49" stroke-linecap="round"/>
<line x1="342.46" y1="398.60" x2="338.65" y2="402.03" stroke="#f6f3f7" stroke-width="1.61" stroke-linecap="round"/>
<polyline points="344.10,392.30 339.01,393.01" fill="none" stroke="#f6f3f7" stroke-width="2.88" stroke-linecap="round"/>
<polyline points="339.01,393.01 334.63,396.60" fill="none" stroke="#f6f3f7" stroke-width="2.07" stroke-linecap="round"/>
<line x1="334.63" y1="396.60" x2="333.88" y2="398.68" stroke="#f6f3f7" stroke-width="1.49" stroke-linecap="round"/>
<line x1="334.63" y1="396.60" x2="332.74" y2="395.75" stroke="#f6f3f7" stroke-width="1.49" stroke-linecap="round"/>
<line x1="339.01" y1="393.01" x2="336.36" y2="396.57" stroke="#f6f3f7" stroke-width="1.61" stroke-linecap="round"/>
<polyline points="344.10,392.30 345.07,385.74" fill="none" stroke="#f6f3f7" stroke-width="2.88" stroke-linecap="round"/>
<polyline points="345.07,385.74 346.68,379.31" fill="none" stroke="#f6f3f7" stroke-width="2.07" stroke-linecap="round"/>
<line x1="346.68" y1="379.31" x2="345.94" y2="377.33" stroke="#f6f3f7" stroke-width="1.49" stroke-linecap="round"/>
<line x1="346.68" y1="379.31" x2="348.04" y2="377.78" stroke="#f6f3f7" stroke-width="1.49" stroke-linecap="round"/>
<line x1="345.07" y1="385.74" x2="342.66" y2="380.43" stroke="#f6f3f7" stroke-width="1.61" stroke-linecap="round"/>
<circle cx="344.10" cy="392.30" r="2.20" fill="#f6f3f7"/>
<rect x="356.60" y="408.20" width="3.6" height="1.4" fill="#555" opacity="0.75"/>
<rect x="95.00" y="412.40" width="38.30" height="40.10" fill="#8a8a8a" stroke="none" stroke-width="0"/>
<rect x="95.50" y="412.90" width="37.30" height="39.10" fill="#e6e7e4" stroke="none" stroke-width="0"/>
<ellipse cx="114.00" cy="432.10" rx="17.60" ry="18.70" fill="#e1b6da"/>
<ellipse cx="114.00" cy="432.10" rx="16.80" ry="17.90" fill="none" stroke="#e8c8e3" stroke-width="0.9" opacity="0.8"/>
<ellipse cx="114.00" cy="432.10" rx="14.40" ry="15.50" fill="#baa1d9"/>
<ellipse cx="114.00" cy="432.10" rx="13.40" ry="14.50" fill="#9d7ac9"/>
<ellipse cx="112.47" cy="440.46" rx="5.01" ry="4.25" transform="rotate(101.2 112.47 440.46)" fill="#8366a8" opacity="0.75"/>
<ellipse cx="106.34" cy="434.28" rx="5.39" ry="4.58" transform="rotate(165.2 106.34 434.28)" fill="#8366a8" opacity="0.75"/>
<ellipse cx="110.02" cy="424.73" rx="6.05" ry="5.14" transform="rotate(239.8 110.02 424.73)" fill="#8366a8" opacity="0.75"/>
<ellipse cx="119.79" cy="426.28" rx="5.66" ry="4.81" transform="rotate(316.9 119.79 426.28)" fill="#8366a8" opacity="0.75"/>
<ellipse cx="120.72" cy="436.60" rx="5.97" ry="5.08" transform="rotate(391.9 120.72 436.60)" fill="#8366a8" opacity="0.75"/>
<line x1="118.32" y1="432.08" x2="127.68" y2="432.04" stroke="#baa1d9" stroke-width="0.45" opacity="0.6"/>
<line x1="118.18" y1="433.27" x2="127.24" y2="435.79" stroke="#baa1d9" stroke-width="0.45" opacity="0.6"/>
<line x1="117.84" y1="434.23" x2="126.16" y2="438.85" stroke="#baa1d9" stroke-width="0.45" opacity="0.6"/>
<line x1="117.20" y1="435.22" x2="124.14" y2="441.99" stroke="#baa1d9" stroke-width="0.45" opacity="0.6"/>
<line x1="116.01" y1="436.21" x2="120.38" y2="445.13" stroke="#baa1d9" stroke-width="0.45" opacity="0.6"/>
<line x1="115.26" y1="436.55" x2="118.00" y2="446.18" stroke="#baa1d9" stroke-width="0.45" opacity="0.6"/>
<line x1="113.85" y1="436.75" x2="113.52" y2="446.82" stroke="#baa1d9" stroke-width="0.45" opacity="0.6"/>
<line x1="112.64" y1="436.52" x2="109.71" y2="446.08" stroke="#baa1d9" stroke-width="0.45" opacity="0.6"/>
<line x1="111.57" y1="435.95" x2="106.31" y2="444.28" stroke="#baa1d9" stroke-width="0.45" opacity="0.6"/>
<line x1="110.69" y1="435.08" x2="103.51" y2="441.55" stroke="#baa1d9" stroke-width="0.45" opacity="0.6"/>
<line x1="110.38" y1="434.64" x2="102.53" y2="440.13" stroke="#baa1d9" stroke-width="0.45" opacity="0.6"/>
<line x1="109.89" y1="433.54" x2="100.99" y2="436.65" stroke="#baa1d9" stroke-width="0.45" opacity="0.6"/>
<line x1="109.68" y1="431.88" x2="100.34" y2="431.41" stroke="#baa1d9" stroke-width="0.45" opacity="0.6"/>
<line x1="109.84" y1="430.83" x2="100.84" y2="428.08" stroke="#baa1d9" stroke-width="0.45" opacity="0.6"/>
<line x1="110.14" y1="430.02" x2="101.77" y2="425.51" stroke="#baa1d9" stroke-width="0.45" opacity="0.6"/>
<line x1="111.06" y1="428.70" x2="104.68" y2="421.33" stroke="#baa1d9" stroke-width="0.45" opacity="0.6"/>
<line x1="112.12" y1="427.91" x2="108.06" y2="418.83" stroke="#baa1d9" stroke-width="0.45" opacity="0.6"/>
<line x1="113.16" y1="427.54" x2="111.35" y2="417.65" stroke="#baa1d9" stroke-width="0.45" opacity="0.6"/>
<line x1="113.75" y1="427.46" x2="113.22" y2="417.40" stroke="#baa1d9" stroke-width="0.45" opacity="0.6"/>
<line x1="114.95" y1="427.56" x2="117.00" y2="417.73" stroke="#baa1d9" stroke-width="0.45" opacity="0.6"/>
<line x1="115.78" y1="427.86" x2="119.64" y2="418.68" stroke="#baa1d9" stroke-width="0.45" opacity="0.6"/>
<line x1="117.33" y1="429.14" x2="124.55" y2="422.72" stroke="#baa1d9" stroke-width="0.45" opacity="0.6"/>
<line x1="117.61" y1="429.55" x2="125.45" y2="424.03" stroke="#baa1d9" stroke-width="0.45" opacity="0.6"/>
<line x1="118.22" y1="431.10" x2="127.36" y2="428.94" stroke="#baa1d9" stroke-width="0.45" opacity="0.6"/>
<circle cx="104.82" cy="429.70" r="1.43" fill="#baa1d9" opacity="0.5"/>
<circle cx="118.34" cy="423.00" r="1.16" fill="#baa1d9" opacity="0.5"/>
<circle cx="120.34" cy="438.10" r="1.91" fill="#baa1d9" opacity="0.5"/>
<circle cx="120.26" cy="440.81" r="1.56" fill="#baa1d9" opacity="0.5"/>
<circle cx="117.26" cy="437.66" r="1.62" fill="#baa1d9" opacity="0.5"/>
<circle cx="106.77" cy="435.35" r="1.38" fill="#baa1d9" opacity="0.5"/>
<circle cx="122.37" cy="438.75" r="1.51" fill="#baa1d9" opacity="0.5"/>
<circle cx="106.91" cy="430.44" r="1.77" fill="#baa1d9" opacity="0.5"/>
<polyline points="114.00,432.10 115.97,438.18" fill="none" stroke="#f6f3f7" stroke-width="2.16" stroke-linecap="round"/>
<polyline points="115.97,438.18 117.63,444.37" fill="none" stroke="#f6f3f7" stroke-width="1.55" stroke-linecap="round"/>
<line x1="117.63" y1="444.37" x2="119.12" y2="445.72" stroke="#f6f3f7" stroke-width="1.12" stroke-linecap="round"/>
<line x1="117.63" y1="444.37" x2="117.21" y2="446.41" stroke="#f6f3f7" stroke-width="1.12" stroke-linecap="round"/>
<polyline points="114.00,432.10 110.41,436.46" fill="none" stroke="#f6f3f7" stroke-width="2.16" stroke-linecap="round"/>
<polyline points="110.41,436.46 108.36,442.06" fill="none" stroke="#f6f3f7" stroke-width="1.55" stroke-linecap="round"/>
<polyline points="114.00,432.10 108.40,430.04" fill="none" stroke="#f6f3f7" stroke-width="2.16" stroke-linecap="round"/>
<polyline points="108.40,430.04 103.73,425.78" fill="none" stroke="#f6f3f7" stroke-width="1.55" stroke-linecap="round"/>
<line x1="103.73" y1="425.78" x2="101.41" y2="426.75" stroke="#f6f3f7" stroke-width="1.12" stroke-linecap="round"/>
<line x1="103.73" y1="425.78" x2="102.54" y2="423.42" stroke="#f6f3f7" stroke-width="1.12" stroke-linecap="round"/>
<polyline points="114.00,432.10 115.15,425.65" fill="none" stroke="#f6f3f7" stroke-width="2.16" stroke-linecap="round"/>
<polyline points="115.15,425.65 116.14,419.17" fill="none" stroke="#f6f3f7" stroke-width="1.55" stroke-linecap="round"/>
<line x1="115.15" y1="425.65" x2="118.84" y2="422.09" stroke="#f6f3f7" stroke-width="1.21" stroke-linecap="round"/>
<polyline points="114.00,432.10 119.65,431.35" fill="none" stroke="#f6f3f7" stroke-width="2.16" stroke-linecap="round"/>
<polyline points="119.65,431.35 125.14,429.60" fill="none" stroke="#f6f3f7" stroke-width="1.55" stroke-linecap="round"/>
<line x1="125.14" y1="429.60" x2="126.76" y2="427.16" stroke="#f6f3f7" stroke-width="1.12" stroke-linecap="round"/>
<line x1="125.14" y1="429.60" x2="127.34" y2="431.43" stroke="#f6f3f7" stroke-width="1.12" stroke-linecap="round"/>
<line x1="119.65" y1="431.35" x2="121.59" y2="427.42" stroke="#f6f3f7" stroke-width="1.21" stroke-linecap="round"/>
<circle cx="114.00" cy="432.10" r="2.20" fill="#f6f3f7"/>
<rect x="126.80" y="448.30" width="3.6" height="1.4" fill="#555" opacity="0.75"/>
<rect x="133.30" y="412.40" width="38.30" height="40.10" fill="#8a8a8a" stroke="none" stroke-width="0"/>
<rect x="133.80" y="412.90" width="37.30" height="39.10" fill="#e6e7e4" stroke="none" stroke-width="0"/>
<ellipse cx="153.10" cy="432.20" rx="18.10" ry="18.50" fill="#e796d2"/>
<ellipse cx="153.10" cy="432.20" rx="17.30" ry="17.70" fill="none" stroke="#edb0dd" stroke-width="0.9" opacity="0.8"/>
<ellipse cx="153.10" cy="432.20" rx="13.10" ry="13.50" fill="#c4a6dc"/>
<ellipse cx="153.10" cy="432.20" rx="12.10" ry="12.50" fill="#ab81ce"/>
<ellipse cx="156.48" cy="438.76" rx="5.03" ry="4.27" transform="rotate(62.0 156.48 438.76)" fill="#8f6cad" opacity="0.75"/>
<ellipse cx="147.40" cy="436.73" rx="5.50" ry="4.68" transform="rotate(142.4 147.40 436.73)" fill="#8f6cad" opacity="0.75"/>
<ellipse cx="147.67" cy="427.32" rx="4.86" ry="4.13" transform="rotate(221.1 147.67 427.32)" fill="#8f6cad" opacity="0.75"/>
<ellipse cx="154.95" cy="425.02" rx="4.76" ry="4.05" transform="rotate(284.9 154.95 425.02)" fill="#8f6cad" opacity="0.75"/>
<ellipse cx="160.24" cy="431.19" rx="5.22" ry="4.44" transform="rotate(352.2 160.24 431.19)" fill="#8f6cad" opacity="0.75"/>
<line x1="157.03" y1="432.03" x2="165.53" y2="431.66" stroke="#c4a6dc" stroke-width="0.45" opacity="0.6"/>
<line x1="156.96" y1="432.97" x2="165.32" y2="434.64" stroke="#c4a6dc" stroke-width="0.45" opacity="0.6"/>
<line x1="156.59" y1="434.06" x2="164.16" y2="438.07" stroke="#c4a6dc" stroke-width="0.45" opacity="0.6"/>
<line x1="156.01" y1="434.92" x2="162.31" y2="440.82" stroke="#c4a6dc" stroke-width="0.45" opacity="0.6"/>
<line x1="155.18" y1="435.64" x2="159.69" y2="443.08" stroke="#c4a6dc" stroke-width="0.45" opacity="0.6"/>
<line x1="154.29" y1="436.06" x2="156.88" y2="444.42" stroke="#c4a6dc" stroke-width="0.45" opacity="0.6"/>
<line x1="153.41" y1="436.24" x2="154.08" y2="444.99" stroke="#c4a6dc" stroke-width="0.45" opacity="0.6"/>
<line x1="152.22" y1="436.15" x2="150.30" y2="444.70" stroke="#c4a6dc" stroke-width="0.45" opacity="0.6"/>
<line x1="151.27" y1="435.78" x2="147.29" y2="443.54" stroke="#c4a6dc" stroke-width="0.45" opacity="0.6"/>
<line x1="150.28" y1="435.02" x2="144.18" y2="441.14" stroke="#c4a6dc" stroke-width="0.45" opacity="0.6"/>
<line x1="149.82" y1="434.43" x2="142.71" y2="439.26" stroke="#c4a6dc" stroke-width="0.45" opacity="0.6"/>
<line x1="149.41" y1="433.58" x2="141.40" y2="436.57" stroke="#c4a6dc" stroke-width="0.45" opacity="0.6"/>
<line x1="149.18" y1="432.44" x2="140.68" y2="432.96" stroke="#c4a6dc" stroke-width="0.45" opacity="0.6"/>
<line x1="149.31" y1="431.12" x2="141.11" y2="428.78" stroke="#c4a6dc" stroke-width="0.45" opacity="0.6"/>
<line x1="149.65" y1="430.25" x2="142.19" y2="426.04" stroke="#c4a6dc" stroke-width="0.45" opacity="0.6"/>
<line x1="150.45" y1="429.21" x2="144.72" y2="422.72" stroke="#c4a6dc" stroke-width="0.45" opacity="0.6"/>
<line x1="151.34" y1="428.58" x2="147.54" y2="420.73" stroke="#c4a6dc" stroke-width="0.45" opacity="0.6"/>
<line x1="152.02" y1="428.31" x2="149.67" y2="419.87" stroke="#c4a6dc" stroke-width="0.45" opacity="0.6"/>
<line x1="152.78" y1="428.16" x2="152.10" y2="419.42" stroke="#c4a6dc" stroke-width="0.45" opacity="0.6"/>
<line x1="154.29" y1="428.34" x2="156.86" y2="419.98" stroke="#c4a6dc" stroke-width="0.45" opacity="0.6"/>
<line x1="155.24" y1="428.80" x2="159.86" y2="421.43" stroke="#c4a6dc" stroke-width="0.45" opacity="0.6"/>
<line x1="155.82" y1="429.28" x2="161.71" y2="422.94" stroke="#c4a6dc" stroke-width="0.45" opacity="0.6"/>
<line x1="156.56" y1="430.29" x2="164.07" y2="426.14" stroke="#c4a6dc" stroke-width="0.45" opacity="0.6"/>
<line x1="156.85" y1="430.99" x2="164.98" y2="428.38" stroke="#c4a6dc" stroke-width="0.45" opacity="0.6"/>
<circle cx="162.12" cy="426.69" r="1.75" fill="#c4a6dc" opacity="0.5"/>
<circle cx="158.62" cy="430.50" r="1.45" fill="#c4a6dc" opacity="0.5"/>
<circle cx="151.90" cy="421.73" r="1.27" fill="#c4a6dc" opacity="0.5"/>
<circle cx="158.81" cy="439.18" r="0.93" fill="#c4a6dc" opacity="0.5"/>
<circle cx="152.00" cy="428.25" r="1.35" fill="#c4a6dc" opacity="0.5"/>
<circle cx="148.27" cy="432.84" r="1.38" fill="#c4a6dc" opacity="0.5"/>
<circle cx="146.27" cy="432.20" r="1.88" fill="#c4a6dc" opacity="0.5"/>
<circle cx="160.38" cy="423.80" r="1.09" fill="#c4a6dc" opacity="0.5"/>
<polyline points="153.10,432.20 151.97,428.27" fill="none" stroke="#f6f3f7" stroke-width="2.16" stroke-linecap="round"/>
<polyline points="151.97,428.27 150.27,424.54" fill="none" stroke="#f6f3f7" stroke-width="1.55" stroke-linecap="round"/>
<line x1="150.27" y1="424.54" x2="148.22" y2="423.08" stroke="#f6f3f7" stroke-width="1.12" stroke-linecap="round"/>
<line x1="150.27" y1="424.54" x2="150.74" y2="422.01" stroke="#f6f3f7" stroke-width="1.12" stroke-linecap="round"/>
<line x1="151.97" y1="428.27" x2="153.04" y2="425.84" stroke="#f6f3f7" stroke-width="1.21" stroke-linecap="round"/>
<polyline points="153.10,432.20 156.53,428.83" fill="none" stroke="#f6f3f7" stroke-width="2.16" stroke-linecap="round"/>
<polyline points="156.53,428.83 159.16,424.70" fill="none" stroke="#f6f3f7" stroke-width="1.55" stroke-linecap="round"/>
<line x1="156.53" y1="428.83" x2="160.41" y2="429.29" stroke="#f6f3f7" stroke-width="1.21" stroke-linecap="round"/>
<polyline points="153.10,432.20 156.73,434.19" fill="none" stroke="#f6f3f7" stroke-width="2.16" stroke-linecap="round"/>
<polyline points="156.73,434.19 161.12,434.13" fill="none" stroke="#f6f3f7" stroke-width="1.55" stroke-linecap="round"/>
<line x1="161.12" y1="434.13" x2="163.46" y2="433.44" stroke="#f6f3f7" stroke-width="1.12" stroke-linecap="round"/>
<line x1="161.12" y1="434.13" x2="162.62" y2="436.10" stroke="#f6f3f7" stroke-width="1.12" stroke-linecap="round"/>
<line x1="156.73" y1="434.19" x2="159.69" y2="433.70" stroke="#f6f3f7" stroke-width="1.21" stroke-linecap="round"/>
<polyline points="153.10,432.20 152.52,437.89" fill="none" stroke="#f6f3f7" stroke-width="2.16" stroke-linecap="round"/>
<polyline points="152.52,437.89 149.79,443.12" fill="none" stroke="#f6f3f7" stroke-width="1.55" stroke-linecap="round"/>
<line x1="149.79" y1="443.12" x2="151.01" y2="444.98" stroke="#f6f3f7" stroke-width="1.12" stroke-linecap="round"/>
<line x1="149.79" y1="443.12" x2="147.81" y2="444.08" stroke="#f6f3f7" stroke-width="1.12" stroke-linecap="round"/>
<line x1="152.52" y1="437.89" x2="154.42" y2="441.48" stroke="#f6f3f7" stroke-width="1.21" stroke-linecap="round"/>
<polyline points="153.10,432.20 148.03,431.40" fill="none" stroke="#f6f3f7" stroke-width="2.16" stroke-linecap="round"/>
<polyline points="148.03,431.40 143.75,427.87" fill="none" stroke="#f6f3f7" stroke-width="1.55" stroke-linecap="round"/>
<line x1="148.03" y1="431.40" x2="146.60" y2="428.22" stroke="#f6f3f7" stroke-width="1.21" stroke-linecap="round"/>
<circle cx="153.10" cy="432.20" r="2.20" fill="#f6f3f7"/>
<rect x="165.10" y="448.30" width="3.6" height="1.4" fill="#555" opacity="0.75"/>
<rect x="171.60" y="412.40" width="38.30" height="40.10" fill="#8a8a8a" stroke="none" stroke-width="0"/>
<rect x="172.10" y="412.90" width="37.30" height="39.10" fill="#e6e7e4" stroke="none" stroke-width="0"/>
<ellipse cx="190.70" cy="432.20" rx="17.80" ry="18.50" fill="#e7a7da"/>
<ellipse cx="190.70" cy="432.20" rx="17.00" ry="17.70" fill="none" stroke="#edbde3" stroke-width="0.9" opacity="0.8"/>
<ellipse cx="190.70" cy="432.20" rx="14.30" ry="15.00" fill="#c0a1dc"/>
<ellipse cx="190.70" cy="432.20" rx="13.30" ry="14.00" fill="#a67ace"/>
<ellipse cx="191.33" cy="440.42" rx="5.88" ry="5.00" transform="rotate(85.4 191.33 440.42)" fill="#8b66ad" opacity="0.75"/>
<ellipse cx="183.98" cy="436.49" rx="4.31" ry="3.67" transform="rotate(148.7 183.98 436.49)" fill="#8b66ad" opacity="0.75"/>
<ellipse cx="184.34" cy="427.34" rx="6.01" ry="5.11" transform="rotate(216.1 184.34 427.34)" fill="#8b66ad" opacity="0.75"/>
<ellipse cx="194.07" cy="424.75" rx="5.72" ry="4.86" transform="rotate(295.4 194.07 424.75)" fill="#8b66ad" opacity="0.75"/>
<ellipse cx="198.45" cy="433.58" rx="5.77" ry="4.91" transform="rotate(369.6 198.45 433.58)" fill="#8b66ad" opacity="0.75"/>
<line x1="194.98" y1="432.56" x2="204.24" y2="433.35" stroke="#c0a1dc" stroke-width="0.45" opacity="0.6"/>
<line x1="194.75" y1="433.68" x2="203.52" y2="436.90" stroke="#c0a1dc" stroke-width="0.45" opacity="0.6"/>
<line x1="194.38" y1="434.51" x2="202.36" y2="439.50" stroke="#c0a1dc" stroke-width="0.45" opacity="0.6"/>
<line x1="193.93" y1="435.16" x2="200.92" y2="441.59" stroke="#c0a1dc" stroke-width="0.45" opacity="0.6"/>
<line x1="192.91" y1="436.06" x2="197.70" y2="444.41" stroke="#c0a1dc" stroke-width="0.45" opacity="0.6"/>
<line x1="191.40" y1="436.64" x2="192.91" y2="446.26" stroke="#c0a1dc" stroke-width="0.45" opacity="0.6"/>
<line x1="191.04" y1="436.69" x2="191.78" y2="446.41" stroke="#c0a1dc" stroke-width="0.45" opacity="0.6"/>
<line x1="189.74" y1="436.59" x2="187.66" y2="446.09" stroke="#c0a1dc" stroke-width="0.45" opacity="0.6"/>
<line x1="188.23" y1="435.88" x2="182.88" y2="443.85" stroke="#c0a1dc" stroke-width="0.45" opacity="0.6"/>
<line x1="187.70" y1="435.41" x2="181.19" y2="442.38" stroke="#c0a1dc" stroke-width="0.45" opacity="0.6"/>
<line x1="187.12" y1="434.67" x2="179.35" y2="440.03" stroke="#c0a1dc" stroke-width="0.45" opacity="0.6"/>
<line x1="186.60" y1="433.52" x2="177.72" y2="436.39" stroke="#c0a1dc" stroke-width="0.45" opacity="0.6"/>
<line x1="186.42" y1="431.83" x2="177.16" y2="431.04" stroke="#c0a1dc" stroke-width="0.45" opacity="0.6"/>
<line x1="186.52" y1="431.18" x2="177.47" y2="428.97" stroke="#c0a1dc" stroke-width="0.45" opacity="0.6"/>
<line x1="186.95" y1="430.01" x2="178.84" y2="425.26" stroke="#c0a1dc" stroke-width="0.45" opacity="0.6"/>
<line x1="187.74" y1="428.94" x2="181.34" y2="421.87" stroke="#c0a1dc" stroke-width="0.45" opacity="0.6"/>
<line x1="188.79" y1="428.17" x2="184.64" y2="419.45" stroke="#c0a1dc" stroke-width="0.45" opacity="0.6"/>
<line x1="189.58" y1="427.86" x2="187.16" y2="418.44" stroke="#c0a1dc" stroke-width="0.45" opacity="0.6"/>
<line x1="190.34" y1="427.72" x2="189.56" y2="418.00" stroke="#c0a1dc" stroke-width="0.45" opacity="0.6"/>
<line x1="191.87" y1="427.87" x2="194.41" y2="418.49" stroke="#c0a1dc" stroke-width="0.45" opacity="0.6"/>
<line x1="192.49" y1="428.11" x2="196.37" y2="419.25" stroke="#c0a1dc" stroke-width="0.45" opacity="0.6"/>
<line x1="193.48" y1="428.77" x2="199.49" y2="421.34" stroke="#c0a1dc" stroke-width="0.45" opacity="0.6"/>
<line x1="194.27" y1="429.71" x2="202.02" y2="424.32" stroke="#c0a1dc" stroke-width="0.45" opacity="0.6"/>
<line x1="194.88" y1="431.20" x2="203.95" y2="429.04" stroke="#c0a1dc" stroke-width="0.45" opacity="0.6"/>
<circle cx="188.57" cy="442.68" r="1.00" fill="#c0a1dc" opacity="0.5"/>
<circle cx="194.02" cy="435.37" r="1.65" fill="#c0a1dc" opacity="0.5"/>
<circle cx="194.61" cy="427.19" r="1.09" fill="#c0a1dc" opacity="0.5"/>
<circle cx="200.49" cy="433.04" r="1.16" fill="#c0a1dc" opacity="0.5"/>
<circle cx="197.12" cy="440.02" r="1.52" fill="#c0a1dc" opacity="0.5"/>
<circle cx="185.40" cy="434.11" r="1.57" fill="#c0a1dc" opacity="0.5"/>
<circle cx="183.18" cy="429.32" r="1.00" fill="#c0a1dc" opacity="0.5"/>
<circle cx="201.25" cy="426.89" r="1.63" fill="#c0a1dc" opacity="0.5"/>
<polyline points="190.70,432.20 196.26,429.13" fill="none" stroke="#f6f3f7" stroke-width="2.59" stroke-linecap="round"/>
<polyline points="196.26,429.13 202.09,426.63" fill="none" stroke="#f6f3f7" stroke-width="1.86" stroke-linecap="round"/>
<line x1="202.09" y1="426.63" x2="202.81" y2="424.81" stroke="#f6f3f7" stroke-width="1.35" stroke-linecap="round"/>
<line x1="202.09" y1="426.63" x2="203.91" y2="427.17" stroke="#f6f3f7" stroke-width="1.35" stroke-linecap="round"/>
<line x1="196.26" y1="429.13" x2="196.86" y2="425.00" stroke="#f6f3f7" stroke-width="1.45" stroke-linecap="round"/>
<polyline points="190.70,432.20 194.83,436.85" fill="none" stroke="#f6f3f7" stroke-width="2.59" stroke-linecap="round"/>
<polyline points="194.83,436.85 201.21,438.54" fill="none" stroke="#f6f3f7" stroke-width="1.86" stroke-linecap="round"/>
<line x1="201.21" y1="438.54" x2="203.30" y2="437.93" stroke="#f6f3f7" stroke-width="1.35" stroke-linecap="round"/>
<line x1="201.21" y1="438.54" x2="201.57" y2="440.78" stroke="#f6f3f7" stroke-width="1.35" stroke-linecap="round"/>
<line x1="194.83" y1="436.85" x2="198.74" y2="436.38" stroke="#f6f3f7" stroke-width="1.45" stroke-linecap="round"/>
<polyline points="190.70,432.20 187.27,437.58" fill="none" stroke="#f6f3f7" stroke-width="2.59" stroke-linecap="round"/>
<polyline points="187.27,437.58 183.49,442.70" fill="none" stroke="#f6f3f7" stroke-width="1.86" stroke-linecap="round"/>
<line x1="183.49" y1="442.70" x2="183.29" y2="445.36" stroke="#f6f3f7" stroke-width="1.35" stroke-linecap="round"/>
<line x1="183.49" y1="442.70" x2="181.08" y2="443.52" stroke="#f6f3f7" stroke-width="1.35" stroke-linecap="round"/>
<polyline points="190.70,432.20 184.53,432.93" fill="none" stroke="#f6f3f7" stroke-width="2.59" stroke-linecap="round"/>
<polyline points="184.53,432.93 178.31,431.46" fill="none" stroke="#f6f3f7" stroke-width="1.86" stroke-linecap="round"/>
<line x1="178.31" y1="431.46" x2="175.85" y2="432.94" stroke="#f6f3f7" stroke-width="1.35" stroke-linecap="round"/>
<line x1="178.31" y1="431.46" x2="176.26" y2="429.40" stroke="#f6f3f7" stroke-width="1.35" stroke-linecap="round"/>
<polyline points="190.70,432.20 189.78,427.47" fill="none" stroke="#f6f3f7" stroke-width="2.59" stroke-linecap="round"/>
<polyline points="189.78,427.47 191.21,422.56" fill="none" stroke="#f6f3f7" stroke-width="1.86" stroke-linecap="round"/>
<line x1="191.21" y1="422.56" x2="189.05" y2="420.37" stroke="#f6f3f7" stroke-width="1.35" stroke-linecap="round"/>
<line x1="191.21" y1="422.56" x2="193.56" y2="420.61" stroke="#f6f3f7" stroke-width="1.35" stroke-linecap="round"/>
<line x1="189.78" y1="427.47" x2="187.28" y2="425.61" stroke="#f6f3f7" stroke-width="1.45" stroke-linecap="round"/>
<circle cx="190.70" cy="432.20" r="2.20" fill="#f6f3f7"/>
<rect x="203.40" y="448.30" width="3.6" height="1.4" fill="#555" opacity="0.75"/>
<rect x="209.90" y="412.40" width="38.30" height="40.10" fill="#8a8a8a" stroke="none" stroke-width="0"/>
<rect x="210.40" y="412.90" width="37.30" height="39.10" fill="#e6e7e4" stroke="none" stroke-width="0"/>
<ellipse cx="229.30" cy="432.00" rx="18.50" ry="19.10" fill="#e9afda"/>
<ellipse cx="229.30" cy="432.00" rx="17.70" ry="18.30" fill="none" stroke="#eec3e3" stroke-width="0.9" opacity="0.8"/>
<ellipse cx="230.80" cy="432.00" rx="12.50" ry="13.10" fill="#c5a7dc"/>
<ellipse cx="230.80" cy="432.00" rx="11.50" ry="12.10" fill="#ad82ce"/>
<ellipse cx="228.46" cy="438.77" rx="5.25" ry="4.46" transform="rotate(109.9 228.46 438.77)" fill="#916dad" opacity="0.75"/>
<ellipse cx="224.20" cy="429.98" rx="5.25" ry="4.46" transform="rotate(196.3 224.20 429.98)" fill="#916dad" opacity="0.75"/>
<ellipse cx="231.89" cy="424.89" rx="5.25" ry="4.46" transform="rotate(279.1 231.89 424.89)" fill="#916dad" opacity="0.75"/>
<ellipse cx="237.51" cy="433.59" rx="5.25" ry="4.46" transform="rotate(372.7 237.51 433.59)" fill="#916dad" opacity="0.75"/>
<line x1="234.54" y1="432.23" x2="242.65" y2="432.73" stroke="#c5a7dc" stroke-width="0.45" opacity="0.6"/>
<line x1="234.36" y1="433.25" x2="242.06" y2="435.95" stroke="#c5a7dc" stroke-width="0.45" opacity="0.6"/>
<line x1="234.04" y1="433.97" x2="241.07" y2="438.25" stroke="#c5a7dc" stroke-width="0.45" opacity="0.6"/>
<line x1="233.45" y1="434.78" x2="239.19" y2="440.81" stroke="#c5a7dc" stroke-width="0.45" opacity="0.6"/>
<line x1="232.84" y1="435.29" x2="237.27" y2="442.43" stroke="#c5a7dc" stroke-width="0.45" opacity="0.6"/>
<line x1="232.13" y1="435.68" x2="235.00" y2="443.64" stroke="#c5a7dc" stroke-width="0.45" opacity="0.6"/>
<line x1="230.90" y1="435.93" x2="231.11" y2="444.44" stroke="#c5a7dc" stroke-width="0.45" opacity="0.6"/>
<line x1="229.77" y1="435.78" x2="227.53" y2="443.96" stroke="#c5a7dc" stroke-width="0.45" opacity="0.6"/>
<line x1="229.21" y1="435.56" x2="225.77" y2="443.27" stroke="#c5a7dc" stroke-width="0.45" opacity="0.6"/>
<line x1="228.00" y1="434.61" x2="221.93" y2="440.27" stroke="#c5a7dc" stroke-width="0.45" opacity="0.6"/>
<line x1="227.66" y1="434.14" x2="220.85" y2="438.79" stroke="#c5a7dc" stroke-width="0.45" opacity="0.6"/>
<line x1="227.23" y1="433.22" x2="219.51" y2="435.86" stroke="#c5a7dc" stroke-width="0.45" opacity="0.6"/>
<line x1="227.07" y1="432.36" x2="218.97" y2="433.14" stroke="#c5a7dc" stroke-width="0.45" opacity="0.6"/>
<line x1="227.29" y1="430.61" x2="219.69" y2="427.60" stroke="#c5a7dc" stroke-width="0.45" opacity="0.6"/>
<line x1="227.65" y1="429.88" x2="220.81" y2="425.27" stroke="#c5a7dc" stroke-width="0.45" opacity="0.6"/>
<line x1="228.35" y1="429.02" x2="223.05" y2="422.57" stroke="#c5a7dc" stroke-width="0.45" opacity="0.6"/>
<line x1="229.00" y1="428.55" x2="225.10" y2="421.08" stroke="#c5a7dc" stroke-width="0.45" opacity="0.6"/>
<line x1="229.50" y1="428.32" x2="226.67" y2="420.33" stroke="#c5a7dc" stroke-width="0.45" opacity="0.6"/>
<line x1="230.67" y1="428.07" x2="230.39" y2="419.56" stroke="#c5a7dc" stroke-width="0.45" opacity="0.6"/>
<line x1="231.77" y1="428.20" x2="233.87" y2="419.98" stroke="#c5a7dc" stroke-width="0.45" opacity="0.6"/>
<line x1="232.42" y1="428.46" x2="235.93" y2="420.78" stroke="#c5a7dc" stroke-width="0.45" opacity="0.6"/>
<line x1="233.68" y1="429.48" x2="239.92" y2="424.03" stroke="#c5a7dc" stroke-width="0.45" opacity="0.6"/>
<line x1="234.00" y1="429.95" x2="240.92" y2="425.49" stroke="#c5a7dc" stroke-width="0.45" opacity="0.6"/>
<line x1="234.35" y1="430.72" x2="242.03" y2="427.96" stroke="#c5a7dc" stroke-width="0.45" opacity="0.6"/>
<circle cx="232.73" cy="427.52" r="1.91" fill="#c5a7dc" opacity="0.5"/>
<circle cx="223.25" cy="434.40" r="1.21" fill="#c5a7dc" opacity="0.5"/>
<circle cx="225.67" cy="432.52" r="0.84" fill="#c5a7dc" opacity="0.5"/>
<circle cx="234.47" cy="427.69" r="1.74" fill="#c5a7dc" opacity="0.5"/>
<circle cx="233.64" cy="443.16" r="1.87" fill="#c5a7dc" opacity="0.5"/>
<circle cx="231.08" cy="422.08" r="1.50" fill="#c5a7dc" opacity="0.5"/>
<circle cx="230.21" cy="427.15" r="1.37" fill="#c5a7dc" opacity="0.5"/>
<circle cx="233.25" cy="427.12" r="1.91" fill="#c5a7dc" opacity="0.5"/>
<polyline points="230.80,432.00 232.97,437.07" fill="none" stroke="#f6f3f7" stroke-width="2.16" stroke-linecap="round"/>
<polyline points="232.97,437.07 235.65,441.88" fill="none" stroke="#f6f3f7" stroke-width="1.55" stroke-linecap="round"/>
<line x1="235.65" y1="441.88" x2="237.52" y2="442.81" stroke="#f6f3f7" stroke-width="1.12" stroke-linecap="round"/>
<line x1="235.65" y1="441.88" x2="234.81" y2="443.86" stroke="#f6f3f7" stroke-width="1.12" stroke-linecap="round"/>
<line x1="232.97" y1="437.07" x2="236.32" y2="437.84" stroke="#f6f3f7" stroke-width="1.21" stroke-linecap="round"/>
<polyline points="230.80,432.00 226.30,434.30" fill="none" stroke="#f6f3f7" stroke-width="2.16" stroke-linecap="round"/>
<polyline points="226.30,434.30 220.93,433.72" fill="none" stroke="#f6f3f7" stroke-width="1.55" stroke-linecap="round"/>
<line x1="220.93" y1="433.72" x2="219.95" y2="435.03" stroke="#f6f3f7" stroke-width="1.12" stroke-linecap="round"/>
<line x1="220.93" y1="433.72" x2="219.57" y2="432.86" stroke="#f6f3f7" stroke-width="1.12" stroke-linecap="round"/>
<line x1="226.30" y1="434.30" x2="222.63" y2="432.81" stroke="#f6f3f7" stroke-width="1.21" stroke-linecap="round"/>
<polyline points="230.80,432.00 228.68,428.36" fill="none" stroke="#f6f3f7" stroke-width="2.16" stroke-linecap="round"/>
<polyline points="228.68,428.36 225.28,425.74" fill="none" stroke="#f6f3f7" stroke-width="1.55" stroke-linecap="round"/>
<line x1="225.28" y1="425.74" x2="222.67" y2="425.22" stroke="#f6f3f7" stroke-width="1.12" stroke-linecap="round"/>
<line x1="225.28" y1="425.74" x2="225.27" y2="422.95" stroke="#f6f3f7" stroke-width="1.12" stroke-linecap="round"/>
<line x1="228.68" y1="428.36" x2="225.34" y2="427.06" stroke="#f6f3f7" stroke-width="1.21" stroke-linecap="round"/>
<polyline points="230.80,432.00 233.89,429.24" fill="none" stroke="#f6f3f7" stroke-width="2.16" stroke-linecap="round"/>
<polyline points="233.89,429.24 236.74,426.22" fill="none" stroke="#f6f3f7" stroke-width="1.55" stroke-linecap="round"/>
<line x1="236.74" y1="426.22" x2="236.92" y2="424.61" stroke="#f6f3f7" stroke-width="1.12" stroke-linecap="round"/>
<line x1="236.74" y1="426.22" x2="238.29" y2="426.24" stroke="#f6f3f7" stroke-width="1.12" stroke-linecap="round"/>
<line x1="233.89" y1="429.24" x2="233.51" y2="425.97" stroke="#f6f3f7" stroke-width="1.21" stroke-linecap="round"/>
<circle cx="230.80" cy="432.00" r="2.20" fill="#f6f3f7"/>
<rect x="241.70" y="448.30" width="3.6" height="1.4" fill="#555" opacity="0.75"/>
<rect x="248.20" y="412.40" width="38.30" height="40.10" fill="#8a8a8a" stroke="none" stroke-width="0"/>
<rect x="248.70" y="412.90" width="37.30" height="39.10" fill="#e6e7e4" stroke="none" stroke-width="0"/>
<ellipse cx="267.40" cy="432.20" rx="18.20" ry="18.80" fill="#d252b4"/>
<ellipse cx="267.40" cy="432.20" rx="17.40" ry="18.00" fill="none" stroke="#dd7dc6" stroke-width="0.9" opacity="0.8"/>
<ellipse cx="267.40" cy="432.20" rx="13.70" ry="14.30" fill="#ac86c9"/>
<ellipse cx="267.40" cy="432.20" rx="12.70" ry="13.30" fill="#8953b2"/>
<ellipse cx="266.98" cy="440.05" rx="5.75" ry="4.89" transform="rotate(93.2 266.98 440.05)" fill="#734595" opacity="0.75"/>
<ellipse cx="260.03" cy="433.84" rx="3.82" ry="3.25" transform="rotate(167.9 260.03 433.84)" fill="#734595" opacity="0.75"/>
<ellipse cx="262.06" cy="426.65" rx="5.31" ry="4.51" transform="rotate(224.8 262.06 426.65)" fill="#734595" opacity="0.75"/>
<ellipse cx="270.71" cy="425.14" rx="5.46" ry="4.65" transform="rotate(296.1 270.71 425.14)" fill="#734595" opacity="0.75"/>
<ellipse cx="274.89" cy="433.08" rx="5.21" ry="4.43" transform="rotate(366.4 274.89 433.08)" fill="#734595" opacity="0.75"/>
<line x1="271.51" y1="432.33" x2="280.41" y2="432.61" stroke="#ac86c9" stroke-width="0.45" opacity="0.6"/>
<line x1="271.40" y1="433.18" x2="280.07" y2="435.31" stroke="#ac86c9" stroke-width="0.45" opacity="0.6"/>
<line x1="270.79" y1="434.63" x2="278.13" y2="439.89" stroke="#ac86c9" stroke-width="0.45" opacity="0.6"/>
<line x1="270.46" y1="435.07" x2="277.08" y2="441.28" stroke="#ac86c9" stroke-width="0.45" opacity="0.6"/>
<line x1="269.12" y1="436.10" x2="272.85" y2="444.54" stroke="#ac86c9" stroke-width="0.45" opacity="0.6"/>
<line x1="268.61" y1="436.30" x2="271.22" y2="445.19" stroke="#ac86c9" stroke-width="0.45" opacity="0.6"/>
<line x1="267.32" y1="436.49" x2="267.14" y2="445.78" stroke="#ac86c9" stroke-width="0.45" opacity="0.6"/>
<line x1="266.00" y1="436.23" x2="262.96" y2="444.97" stroke="#ac86c9" stroke-width="0.45" opacity="0.6"/>
<line x1="265.21" y1="435.83" x2="260.48" y2="443.71" stroke="#ac86c9" stroke-width="0.45" opacity="0.6"/>
<line x1="264.26" y1="434.97" x2="257.45" y2="440.96" stroke="#ac86c9" stroke-width="0.45" opacity="0.6"/>
<line x1="263.76" y1="434.19" x2="255.87" y2="438.50" stroke="#ac86c9" stroke-width="0.45" opacity="0.6"/>
<line x1="263.54" y1="433.68" x2="255.18" y2="436.89" stroke="#ac86c9" stroke-width="0.45" opacity="0.6"/>
<line x1="263.30" y1="431.87" x2="254.42" y2="431.17" stroke="#ac86c9" stroke-width="0.45" opacity="0.6"/>
<line x1="263.45" y1="431.02" x2="254.89" y2="428.45" stroke="#ac86c9" stroke-width="0.45" opacity="0.6"/>
<line x1="263.77" y1="430.20" x2="255.89" y2="425.86" stroke="#ac86c9" stroke-width="0.45" opacity="0.6"/>
<line x1="264.32" y1="429.36" x2="257.64" y2="423.21" stroke="#ac86c9" stroke-width="0.45" opacity="0.6"/>
<line x1="265.60" y1="428.34" x2="261.69" y2="419.99" stroke="#ac86c9" stroke-width="0.45" opacity="0.6"/>
<line x1="266.40" y1="428.04" x2="264.24" y2="419.02" stroke="#ac86c9" stroke-width="0.45" opacity="0.6"/>
<line x1="267.76" y1="427.93" x2="268.54" y2="418.67" stroke="#ac86c9" stroke-width="0.45" opacity="0.6"/>
<line x1="268.68" y1="428.12" x2="271.45" y2="419.29" stroke="#ac86c9" stroke-width="0.45" opacity="0.6"/>
<line x1="269.77" y1="428.70" x2="274.92" y2="421.11" stroke="#ac86c9" stroke-width="0.45" opacity="0.6"/>
<line x1="270.34" y1="429.21" x2="276.72" y2="422.72" stroke="#ac86c9" stroke-width="0.45" opacity="0.6"/>
<line x1="271.04" y1="430.20" x2="278.92" y2="425.88" stroke="#ac86c9" stroke-width="0.45" opacity="0.6"/>
<line x1="271.39" y1="431.18" x2="280.04" y2="428.98" stroke="#ac86c9" stroke-width="0.45" opacity="0.6"/>
<circle cx="266.77" cy="444.68" r="1.17" fill="#ac86c9" opacity="0.5"/>
<circle cx="269.72" cy="419.96" r="1.58" fill="#ac86c9" opacity="0.5"/>
<circle cx="274.23" cy="441.06" r="1.60" fill="#ac86c9" opacity="0.5"/>
<circle cx="269.19" cy="436.52" r="1.44" fill="#ac86c9" opacity="0.5"/>
<circle cx="278.87" cy="434.66" r="1.41" fill="#ac86c9" opacity="0.5"/>
<circle cx="259.97" cy="431.35" r="1.59" fill="#ac86c9" opacity="0.5"/>
<circle cx="273.14" cy="428.73" r="1.25" fill="#ac86c9" opacity="0.5"/>
<circle cx="261.71" cy="428.81" r="1.51" fill="#ac86c9" opacity="0.5"/>
<polyline points="267.40,432.20 271.97,429.71" fill="none" stroke="#f6f3f7" stroke-width="1.72" stroke-linecap="round"/>
<polyline points="271.97,429.71 276.33,426.84" fill="none" stroke="#f6f3f7" stroke-width="1.24" stroke-linecap="round"/>
<line x1="276.33" y1="426.84" x2="277.50" y2="424.69" stroke="#f6f3f7" stroke-width="0.90" stroke-linecap="round"/>
<line x1="276.33" y1="426.84" x2="278.54" y2="427.75" stroke="#f6f3f7" stroke-width="0.90" stroke-linecap="round"/>
<line x1="271.97" y1="429.71" x2="274.86" y2="431.10" stroke="#f6f3f7" stroke-width="0.97" stroke-linecap="round"/>
<polyline points="267.40,432.20 271.76,436.07" fill="none" stroke="#f6f3f7" stroke-width="1.72" stroke-linecap="round"/>
<polyline points="271.76,436.07 277.31,438.17" fill="none" stroke="#f6f3f7" stroke-width="1.24" stroke-linecap="round"/>
<line x1="277.31" y1="438.17" x2="278.95" y2="437.90" stroke="#f6f3f7" stroke-width="0.90" stroke-linecap="round"/>
<line x1="277.31" y1="438.17" x2="278.06" y2="439.71" stroke="#f6f3f7" stroke-width="0.90" stroke-linecap="round"/>
<line x1="271.76" y1="436.07" x2="272.26" y2="440.21" stroke="#f6f3f7" stroke-width="0.97" stroke-linecap="round"/>
<polyline points="267.40,432.20 263.43,435.00" fill="none" stroke="#f6f3f7" stroke-width="1.72" stroke-linecap="round"/>
<polyline points="263.43,435.00 260.58,439.24" fill="none" stroke="#f6f3f7" stroke-width="1.24" stroke-linecap="round"/>
<line x1="260.58" y1="439.24" x2="260.65" y2="441.72" stroke="#f6f3f7" stroke-width="0.90" stroke-linecap="round"/>
<line x1="260.58" y1="439.24" x2="258.21" y2="439.29" stroke="#f6f3f7" stroke-width="0.90" stroke-linecap="round"/>
<line x1="263.43" y1="435.00" x2="262.22" y2="438.40" stroke="#f6f3f7" stroke-width="0.97" stroke-linecap="round"/>
<polyline points="267.40,432.20 261.79,431.18" fill="none" stroke="#f6f3f7" stroke-width="1.72" stroke-linecap="round"/>
<polyline points="261.79,431.18 257.02,427.29" fill="none" stroke="#f6f3f7" stroke-width="1.24" stroke-linecap="round"/>
<line x1="257.02" y1="427.29" x2="254.32" y2="428.08" stroke="#f6f3f7" stroke-width="0.90" stroke-linecap="round"/>
<line x1="257.02" y1="427.29" x2="255.84" y2="424.63" stroke="#f6f3f7" stroke-width="0.90" stroke-linecap="round"/>
<line x1="261.79" y1="431.18" x2="259.77" y2="428.15" stroke="#f6f3f7" stroke-width="0.97" stroke-linecap="round"/>
<polyline points="267.40,432.20 266.42,426.57" fill="none" stroke="#f6f3f7" stroke-width="1.72" stroke-linecap="round"/>
<polyline points="266.42,426.57 268.42,420.81" fill="none" stroke="#f6f3f7" stroke-width="1.24" stroke-linecap="round"/>
<line x1="268.42" y1="420.81" x2="267.08" y2="418.31" stroke="#f6f3f7" stroke-width="0.90" stroke-linecap="round"/>
<line x1="268.42" y1="420.81" x2="270.07" y2="418.51" stroke="#f6f3f7" stroke-width="0.90" stroke-linecap="round"/>
<line x1="266.42" y1="426.57" x2="268.83" y2="423.44" stroke="#f6f3f7" stroke-width="0.97" stroke-linecap="round"/>
<circle cx="267.40" cy="432.20" r="2.20" fill="#f6f3f7"/>
<rect x="280.00" y="448.30" width="3.6" height="1.4" fill="#555" opacity="0.75"/>
<rect x="286.50" y="412.40" width="38.30" height="40.10" fill="#8a8a8a" stroke="none" stroke-width="0"/>
<rect x="287.00" y="412.90" width="37.30" height="39.10" fill="#e6e7e4" stroke="none" stroke-width="0"/>
<ellipse cx="305.80" cy="432.00" rx="18.00" ry="18.50" fill="#d65ebc"/>
<ellipse cx="305.80" cy="432.00" rx="17.20" ry="17.70" fill="none" stroke="#e086cc" stroke-width="0.9" opacity="0.8"/>
<ellipse cx="305.80" cy="432.00" rx="15.60" ry="16.10" fill="#a285c7"/>
<ellipse cx="305.80" cy="432.00" rx="14.60" ry="15.10" fill="#7b51b0"/>
<ellipse cx="298.59" cy="427.20" rx="6.55" ry="5.57" transform="rotate(212.8 298.59 427.20)" fill="#674493" opacity="0.75"/>
<ellipse cx="313.01" cy="436.80" rx="6.55" ry="5.57" transform="rotate(392.8 313.01 436.80)" fill="#674493" opacity="0.75"/>
<line x1="310.46" y1="431.60" x2="320.57" y2="430.73" stroke="#a285c7" stroke-width="0.45" opacity="0.6"/>
<line x1="310.30" y1="433.34" x2="320.04" y2="436.23" stroke="#a285c7" stroke-width="0.45" opacity="0.6"/>
<line x1="309.89" y1="434.35" x2="318.75" y2="439.44" stroke="#a285c7" stroke-width="0.45" opacity="0.6"/>
<line x1="309.09" y1="435.44" x2="316.22" y2="442.88" stroke="#a285c7" stroke-width="0.45" opacity="0.6"/>
<line x1="308.43" y1="435.99" x2="314.14" y2="444.64" stroke="#a285c7" stroke-width="0.45" opacity="0.6"/>
<line x1="307.29" y1="436.58" x2="310.51" y2="446.50" stroke="#a285c7" stroke-width="0.45" opacity="0.6"/>
<line x1="305.85" y1="436.83" x2="305.96" y2="447.29" stroke="#a285c7" stroke-width="0.45" opacity="0.6"/>
<line x1="304.84" y1="436.73" x2="302.77" y2="446.97" stroke="#a285c7" stroke-width="0.45" opacity="0.6"/>
<line x1="303.50" y1="436.20" x2="298.51" y2="445.31" stroke="#a285c7" stroke-width="0.45" opacity="0.6"/>
<line x1="302.82" y1="435.72" x2="296.36" y2="443.79" stroke="#a285c7" stroke-width="0.45" opacity="0.6"/>
<line x1="301.95" y1="434.75" x2="293.62" y2="440.72" stroke="#a285c7" stroke-width="0.45" opacity="0.6"/>
<line x1="301.23" y1="433.05" x2="291.34" y2="435.34" stroke="#a285c7" stroke-width="0.45" opacity="0.6"/>
<line x1="301.12" y1="432.08" x2="290.98" y2="432.24" stroke="#a285c7" stroke-width="0.45" opacity="0.6"/>
<line x1="301.28" y1="430.74" x2="291.49" y2="428.01" stroke="#a285c7" stroke-width="0.45" opacity="0.6"/>
<line x1="301.86" y1="429.39" x2="293.33" y2="423.74" stroke="#a285c7" stroke-width="0.45" opacity="0.6"/>
<line x1="302.40" y1="428.68" x2="295.03" y2="421.50" stroke="#a285c7" stroke-width="0.45" opacity="0.6"/>
<line x1="303.11" y1="428.05" x2="297.28" y2="419.48" stroke="#a285c7" stroke-width="0.45" opacity="0.6"/>
<line x1="304.85" y1="427.27" x2="302.78" y2="417.03" stroke="#a285c7" stroke-width="0.45" opacity="0.6"/>
<line x1="305.88" y1="427.17" x2="306.06" y2="416.71" stroke="#a285c7" stroke-width="0.45" opacity="0.6"/>
<line x1="307.15" y1="427.38" x2="310.08" y2="417.36" stroke="#a285c7" stroke-width="0.45" opacity="0.6"/>
<line x1="308.24" y1="427.88" x2="313.52" y2="418.94" stroke="#a285c7" stroke-width="0.45" opacity="0.6"/>
<line x1="309.41" y1="428.92" x2="317.22" y2="422.25" stroke="#a285c7" stroke-width="0.45" opacity="0.6"/>
<line x1="309.79" y1="429.47" x2="318.43" y2="423.99" stroke="#a285c7" stroke-width="0.45" opacity="0.6"/>
<line x1="310.38" y1="430.99" x2="320.29" y2="428.81" stroke="#a285c7" stroke-width="0.45" opacity="0.6"/>
<circle cx="298.99" cy="439.61" r="1.59" fill="#a285c7" opacity="0.5"/>
<circle cx="303.64" cy="437.20" r="1.37" fill="#a285c7" opacity="0.5"/>
<circle cx="303.75" cy="421.68" r="1.34" fill="#a285c7" opacity="0.5"/>
<circle cx="301.80" cy="426.86" r="1.01" fill="#a285c7" opacity="0.5"/>
<circle cx="300.32" cy="443.38" r="1.03" fill="#a285c7" opacity="0.5"/>
<circle cx="310.02" cy="435.80" r="0.85" fill="#a285c7" opacity="0.5"/>
<circle cx="304.19" cy="442.23" r="1.78" fill="#a285c7" opacity="0.5"/>
<circle cx="301.84" cy="439.34" r="1.15" fill="#a285c7" opacity="0.5"/>
<polyline points="305.80,432.00 308.60,427.68" fill="none" stroke="#f6f3f7" stroke-width="2.44" stroke-linecap="round"/>
<polyline points="308.60,427.68 312.71,424.44" fill="none" stroke="#f6f3f7" stroke-width="1.76" stroke-linecap="round"/>
<line x1="312.71" y1="424.44" x2="313.20" y2="422.14" stroke="#f6f3f7" stroke-width="1.27" stroke-linecap="round"/>
<line x1="312.71" y1="424.44" x2="314.99" y2="424.44" stroke="#f6f3f7" stroke-width="1.27" stroke-linecap="round"/>
<polyline points="305.80,432.00 302.82,436.95" fill="none" stroke="#f6f3f7" stroke-width="2.44" stroke-linecap="round"/>
<polyline points="302.82,436.95 301.41,442.75" fill="none" stroke="#f6f3f7" stroke-width="1.76" stroke-linecap="round"/>
<line x1="301.41" y1="442.75" x2="302.51" y2="445.96" stroke="#f6f3f7" stroke-width="1.27" stroke-linecap="round"/>
<line x1="301.41" y1="442.75" x2="298.25" y2="443.73" stroke="#f6f3f7" stroke-width="1.27" stroke-linecap="round"/>
<line x1="302.82" y1="436.95" x2="303.09" y2="441.17" stroke="#f6f3f7" stroke-width="1.37" stroke-linecap="round"/>
<circle cx="305.80" cy="432.00" r="2.20" fill="#f6f3f7"/>
<rect x="318.30" y="448.30" width="3.6" height="1.4" fill="#555" opacity="0.75"/>
<rect x="324.80" y="412.40" width="38.30" height="40.10" fill="#8a8a8a" stroke="none" stroke-width="0"/>
<rect x="325.30" y="412.90" width="37.30" height="39.10" fill="#e6e7e4" stroke="none" stroke-width="0"/>
<ellipse cx="343.90" cy="432.30" rx="17.80" ry="18.80" fill="#dec5e1"/>
<ellipse cx="343.90" cy="432.30" rx="17.00" ry="18.00" fill="none" stroke="#e6d3e8" stroke-width="0.9" opacity="0.8"/>
<ellipse cx="343.90" cy="432.30" rx="14.80" ry="15.80" fill="#a29ad2"/>
<ellipse cx="343.90" cy="432.30" rx="13.80" ry="14.80" fill="#7b6fc0"/>
<ellipse cx="345.37" cy="440.85" rx="4.07" ry="3.46" transform="rotate(79.6 345.37 440.85)" fill="#675da1" opacity="0.75"/>
<ellipse cx="337.15" cy="437.16" rx="6.22" ry="5.28" transform="rotate(146.0 337.15 437.16)" fill="#675da1" opacity="0.75"/>
<ellipse cx="338.57" cy="425.73" rx="6.11" ry="5.20" transform="rotate(229.1 338.57 425.73)" fill="#675da1" opacity="0.75"/>
<ellipse cx="347.04" cy="424.28" rx="4.40" ry="3.74" transform="rotate(292.7 347.04 424.28)" fill="#675da1" opacity="0.75"/>
<ellipse cx="351.97" cy="433.42" rx="6.22" ry="5.28" transform="rotate(367.4 351.97 433.42)" fill="#675da1" opacity="0.75"/>
<line x1="348.33" y1="431.91" x2="357.91" y2="431.08" stroke="#a29ad2" stroke-width="0.45" opacity="0.6"/>
<line x1="348.12" y1="433.76" x2="357.28" y2="436.93" stroke="#a29ad2" stroke-width="0.45" opacity="0.6"/>
<line x1="347.89" y1="434.38" x2="356.54" y2="438.88" stroke="#a29ad2" stroke-width="0.45" opacity="0.6"/>
<line x1="346.91" y1="435.79" x2="353.42" y2="443.34" stroke="#a29ad2" stroke-width="0.45" opacity="0.6"/>
<line x1="345.95" y1="436.51" x2="350.38" y2="445.62" stroke="#a29ad2" stroke-width="0.45" opacity="0.6"/>
<line x1="344.82" y1="436.94" x2="346.81" y2="446.98" stroke="#a29ad2" stroke-width="0.45" opacity="0.6"/>
<line x1="343.95" y1="437.04" x2="344.07" y2="447.31" stroke="#a29ad2" stroke-width="0.45" opacity="0.6"/>
<line x1="342.44" y1="436.78" x2="339.28" y2="446.48" stroke="#a29ad2" stroke-width="0.45" opacity="0.6"/>
<line x1="341.32" y1="436.15" x2="335.72" y2="444.51" stroke="#a29ad2" stroke-width="0.45" opacity="0.6"/>
<line x1="341.01" y1="435.90" x2="334.75" y2="443.70" stroke="#a29ad2" stroke-width="0.45" opacity="0.6"/>
<line x1="340.05" y1="434.66" x2="331.70" y2="439.76" stroke="#a29ad2" stroke-width="0.45" opacity="0.6"/>
<line x1="339.52" y1="433.10" x2="330.04" y2="434.84" stroke="#a29ad2" stroke-width="0.45" opacity="0.6"/>
<line x1="339.47" y1="432.07" x2="329.86" y2="431.58" stroke="#a29ad2" stroke-width="0.45" opacity="0.6"/>
<line x1="339.60" y1="431.12" x2="330.28" y2="428.58" stroke="#a29ad2" stroke-width="0.45" opacity="0.6"/>
<line x1="339.97" y1="430.09" x2="331.46" y2="425.31" stroke="#a29ad2" stroke-width="0.45" opacity="0.6"/>
<line x1="341.06" y1="428.66" x2="334.90" y2="420.77" stroke="#a29ad2" stroke-width="0.45" opacity="0.6"/>
<line x1="341.37" y1="428.41" x2="335.88" y2="419.97" stroke="#a29ad2" stroke-width="0.45" opacity="0.6"/>
<line x1="342.98" y1="427.66" x2="340.97" y2="417.62" stroke="#a29ad2" stroke-width="0.45" opacity="0.6"/>
<line x1="344.20" y1="427.57" x2="344.86" y2="417.33" stroke="#a29ad2" stroke-width="0.45" opacity="0.6"/>
<line x1="344.75" y1="427.65" x2="346.60" y2="417.57" stroke="#a29ad2" stroke-width="0.45" opacity="0.6"/>
<line x1="345.98" y1="428.12" x2="350.50" y2="419.05" stroke="#a29ad2" stroke-width="0.45" opacity="0.6"/>
<line x1="346.91" y1="428.82" x2="353.45" y2="421.28" stroke="#a29ad2" stroke-width="0.45" opacity="0.6"/>
<line x1="347.76" y1="429.96" x2="356.13" y2="424.90" stroke="#a29ad2" stroke-width="0.45" opacity="0.6"/>
<line x1="348.16" y1="430.95" x2="357.38" y2="428.03" stroke="#a29ad2" stroke-width="0.45" opacity="0.6"/>
<circle cx="353.83" cy="423.93" r="1.18" fill="#a29ad2" opacity="0.5"/>
<circle cx="347.89" cy="428.98" r="0.92" fill="#a29ad2" opacity="0.5"/>
<circle cx="338.03" cy="421.70" r="1.78" fill="#a29ad2" opacity="0.5"/>
<circle cx="355.96" cy="431.65" r="1.12" fill="#a29ad2" opacity="0.5"/>
<circle cx="343.32" cy="418.81" r="0.91" fill="#a29ad2" opacity="0.5"/>
<circle cx="338.09" cy="432.52" r="0.97" fill="#a29ad2" opacity="0.5"/>
<circle cx="333.59" cy="433.72" r="1.97" fill="#a29ad2" opacity="0.5"/>
<circle cx="349.96" cy="439.30" r="2.00" fill="#a29ad2" opacity="0.5"/>
<polyline points="343.90,432.30 343.69,425.87" fill="none" stroke="#f6f3f7" stroke-width="2.59" stroke-linecap="round"/>
<polyline points="343.69,425.87 343.71,419.44" fill="none" stroke="#f6f3f7" stroke-width="1.86" stroke-linecap="round"/>
<line x1="343.71" y1="419.44" x2="342.14" y2="417.08" stroke="#f6f3f7" stroke-width="1.35" stroke-linecap="round"/>
<line x1="343.71" y1="419.44" x2="345.54" y2="417.30" stroke="#f6f3f7" stroke-width="1.35" stroke-linecap="round"/>
<polyline points="343.90,432.30 347.77,428.51" fill="none" stroke="#f6f3f7" stroke-width="2.59" stroke-linecap="round"/>
<polyline points="347.77,428.51 352.76,426.28" fill="none" stroke="#f6f3f7" stroke-width="1.86" stroke-linecap="round"/>
<line x1="352.76" y1="426.28" x2="353.18" y2="423.68" stroke="#f6f3f7" stroke-width="1.35" stroke-linecap="round"/>
<line x1="352.76" y1="426.28" x2="355.23" y2="426.37" stroke="#f6f3f7" stroke-width="1.35" stroke-linecap="round"/>
<line x1="347.77" y1="428.51" x2="352.31" y2="428.47" stroke="#f6f3f7" stroke-width="1.45" stroke-linecap="round"/>
<polyline points="343.90,432.30 347.30,437.98" fill="none" stroke="#f6f3f7" stroke-width="2.59" stroke-linecap="round"/>
<polyline points="347.30,437.98 353.37,441.22" fill="none" stroke="#f6f3f7" stroke-width="1.86" stroke-linecap="round"/>
<polyline points="343.90,432.30 342.81,437.89" fill="none" stroke="#f6f3f7" stroke-width="2.59" stroke-linecap="round"/>
<polyline points="342.81,437.89 339.95,442.92" fill="none" stroke="#f6f3f7" stroke-width="1.86" stroke-linecap="round"/>
<line x1="339.95" y1="442.92" x2="340.43" y2="444.88" stroke="#f6f3f7" stroke-width="1.35" stroke-linecap="round"/>
<line x1="339.95" y1="442.92" x2="338.32" y2="443.94" stroke="#f6f3f7" stroke-width="1.35" stroke-linecap="round"/>
<line x1="342.81" y1="437.89" x2="339.48" y2="439.99" stroke="#f6f3f7" stroke-width="1.45" stroke-linecap="round"/>
<polyline points="343.90,432.30 338.72,431.31" fill="none" stroke="#f6f3f7" stroke-width="2.59" stroke-linecap="round"/>
<polyline points="338.72,431.31 333.38,432.19" fill="none" stroke="#f6f3f7" stroke-width="1.86" stroke-linecap="round"/>
<line x1="333.38" y1="432.19" x2="331.58" y2="433.57" stroke="#f6f3f7" stroke-width="1.35" stroke-linecap="round"/>
<line x1="333.38" y1="432.19" x2="331.96" y2="430.38" stroke="#f6f3f7" stroke-width="1.35" stroke-linecap="round"/>
<circle cx="343.90" cy="432.30" r="2.20" fill="#f6f3f7"/>
<rect x="356.60" y="448.30" width="3.6" height="1.4" fill="#555" opacity="0.75"/>
<rect x="95.00" y="452.50" width="38.30" height="40.10" fill="#8a8a8a" stroke="none" stroke-width="0"/>
<rect x="95.50" y="453.00" width="37.30" height="39.10" fill="#e6e7e4" stroke="none" stroke-width="0"/>
<ellipse cx="113.70" cy="472.10" rx="17.80" ry="18.70" fill="#e1a7da"/>
<ellipse cx="113.70" cy="472.10" rx="17.00" ry="17.90" fill="none" stroke="#e8bde3" stroke-width="0.9" opacity="0.8"/>
<ellipse cx="113.70" cy="472.10" rx="14.80" ry="15.70" fill="#b09dd7"/>
<ellipse cx="113.70" cy="472.10" rx="13.80" ry="14.70" fill="#8f73c7"/>
<ellipse cx="120.25" cy="477.22" rx="5.31" ry="4.51" transform="rotate(36.4 120.25 477.22)" fill="#7860a7" opacity="0.75"/>
<ellipse cx="111.01" cy="480.25" rx="6.22" ry="5.28" transform="rotate(109.3 111.01 480.25)" fill="#7860a7" opacity="0.75"/>
<ellipse cx="105.59" cy="471.37" rx="5.62" ry="4.78" transform="rotate(184.9 105.59 471.37)" fill="#7860a7" opacity="0.75"/>
<ellipse cx="110.21" cy="464.30" rx="4.46" ry="3.79" transform="rotate(244.6 110.21 464.30)" fill="#7860a7" opacity="0.75"/>
<ellipse cx="119.66" cy="466.22" rx="6.22" ry="5.28" transform="rotate(317.1 119.66 466.22)" fill="#7860a7" opacity="0.75"/>
<line x1="118.12" y1="471.67" x2="127.70" y2="470.74" stroke="#b09dd7" stroke-width="0.45" opacity="0.6"/>
<line x1="117.87" y1="473.73" x2="126.90" y2="477.25" stroke="#b09dd7" stroke-width="0.45" opacity="0.6"/>
<line x1="117.65" y1="474.25" x2="126.21" y2="478.92" stroke="#b09dd7" stroke-width="0.45" opacity="0.6"/>
<line x1="116.96" y1="475.30" x2="124.02" y2="482.23" stroke="#b09dd7" stroke-width="0.45" opacity="0.6"/>
<line x1="115.98" y1="476.14" x2="120.91" y2="484.90" stroke="#b09dd7" stroke-width="0.45" opacity="0.6"/>
<line x1="114.77" y1="476.67" x2="117.10" y2="486.57" stroke="#b09dd7" stroke-width="0.45" opacity="0.6"/>
<line x1="114.03" y1="476.80" x2="114.76" y2="486.97" stroke="#b09dd7" stroke-width="0.45" opacity="0.6"/>
<line x1="112.39" y1="476.60" x2="109.56" y2="486.35" stroke="#b09dd7" stroke-width="0.45" opacity="0.6"/>
<line x1="111.23" y1="476.01" x2="105.88" y2="484.49" stroke="#b09dd7" stroke-width="0.45" opacity="0.6"/>
<line x1="110.55" y1="475.42" x2="103.73" y2="482.62" stroke="#b09dd7" stroke-width="0.45" opacity="0.6"/>
<line x1="109.73" y1="474.21" x2="101.13" y2="478.79" stroke="#b09dd7" stroke-width="0.45" opacity="0.6"/>
<line x1="109.38" y1="473.21" x2="100.03" y2="475.60" stroke="#b09dd7" stroke-width="0.45" opacity="0.6"/>
<line x1="109.27" y1="471.79" x2="99.67" y2="471.13" stroke="#b09dd7" stroke-width="0.45" opacity="0.6"/>
<line x1="109.35" y1="471.17" x2="99.91" y2="469.17" stroke="#b09dd7" stroke-width="0.45" opacity="0.6"/>
<line x1="109.79" y1="469.86" x2="101.33" y2="465.01" stroke="#b09dd7" stroke-width="0.45" opacity="0.6"/>
<line x1="110.54" y1="468.79" x2="103.70" y2="461.62" stroke="#b09dd7" stroke-width="0.45" opacity="0.6"/>
<line x1="111.18" y1="468.22" x2="105.73" y2="459.81" stroke="#b09dd7" stroke-width="0.45" opacity="0.6"/>
<line x1="112.96" y1="467.46" x2="111.36" y2="457.39" stroke="#b09dd7" stroke-width="0.45" opacity="0.6"/>
<line x1="113.82" y1="467.39" x2="114.08" y2="457.19" stroke="#b09dd7" stroke-width="0.45" opacity="0.6"/>
<line x1="114.50" y1="467.47" x2="116.24" y2="457.43" stroke="#b09dd7" stroke-width="0.45" opacity="0.6"/>
<line x1="115.98" y1="468.06" x2="120.93" y2="459.31" stroke="#b09dd7" stroke-width="0.45" opacity="0.6"/>
<line x1="116.78" y1="468.71" x2="123.47" y2="461.37" stroke="#b09dd7" stroke-width="0.45" opacity="0.6"/>
<line x1="117.40" y1="469.50" x2="125.42" y2="463.85" stroke="#b09dd7" stroke-width="0.45" opacity="0.6"/>
<line x1="117.90" y1="470.57" x2="127.00" y2="467.27" stroke="#b09dd7" stroke-width="0.45" opacity="0.6"/>
<circle cx="108.79" cy="473.41" r="1.48" fill="#b09dd7" opacity="0.5"/>
<circle cx="108.16" cy="471.55" r="1.85" fill="#b09dd7" opacity="0.5"/>
<circle cx="119.48" cy="473.69" r="1.78" fill="#b09dd7" opacity="0.5"/>
<circle cx="115.20" cy="480.66" r="1.47" fill="#b09dd7" opacity="0.5"/>
<circle cx="105.59" cy="475.79" r="1.41" fill="#b09dd7" opacity="0.5"/>
<circle cx="108.78" cy="472.67" r="1.78" fill="#b09dd7" opacity="0.5"/>
<circle cx="112.70" cy="477.15" r="1.29" fill="#b09dd7" opacity="0.5"/>
<circle cx="117.65" cy="462.33" r="1.35" fill="#b09dd7" opacity="0.5"/>
<polyline points="113.70,472.10 108.98,474.95" fill="none" stroke="#f6f3f7" stroke-width="2.16" stroke-linecap="round"/>
<polyline points="108.98,474.95 105.30,479.40" fill="none" stroke="#f6f3f7" stroke-width="1.55" stroke-linecap="round"/>
<line x1="105.30" y1="479.40" x2="104.49" y2="481.68" stroke="#f6f3f7" stroke-width="1.12" stroke-linecap="round"/>
<line x1="105.30" y1="479.40" x2="103.02" y2="479.73" stroke="#f6f3f7" stroke-width="1.12" stroke-linecap="round"/>
<line x1="108.98" y1="474.95" x2="108.54" y2="479.69" stroke="#f6f3f7" stroke-width="1.21" stroke-linecap="round"/>
<polyline points="113.70,472.10 109.92,468.80" fill="none" stroke="#f6f3f7" stroke-width="2.16" stroke-linecap="round"/>
<polyline points="109.92,468.80 105.00,467.34" fill="none" stroke="#f6f3f7" stroke-width="1.55" stroke-linecap="round"/>
<line x1="109.92" y1="468.80" x2="105.72" y2="469.54" stroke="#f6f3f7" stroke-width="1.21" stroke-linecap="round"/>
<polyline points="113.70,472.10 113.68,465.65" fill="none" stroke="#f6f3f7" stroke-width="2.16" stroke-linecap="round"/>
<polyline points="113.68,465.65 113.83,459.21" fill="none" stroke="#f6f3f7" stroke-width="1.55" stroke-linecap="round"/>
<line x1="113.83" y1="459.21" x2="112.36" y2="457.31" stroke="#f6f3f7" stroke-width="1.12" stroke-linecap="round"/>
<line x1="113.83" y1="459.21" x2="115.31" y2="457.33" stroke="#f6f3f7" stroke-width="1.12" stroke-linecap="round"/>
<line x1="113.68" y1="465.65" x2="117.34" y2="461.38" stroke="#f6f3f7" stroke-width="1.21" stroke-linecap="round"/>
<polyline points="113.70,472.10 118.36,472.48" fill="none" stroke="#f6f3f7" stroke-width="2.16" stroke-linecap="round"/>
<polyline points="118.36,472.48 122.79,474.36" fill="none" stroke="#f6f3f7" stroke-width="1.55" stroke-linecap="round"/>
<line x1="122.79" y1="474.36" x2="125.32" y2="472.71" stroke="#f6f3f7" stroke-width="1.12" stroke-linecap="round"/>
<line x1="122.79" y1="474.36" x2="124.50" y2="476.94" stroke="#f6f3f7" stroke-width="1.12" stroke-linecap="round"/>
<polyline points="113.70,472.10 115.52,476.95" fill="none" stroke="#f6f3f7" stroke-width="2.16" stroke-linecap="round"/>
<polyline points="115.52,476.95 119.80,480.28" fill="none" stroke="#f6f3f7" stroke-width="1.55" stroke-linecap="round"/>
<line x1="119.80" y1="480.28" x2="121.82" y2="481.08" stroke="#f6f3f7" stroke-width="1.12" stroke-linecap="round"/>
<line x1="119.80" y1="480.28" x2="119.46" y2="482.55" stroke="#f6f3f7" stroke-width="1.12" stroke-linecap="round"/>
<line x1="115.52" y1="476.95" x2="119.01" y2="479.31" stroke="#f6f3f7" stroke-width="1.21" stroke-linecap="round"/>
<circle cx="113.70" cy="472.10" r="2.20" fill="#f6f3f7"/>
<rect x="126.80" y="488.40" width="3.6" height="1.4" fill="#555" opacity="0.75"/>
<rect x="133.30" y="452.50" width="38.30" height="40.10" fill="#8a8a8a" stroke="none" stroke-width="0"/>
<rect x="133.80" y="453.00" width="37.30" height="39.10" fill="#e6e7e4" stroke="none" stroke-width="0"/>
<ellipse cx="153.20" cy="471.60" rx="17.40" ry="18.70" fill="#e3a7da"/>
<ellipse cx="153.20" cy="471.60" rx="16.60" ry="17.90" fill="none" stroke="#eabde3" stroke-width="0.9" opacity="0.8"/>
<ellipse cx="153.20" cy="471.60" rx="13.90" ry="15.20" fill="#c0a2dc"/>
<ellipse cx="153.20" cy="471.60" rx="12.90" ry="14.20" fill="#a67bce"/>
<ellipse cx="148.49" cy="478.19" rx="5.46" ry="4.64" transform="rotate(128.0 148.49 478.19)" fill="#8b67ad" opacity="0.75"/>
<ellipse cx="146.66" cy="467.27" rx="5.84" ry="4.96" transform="rotate(211.2 146.66 467.27)" fill="#8b67ad" opacity="0.75"/>
<ellipse cx="157.44" cy="464.65" rx="5.84" ry="4.96" transform="rotate(303.7 157.44 464.65)" fill="#8b67ad" opacity="0.75"/>
<ellipse cx="159.01" cy="477.03" rx="5.84" ry="4.96" transform="rotate(400.5 159.01 477.03)" fill="#8b67ad" opacity="0.75"/>
<line x1="157.36" y1="471.85" x2="166.38" y2="472.40" stroke="#c0a2dc" stroke-width="0.45" opacity="0.6"/>
<line x1="157.17" y1="473.01" x2="165.76" y2="476.07" stroke="#c0a2dc" stroke-width="0.45" opacity="0.6"/>
<line x1="156.99" y1="473.51" x2="165.19" y2="477.64" stroke="#c0a2dc" stroke-width="0.45" opacity="0.6"/>
<line x1="156.04" y1="474.94" x2="162.19" y2="482.18" stroke="#c0a2dc" stroke-width="0.45" opacity="0.6"/>
<line x1="155.28" y1="475.55" x2="159.80" y2="484.11" stroke="#c0a2dc" stroke-width="0.45" opacity="0.6"/>
<line x1="154.17" y1="476.03" x2="156.27" y2="485.64" stroke="#c0a2dc" stroke-width="0.45" opacity="0.6"/>
<line x1="152.82" y1="476.14" x2="152.00" y2="485.98" stroke="#c0a2dc" stroke-width="0.45" opacity="0.6"/>
<line x1="151.73" y1="475.87" x2="148.56" y2="485.12" stroke="#c0a2dc" stroke-width="0.45" opacity="0.6"/>
<line x1="151.18" y1="475.59" x2="146.81" y2="484.23" stroke="#c0a2dc" stroke-width="0.45" opacity="0.6"/>
<line x1="150.06" y1="474.60" x2="143.24" y2="481.08" stroke="#c0a2dc" stroke-width="0.45" opacity="0.6"/>
<line x1="149.48" y1="473.65" x2="141.41" y2="478.09" stroke="#c0a2dc" stroke-width="0.45" opacity="0.6"/>
<line x1="149.09" y1="472.36" x2="140.18" y2="474.01" stroke="#c0a2dc" stroke-width="0.45" opacity="0.6"/>
<line x1="149.05" y1="472.03" x2="140.05" y2="472.96" stroke="#c0a2dc" stroke-width="0.45" opacity="0.6"/>
<line x1="149.28" y1="470.04" x2="140.79" y2="466.66" stroke="#c0a2dc" stroke-width="0.45" opacity="0.6"/>
<line x1="149.48" y1="469.54" x2="141.41" y2="465.09" stroke="#c0a2dc" stroke-width="0.45" opacity="0.6"/>
<line x1="150.04" y1="468.62" x2="143.20" y2="462.17" stroke="#c0a2dc" stroke-width="0.45" opacity="0.6"/>
<line x1="151.19" y1="467.61" x2="146.82" y2="458.96" stroke="#c0a2dc" stroke-width="0.45" opacity="0.6"/>
<line x1="152.40" y1="467.13" x2="150.65" y2="457.43" stroke="#c0a2dc" stroke-width="0.45" opacity="0.6"/>
<line x1="153.58" y1="467.06" x2="154.40" y2="457.22" stroke="#c0a2dc" stroke-width="0.45" opacity="0.6"/>
<line x1="154.17" y1="467.16" x2="156.27" y2="457.56" stroke="#c0a2dc" stroke-width="0.45" opacity="0.6"/>
<line x1="155.52" y1="467.81" x2="160.54" y2="459.59" stroke="#c0a2dc" stroke-width="0.45" opacity="0.6"/>
<line x1="155.86" y1="468.09" x2="161.62" y2="460.48" stroke="#c0a2dc" stroke-width="0.45" opacity="0.6"/>
<line x1="156.99" y1="469.70" x2="165.20" y2="465.58" stroke="#c0a2dc" stroke-width="0.45" opacity="0.6"/>
<line x1="157.18" y1="470.24" x2="165.80" y2="467.29" stroke="#c0a2dc" stroke-width="0.45" opacity="0.6"/>
<circle cx="148.19" cy="470.06" r="0.85" fill="#c0a2dc" opacity="0.5"/>
<circle cx="162.36" cy="472.08" r="1.47" fill="#c0a2dc" opacity="0.5"/>
<circle cx="157.74" cy="460.32" r="1.31" fill="#c0a2dc" opacity="0.5"/>
<circle cx="156.55" cy="466.37" r="1.86" fill="#c0a2dc" opacity="0.5"/>
<circle cx="153.16" cy="484.73" r="1.26" fill="#c0a2dc" opacity="0.5"/>
<circle cx="145.56" cy="475.66" r="0.87" fill="#c0a2dc" opacity="0.5"/>
<circle cx="160.97" cy="475.92" r="1.66" fill="#c0a2dc" opacity="0.5"/>
<circle cx="160.47" cy="473.89" r="1.24" fill="#c0a2dc" opacity="0.5"/>
<polyline points="153.20,471.60 152.08,465.50" fill="none" stroke="#f6f3f7" stroke-width="2.59" stroke-linecap="round"/>
<polyline points="152.08,465.50 154.30,459.21" fill="none" stroke="#f6f3f7" stroke-width="1.86" stroke-linecap="round"/>
<line x1="154.30" y1="459.21" x2="153.25" y2="456.82" stroke="#f6f3f7" stroke-width="1.35" stroke-linecap="round"/>
<line x1="154.30" y1="459.21" x2="156.21" y2="457.59" stroke="#f6f3f7" stroke-width="1.35" stroke-linecap="round"/>
<polyline points="153.20,471.60 158.64,470.42" fill="none" stroke="#f6f3f7" stroke-width="2.59" stroke-linecap="round"/>
<polyline points="158.64,470.42 164.17,469.82" fill="none" stroke="#f6f3f7" stroke-width="1.86" stroke-linecap="round"/>
<line x1="164.17" y1="469.82" x2="165.50" y2="468.49" stroke="#f6f3f7" stroke-width="1.35" stroke-linecap="round"/>
<line x1="164.17" y1="469.82" x2="165.84" y2="470.56" stroke="#f6f3f7" stroke-width="1.35" stroke-linecap="round"/>
<line x1="158.64" y1="470.42" x2="162.78" y2="473.15" stroke="#f6f3f7" stroke-width="1.45" stroke-linecap="round"/>
<polyline points="153.20,471.60 152.97,477.77" fill="none" stroke="#f6f3f7" stroke-width="2.59" stroke-linecap="round"/>
<polyline points="152.97,477.77 150.89,483.70" fill="none" stroke="#f6f3f7" stroke-width="1.86" stroke-linecap="round"/>
<polyline points="153.20,471.60 148.55,473.09" fill="none" stroke="#f6f3f7" stroke-width="2.59" stroke-linecap="round"/>
<polyline points="148.55,473.09 143.95,474.77" fill="none" stroke="#f6f3f7" stroke-width="1.86" stroke-linecap="round"/>
<line x1="143.95" y1="474.77" x2="142.78" y2="476.14" stroke="#f6f3f7" stroke-width="1.35" stroke-linecap="round"/>
<line x1="143.95" y1="474.77" x2="142.39" y2="474.00" stroke="#f6f3f7" stroke-width="1.35" stroke-linecap="round"/>
<line x1="148.55" y1="473.09" x2="145.54" y2="471.97" stroke="#f6f3f7" stroke-width="1.45" stroke-linecap="round"/>
<circle cx="153.20" cy="471.60" r="2.20" fill="#f6f3f7"/>
<rect x="165.10" y="488.40" width="3.6" height="1.4" fill="#555" opacity="0.75"/>
<rect x="171.60" y="452.50" width="38.30" height="40.10" fill="#8a8a8a" stroke="none" stroke-width="0"/>
<rect x="172.10" y="453.00" width="37.30" height="39.10" fill="#e6e7e4" stroke="none" stroke-width="0"/>
<ellipse cx="190.40" cy="472.10" rx="17.60" ry="18.70" fill="#e1bedf"/>
<ellipse cx="190.40" cy="472.10" rx="16.80" ry="17.90" fill="none" stroke="#e8cee7" stroke-width="0.9" opacity="0.8"/>
<ellipse cx="190.40" cy="472.10" rx="14.10" ry="15.20" fill="#b0a1d7"/>
<ellipse cx="190.40" cy="472.10" rx="13.10" ry="14.20" fill="#8f7ac7"/>
<ellipse cx="190.99" cy="480.44" rx="5.92" ry="5.03" transform="rotate(85.7 190.99 480.44)" fill="#7866a7" opacity="0.75"/>
<ellipse cx="182.67" cy="471.47" rx="5.92" ry="5.03" transform="rotate(184.3 182.67 471.47)" fill="#7866a7" opacity="0.75"/>
<ellipse cx="193.01" cy="464.23" rx="5.92" ry="5.03" transform="rotate(289.7 193.01 464.23)" fill="#7866a7" opacity="0.75"/>
<ellipse cx="198.01" cy="473.69" rx="5.10" ry="4.34" transform="rotate(371.0 198.01 473.69)" fill="#7866a7" opacity="0.75"/>
<line x1="194.62" y1="472.40" x2="203.77" y2="473.04" stroke="#b0a1d7" stroke-width="0.45" opacity="0.6"/>
<line x1="194.52" y1="473.13" x2="203.45" y2="475.37" stroke="#b0a1d7" stroke-width="0.45" opacity="0.6"/>
<line x1="194.12" y1="474.28" x2="202.17" y2="479.00" stroke="#b0a1d7" stroke-width="0.45" opacity="0.6"/>
<line x1="193.20" y1="475.52" x2="199.26" y2="482.93" stroke="#b0a1d7" stroke-width="0.45" opacity="0.6"/>
<line x1="192.74" y1="475.90" x2="197.82" y2="484.12" stroke="#b0a1d7" stroke-width="0.45" opacity="0.6"/>
<line x1="191.16" y1="476.59" x2="192.80" y2="486.31" stroke="#b0a1d7" stroke-width="0.45" opacity="0.6"/>
<line x1="190.41" y1="476.66" x2="190.42" y2="486.54" stroke="#b0a1d7" stroke-width="0.45" opacity="0.6"/>
<line x1="189.66" y1="476.59" x2="188.05" y2="486.32" stroke="#b0a1d7" stroke-width="0.45" opacity="0.6"/>
<line x1="187.99" y1="475.85" x2="182.76" y2="483.96" stroke="#b0a1d7" stroke-width="0.45" opacity="0.6"/>
<line x1="187.37" y1="475.28" x2="180.79" y2="482.16" stroke="#b0a1d7" stroke-width="0.45" opacity="0.6"/>
<line x1="186.93" y1="474.70" x2="179.40" y2="480.35" stroke="#b0a1d7" stroke-width="0.45" opacity="0.6"/>
<line x1="186.25" y1="472.98" x2="177.26" y2="474.89" stroke="#b0a1d7" stroke-width="0.45" opacity="0.6"/>
<line x1="186.18" y1="471.85" x2="177.03" y2="471.31" stroke="#b0a1d7" stroke-width="0.45" opacity="0.6"/>
<line x1="186.37" y1="470.71" x2="177.64" y2="467.70" stroke="#b0a1d7" stroke-width="0.45" opacity="0.6"/>
<line x1="186.80" y1="469.70" x2="179.02" y2="464.49" stroke="#b0a1d7" stroke-width="0.45" opacity="0.6"/>
<line x1="187.72" y1="468.57" x2="181.90" y2="460.94" stroke="#b0a1d7" stroke-width="0.45" opacity="0.6"/>
<line x1="187.94" y1="468.39" x2="182.60" y2="460.36" stroke="#b0a1d7" stroke-width="0.45" opacity="0.6"/>
<line x1="189.70" y1="467.60" x2="188.17" y2="457.86" stroke="#b0a1d7" stroke-width="0.45" opacity="0.6"/>
<line x1="190.52" y1="467.54" x2="190.78" y2="457.67" stroke="#b0a1d7" stroke-width="0.45" opacity="0.6"/>
<line x1="191.29" y1="467.64" x2="193.22" y2="457.98" stroke="#b0a1d7" stroke-width="0.45" opacity="0.6"/>
<line x1="192.60" y1="468.20" x2="197.35" y2="459.76" stroke="#b0a1d7" stroke-width="0.45" opacity="0.6"/>
<line x1="193.29" y1="468.77" x2="199.56" y2="461.56" stroke="#b0a1d7" stroke-width="0.45" opacity="0.6"/>
<line x1="194.12" y1="469.94" x2="202.20" y2="465.26" stroke="#b0a1d7" stroke-width="0.45" opacity="0.6"/>
<line x1="194.53" y1="471.10" x2="203.47" y2="468.93" stroke="#b0a1d7" stroke-width="0.45" opacity="0.6"/>
<circle cx="185.39" cy="471.27" r="1.27" fill="#b0a1d7" opacity="0.5"/>
<circle cx="187.01" cy="482.89" r="1.92" fill="#b0a1d7" opacity="0.5"/>
<circle cx="191.80" cy="462.82" r="1.00" fill="#b0a1d7" opacity="0.5"/>
<circle cx="188.69" cy="465.37" r="2.00" fill="#b0a1d7" opacity="0.5"/>
<circle cx="196.18" cy="483.95" r="0.82" fill="#b0a1d7" opacity="0.5"/>
<circle cx="191.73" cy="464.52" r="1.49" fill="#b0a1d7" opacity="0.5"/>
<circle cx="184.50" cy="475.82" r="1.33" fill="#b0a1d7" opacity="0.5"/>
<circle cx="193.30" cy="464.98" r="1.23" fill="#b0a1d7" opacity="0.5"/>
<polyline points="190.40,472.10 187.54,466.70" fill="none" stroke="#f6f3f7" stroke-width="2.16" stroke-linecap="round"/>
<polyline points="187.54,466.70 182.85,462.68" fill="none" stroke="#f6f3f7" stroke-width="1.55" stroke-linecap="round"/>
<line x1="182.85" y1="462.68" x2="180.46" y2="462.29" stroke="#f6f3f7" stroke-width="1.12" stroke-linecap="round"/>
<line x1="182.85" y1="462.68" x2="182.51" y2="460.10" stroke="#f6f3f7" stroke-width="1.12" stroke-linecap="round"/>
<polyline points="190.40,472.10 195.25,470.10" fill="none" stroke="#f6f3f7" stroke-width="2.16" stroke-linecap="round"/>
<polyline points="195.25,470.10 198.91,465.68" fill="none" stroke="#f6f3f7" stroke-width="1.55" stroke-linecap="round"/>
<line x1="198.91" y1="465.68" x2="199.47" y2="463.86" stroke="#f6f3f7" stroke-width="1.12" stroke-linecap="round"/>
<line x1="198.91" y1="465.68" x2="200.68" y2="465.55" stroke="#f6f3f7" stroke-width="1.12" stroke-linecap="round"/>
<line x1="195.25" y1="470.10" x2="197.04" y2="466.44" stroke="#f6f3f7" stroke-width="1.21" stroke-linecap="round"/>
<polyline points="190.40,472.10 194.24,475.95" fill="none" stroke="#f6f3f7" stroke-width="2.16" stroke-linecap="round"/>
<polyline points="194.24,475.95 197.70,480.21" fill="none" stroke="#f6f3f7" stroke-width="1.55" stroke-linecap="round"/>
<line x1="194.24" y1="475.95" x2="194.24" y2="480.86" stroke="#f6f3f7" stroke-width="1.21" stroke-linecap="round"/>
<polyline points="190.40,472.10 186.93,476.82" fill="none" stroke="#f6f3f7" stroke-width="2.16" stroke-linecap="round"/>
<polyline points="186.93,476.82 186.34,483.31" fill="none" stroke="#f6f3f7" stroke-width="1.55" stroke-linecap="round"/>
<line x1="186.34" y1="483.31" x2="187.02" y2="486.26" stroke="#f6f3f7" stroke-width="1.12" stroke-linecap="round"/>
<line x1="186.34" y1="483.31" x2="183.81" y2="484.64" stroke="#f6f3f7" stroke-width="1.12" stroke-linecap="round"/>
<line x1="186.93" y1="476.82" x2="182.85" y2="477.42" stroke="#f6f3f7" stroke-width="1.21" stroke-linecap="round"/>
<circle cx="190.40" cy="472.10" r="2.20" fill="#f6f3f7"/>
<rect x="203.40" y="488.40" width="3.6" height="1.4" fill="#555" opacity="0.75"/>
<rect x="209.90" y="452.50" width="38.30" height="40.10" fill="#8a8a8a" stroke="none" stroke-width="0"/>
<rect x="210.40" y="453.00" width="37.30" height="39.10" fill="#e6e7e4" stroke="none" stroke-width="0"/>
<ellipse cx="229.00" cy="472.00" rx="18.70" ry="19.10" fill="#e9b6da"/>
<ellipse cx="229.00" cy="472.00" rx="17.90" ry="18.30" fill="none" stroke="#eec8e3" stroke-width="0.9" opacity="0.8"/>
<ellipse cx="229.00" cy="472.00" rx="13.20" ry="13.60" fill="#cec4e6"/>
<ellipse cx="229.00" cy="472.00" rx="12.20" ry="12.60" fill="#b9abdc"/>
<ellipse cx="228.25" cy="479.44" rx="5.54" ry="4.71" transform="rotate(96.0 228.25 479.44)" fill="#9b8fb8" opacity="0.75"/>
<ellipse cx="223.18" cy="467.52" rx="5.54" ry="4.71" transform="rotate(216.8 223.18 467.52)" fill="#9b8fb8" opacity="0.75"/>
<ellipse cx="235.21" cy="468.12" rx="5.54" ry="4.71" transform="rotate(328.8 235.21 468.12)" fill="#9b8fb8" opacity="0.75"/>
<line x1="232.95" y1="471.70" x2="241.51" y2="471.05" stroke="#cec4e6" stroke-width="0.45" opacity="0.6"/>
<line x1="232.83" y1="473.03" x2="241.14" y2="475.25" stroke="#cec4e6" stroke-width="0.45" opacity="0.6"/>
<line x1="232.46" y1="473.98" x2="239.96" y2="478.27" stroke="#cec4e6" stroke-width="0.45" opacity="0.6"/>
<line x1="231.96" y1="474.71" x2="238.36" y2="480.60" stroke="#cec4e6" stroke-width="0.45" opacity="0.6"/>
<line x1="231.05" y1="475.49" x2="235.50" y2="483.05" stroke="#cec4e6" stroke-width="0.45" opacity="0.6"/>
<line x1="229.76" y1="476.00" x2="231.41" y2="484.68" stroke="#cec4e6" stroke-width="0.45" opacity="0.6"/>
<line x1="229.29" y1="476.07" x2="229.92" y2="484.88" stroke="#cec4e6" stroke-width="0.45" opacity="0.6"/>
<line x1="228.22" y1="476.00" x2="226.52" y2="484.66" stroke="#cec4e6" stroke-width="0.45" opacity="0.6"/>
<line x1="227.35" y1="475.71" x2="223.78" y2="483.75" stroke="#cec4e6" stroke-width="0.45" opacity="0.6"/>
<line x1="226.35" y1="475.03" x2="220.61" y2="481.60" stroke="#cec4e6" stroke-width="0.45" opacity="0.6"/>
<line x1="225.74" y1="474.32" x2="218.68" y2="479.34" stroke="#cec4e6" stroke-width="0.45" opacity="0.6"/>
<line x1="225.09" y1="472.67" x2="216.63" y2="474.12" stroke="#cec4e6" stroke-width="0.45" opacity="0.6"/>
<line x1="225.04" y1="472.15" x2="216.47" y2="472.48" stroke="#cec4e6" stroke-width="0.45" opacity="0.6"/>
<line x1="225.29" y1="470.56" x2="217.26" y2="467.45" stroke="#cec4e6" stroke-width="0.45" opacity="0.6"/>
<line x1="225.43" y1="470.23" x2="217.71" y2="466.39" stroke="#cec4e6" stroke-width="0.45" opacity="0.6"/>
<line x1="226.43" y1="468.89" x2="220.88" y2="462.16" stroke="#cec4e6" stroke-width="0.45" opacity="0.6"/>
<line x1="227.02" y1="468.46" x2="222.74" y2="460.80" stroke="#cec4e6" stroke-width="0.45" opacity="0.6"/>
<line x1="228.12" y1="468.02" x2="226.22" y2="459.40" stroke="#cec4e6" stroke-width="0.45" opacity="0.6"/>
<line x1="229.13" y1="467.92" x2="229.41" y2="459.09" stroke="#cec4e6" stroke-width="0.45" opacity="0.6"/>
<line x1="229.85" y1="468.01" x2="231.69" y2="459.38" stroke="#cec4e6" stroke-width="0.45" opacity="0.6"/>
<line x1="230.79" y1="468.36" x2="234.68" y2="460.48" stroke="#cec4e6" stroke-width="0.45" opacity="0.6"/>
<line x1="231.90" y1="469.22" x2="238.18" y2="463.20" stroke="#cec4e6" stroke-width="0.45" opacity="0.6"/>
<line x1="232.27" y1="469.70" x2="239.37" y2="464.73" stroke="#cec4e6" stroke-width="0.45" opacity="0.6"/>
<line x1="232.71" y1="470.57" x2="240.74" y2="467.46" stroke="#cec4e6" stroke-width="0.45" opacity="0.6"/>
<circle cx="230.18" cy="462.83" r="1.11" fill="#cec4e6" opacity="0.5"/>
<circle cx="217.92" cy="470.53" r="1.13" fill="#cec4e6" opacity="0.5"/>
<circle cx="234.17" cy="477.25" r="1.00" fill="#cec4e6" opacity="0.5"/>
<circle cx="226.15" cy="475.20" r="1.72" fill="#cec4e6" opacity="0.5"/>
<circle cx="231.40" cy="465.31" r="1.25" fill="#cec4e6" opacity="0.5"/>
<circle cx="228.46" cy="483.85" r="1.85" fill="#cec4e6" opacity="0.5"/>
<circle cx="226.20" cy="467.31" r="1.01" fill="#cec4e6" opacity="0.5"/>
<circle cx="229.59" cy="466.40" r="1.63" fill="#cec4e6" opacity="0.5"/>
<polyline points="229.00,472.00 232.50,473.91" fill="none" stroke="#f6f3f7" stroke-width="1.87" stroke-linecap="round"/>
<polyline points="232.50,473.91 236.75,473.67" fill="none" stroke="#f6f3f7" stroke-width="1.35" stroke-linecap="round"/>
<line x1="236.75" y1="473.67" x2="239.30" y2="472.49" stroke="#f6f3f7" stroke-width="0.97" stroke-linecap="round"/>
<line x1="236.75" y1="473.67" x2="238.31" y2="476.05" stroke="#f6f3f7" stroke-width="0.97" stroke-linecap="round"/>
<polyline points="229.00,472.00 225.19,473.13" fill="none" stroke="#f6f3f7" stroke-width="1.87" stroke-linecap="round"/>
<polyline points="225.19,473.13 221.39,474.26" fill="none" stroke="#f6f3f7" stroke-width="1.35" stroke-linecap="round"/>
<polyline points="229.00,472.00 228.97,467.92" fill="none" stroke="#f6f3f7" stroke-width="1.87" stroke-linecap="round"/>
<polyline points="228.97,467.92 229.15,463.84" fill="none" stroke="#f6f3f7" stroke-width="1.35" stroke-linecap="round"/>
<line x1="229.15" y1="463.84" x2="227.69" y2="462.22" stroke="#f6f3f7" stroke-width="0.97" stroke-linecap="round"/>
<line x1="229.15" y1="463.84" x2="230.39" y2="462.04" stroke="#f6f3f7" stroke-width="0.97" stroke-linecap="round"/>
<circle cx="229.00" cy="472.00" r="2.20" fill="#f6f3f7"/>
<rect x="241.70" y="488.40" width="3.6" height="1.4" fill="#555" opacity="0.75"/>
<rect x="248.20" y="452.50" width="38.30" height="40.10" fill="#8a8a8a" stroke="none" stroke-width="0"/>
<rect x="248.70" y="453.00" width="37.30" height="39.10" fill="#e6e7e4" stroke="none" stroke-width="0"/>
<ellipse cx="267.70" cy="472.10" rx="17.90" ry="18.70" fill="#cf65b4"/>
<ellipse cx="267.70" cy="472.10" rx="17.10" ry="17.90" fill="none" stroke="#db8bc6" stroke-width="0.9" opacity="0.8"/>
<ellipse cx="267.70" cy="472.10" rx="15.10" ry="15.90" fill="#b79fd7"/>
<ellipse cx="267.70" cy="472.10" rx="14.10" ry="14.90" fill="#9976c7"/>
<ellipse cx="273.60" cy="478.25" rx="4.79" ry="4.07" transform="rotate(44.7 273.60 478.25)" fill="#8063a7" opacity="0.75"/>
<ellipse cx="265.82" cy="480.62" rx="5.31" ry="4.51" transform="rotate(103.1 265.82 480.62)" fill="#8063a7" opacity="0.75"/>
<ellipse cx="259.75" cy="474.64" rx="5.00" ry="4.25" transform="rotate(163.1 259.75 474.64)" fill="#8063a7" opacity="0.75"/>
<ellipse cx="262.42" cy="465.35" rx="6.18" ry="5.25" transform="rotate(230.5 262.42 465.35)" fill="#8063a7" opacity="0.75"/>
<ellipse cx="270.47" cy="463.86" rx="3.90" ry="3.32" transform="rotate(289.5 270.47 463.86)" fill="#8063a7" opacity="0.75"/>
<ellipse cx="275.67" cy="469.65" rx="5.62" ry="4.78" transform="rotate(343.8 275.67 469.65)" fill="#8063a7" opacity="0.75"/>
<line x1="272.21" y1="472.55" x2="281.98" y2="473.53" stroke="#b79fd7" stroke-width="0.45" opacity="0.6"/>
<line x1="272.15" y1="472.97" x2="281.81" y2="474.84" stroke="#b79fd7" stroke-width="0.45" opacity="0.6"/>
<line x1="271.65" y1="474.44" x2="280.20" y2="479.51" stroke="#b79fd7" stroke-width="0.45" opacity="0.6"/>
<line x1="271.07" y1="475.28" x2="278.39" y2="482.18" stroke="#b79fd7" stroke-width="0.45" opacity="0.6"/>
<line x1="270.08" y1="476.16" x2="275.24" y2="484.95" stroke="#b79fd7" stroke-width="0.45" opacity="0.6"/>
<line x1="268.43" y1="476.81" x2="270.02" y2="487.01" stroke="#b79fd7" stroke-width="0.45" opacity="0.6"/>
<line x1="267.85" y1="476.87" x2="268.19" y2="487.20" stroke="#b79fd7" stroke-width="0.45" opacity="0.6"/>
<line x1="266.43" y1="476.68" x2="263.69" y2="486.60" stroke="#b79fd7" stroke-width="0.45" opacity="0.6"/>
<line x1="265.50" y1="476.27" x2="260.73" y2="485.30" stroke="#b79fd7" stroke-width="0.45" opacity="0.6"/>
<line x1="264.35" y1="475.31" x2="257.10" y2="482.28" stroke="#b79fd7" stroke-width="0.45" opacity="0.6"/>
<line x1="263.80" y1="474.53" x2="255.35" y2="479.79" stroke="#b79fd7" stroke-width="0.45" opacity="0.6"/>
<line x1="263.41" y1="473.64" x2="254.12" y2="476.96" stroke="#b79fd7" stroke-width="0.45" opacity="0.6"/>
<line x1="263.17" y1="472.16" x2="253.36" y2="472.30" stroke="#b79fd7" stroke-width="0.45" opacity="0.6"/>
<line x1="263.30" y1="470.95" x2="253.78" y2="468.46" stroke="#b79fd7" stroke-width="0.45" opacity="0.6"/>
<line x1="263.92" y1="469.48" x2="255.72" y2="463.80" stroke="#b79fd7" stroke-width="0.45" opacity="0.6"/>
<line x1="264.54" y1="468.69" x2="257.68" y2="461.29" stroke="#b79fd7" stroke-width="0.45" opacity="0.6"/>
<line x1="265.20" y1="468.12" x2="259.79" y2="459.50" stroke="#b79fd7" stroke-width="0.45" opacity="0.6"/>
<line x1="266.68" y1="467.45" x2="264.47" y2="457.38" stroke="#b79fd7" stroke-width="0.45" opacity="0.6"/>
<line x1="267.52" y1="467.33" x2="267.12" y2="457.01" stroke="#b79fd7" stroke-width="0.45" opacity="0.6"/>
<line x1="268.88" y1="467.50" x2="271.44" y2="457.52" stroke="#b79fd7" stroke-width="0.45" opacity="0.6"/>
<line x1="269.74" y1="467.84" x2="274.16" y2="458.62" stroke="#b79fd7" stroke-width="0.45" opacity="0.6"/>
<line x1="270.84" y1="468.67" x2="277.66" y2="461.23" stroke="#b79fd7" stroke-width="0.45" opacity="0.6"/>
<line x1="271.75" y1="469.95" x2="280.51" y2="465.31" stroke="#b79fd7" stroke-width="0.45" opacity="0.6"/>
<line x1="272.08" y1="470.88" x2="281.57" y2="468.23" stroke="#b79fd7" stroke-width="0.45" opacity="0.6"/>
<circle cx="267.86" cy="460.11" r="1.50" fill="#b79fd7" opacity="0.5"/>
<circle cx="262.72" cy="465.33" r="1.54" fill="#b79fd7" opacity="0.5"/>
<circle cx="268.62" cy="466.47" r="1.93" fill="#b79fd7" opacity="0.5"/>
<circle cx="263.81" cy="476.62" r="0.98" fill="#b79fd7" opacity="0.5"/>
<circle cx="264.92" cy="476.67" r="1.28" fill="#b79fd7" opacity="0.5"/>
<circle cx="258.69" cy="477.71" r="1.36" fill="#b79fd7" opacity="0.5"/>
<circle cx="277.35" cy="467.72" r="1.19" fill="#b79fd7" opacity="0.5"/>
<circle cx="275.38" cy="464.00" r="1.96" fill="#b79fd7" opacity="0.5"/>
<polyline points="267.70,472.10 261.75,470.78" fill="none" stroke="#f6f3f7" stroke-width="2.30" stroke-linecap="round"/>
<polyline points="261.75,470.78 256.95,466.10" fill="none" stroke="#f6f3f7" stroke-width="1.66" stroke-linecap="round"/>
<line x1="256.95" y1="466.10" x2="254.90" y2="467.02" stroke="#f6f3f7" stroke-width="1.20" stroke-linecap="round"/>
<line x1="256.95" y1="466.10" x2="255.74" y2="464.13" stroke="#f6f3f7" stroke-width="1.20" stroke-linecap="round"/>
<polyline points="267.70,472.10 267.60,465.30" fill="none" stroke="#f6f3f7" stroke-width="2.30" stroke-linecap="round"/>
<polyline points="267.60,465.30 264.70,458.88" fill="none" stroke="#f6f3f7" stroke-width="1.66" stroke-linecap="round"/>
<line x1="264.70" y1="458.88" x2="261.83" y2="457.41" stroke="#f6f3f7" stroke-width="1.20" stroke-linecap="round"/>
<line x1="264.70" y1="458.88" x2="266.54" y2="456.13" stroke="#f6f3f7" stroke-width="1.20" stroke-linecap="round"/>
<polyline points="267.70,472.10 271.64,467.15" fill="none" stroke="#f6f3f7" stroke-width="2.30" stroke-linecap="round"/>
<polyline points="271.64,467.15 274.45,461.30" fill="none" stroke="#f6f3f7" stroke-width="1.66" stroke-linecap="round"/>
<line x1="274.45" y1="461.30" x2="273.71" y2="458.50" stroke="#f6f3f7" stroke-width="1.20" stroke-linecap="round"/>
<line x1="274.45" y1="461.30" x2="277.19" y2="460.99" stroke="#f6f3f7" stroke-width="1.20" stroke-linecap="round"/>
<line x1="271.64" y1="467.15" x2="271.82" y2="461.89" stroke="#f6f3f7" stroke-width="1.29" stroke-linecap="round"/>
<polyline points="267.70,472.10 272.76,473.79" fill="none" stroke="#f6f3f7" stroke-width="2.30" stroke-linecap="round"/>
<polyline points="272.76,473.79 278.31,472.62" fill="none" stroke="#f6f3f7" stroke-width="1.66" stroke-linecap="round"/>
<line x1="278.31" y1="472.62" x2="280.28" y2="471.58" stroke="#f6f3f7" stroke-width="1.20" stroke-linecap="round"/>
<line x1="278.31" y1="472.62" x2="280.10" y2="473.97" stroke="#f6f3f7" stroke-width="1.20" stroke-linecap="round"/>
<polyline points="267.70,472.10 269.67,478.42" fill="none" stroke="#f6f3f7" stroke-width="2.30" stroke-linecap="round"/>
<polyline points="269.67,478.42 270.56,485.05" fill="none" stroke="#f6f3f7" stroke-width="1.66" stroke-linecap="round"/>
<line x1="270.56" y1="485.05" x2="272.11" y2="486.61" stroke="#f6f3f7" stroke-width="1.20" stroke-linecap="round"/>
<line x1="270.56" y1="485.05" x2="269.31" y2="486.90" stroke="#f6f3f7" stroke-width="1.20" stroke-linecap="round"/>
<line x1="269.67" y1="478.42" x2="267.71" y2="483.66" stroke="#f6f3f7" stroke-width="1.29" stroke-linecap="round"/>
<polyline points="267.70,472.10 264.53,475.52" fill="none" stroke="#f6f3f7" stroke-width="2.30" stroke-linecap="round"/>
<polyline points="264.53,475.52 263.02,480.27" fill="none" stroke="#f6f3f7" stroke-width="1.66" stroke-linecap="round"/>
<line x1="263.02" y1="480.27" x2="263.13" y2="482.58" stroke="#f6f3f7" stroke-width="1.20" stroke-linecap="round"/>
<line x1="263.02" y1="480.27" x2="260.97" y2="481.09" stroke="#f6f3f7" stroke-width="1.20" stroke-linecap="round"/>
<circle cx="267.70" cy="472.10" r="2.20" fill="#f6f3f7"/>
<rect x="280.00" y="488.40" width="3.6" height="1.4" fill="#555" opacity="0.75"/>
<rect x="286.50" y="452.50" width="38.30" height="40.10" fill="#8a8a8a" stroke="none" stroke-width="0"/>
<rect x="287.00" y="453.00" width="37.30" height="39.10" fill="#e6e7e4" stroke="none" stroke-width="0"/>
<ellipse cx="305.60" cy="472.40" rx="18.30" ry="18.70" fill="#e1cbe1"/>
<ellipse cx="305.60" cy="472.40" rx="17.50" ry="17.90" fill="none" stroke="#e8d8e8" stroke-width="0.9" opacity="0.8"/>
<ellipse cx="305.60" cy="472.40" rx="14.30" ry="14.70" fill="#d7ceeb"/>
<ellipse cx="305.60" cy="472.40" rx="13.30" ry="13.70" fill="#c7b9e3"/>
<ellipse cx="304.00" cy="464.48" rx="6.01" ry="5.11" transform="rotate(258.3 304.00 464.48)" fill="#a79bbe" opacity="0.75"/>
<ellipse cx="307.20" cy="480.32" rx="6.01" ry="5.11" transform="rotate(438.3 307.20 480.32)" fill="#a79bbe" opacity="0.75"/>
<line x1="309.89" y1="472.54" x2="319.18" y2="472.83" stroke="#d7ceeb" stroke-width="0.45" opacity="0.6"/>
<line x1="309.80" y1="473.29" x2="318.90" y2="475.23" stroke="#d7ceeb" stroke-width="0.45" opacity="0.6"/>
<line x1="309.41" y1="474.42" x2="317.68" y2="478.79" stroke="#d7ceeb" stroke-width="0.45" opacity="0.6"/>
<line x1="308.70" y1="475.45" x2="315.40" y2="482.07" stroke="#d7ceeb" stroke-width="0.45" opacity="0.6"/>
<line x1="307.64" y1="476.28" x2="312.06" y2="484.69" stroke="#d7ceeb" stroke-width="0.45" opacity="0.6"/>
<line x1="306.30" y1="476.75" x2="307.82" y2="486.18" stroke="#d7ceeb" stroke-width="0.45" opacity="0.6"/>
<line x1="305.63" y1="476.81" x2="305.71" y2="486.36" stroke="#d7ceeb" stroke-width="0.45" opacity="0.6"/>
<line x1="304.09" y1="476.53" x2="300.81" y2="485.47" stroke="#d7ceeb" stroke-width="0.45" opacity="0.6"/>
<line x1="303.10" y1="475.98" x2="297.68" y2="483.75" stroke="#d7ceeb" stroke-width="0.45" opacity="0.6"/>
<line x1="302.73" y1="475.67" x2="296.50" y2="482.77" stroke="#d7ceeb" stroke-width="0.45" opacity="0.6"/>
<line x1="302.08" y1="474.92" x2="294.46" y2="480.39" stroke="#d7ceeb" stroke-width="0.45" opacity="0.6"/>
<line x1="301.54" y1="473.83" x2="292.75" y2="476.92" stroke="#d7ceeb" stroke-width="0.45" opacity="0.6"/>
<line x1="301.32" y1="472.10" x2="292.05" y2="471.45" stroke="#d7ceeb" stroke-width="0.45" opacity="0.6"/>
<line x1="301.48" y1="471.17" x2="292.55" y2="468.52" stroke="#d7ceeb" stroke-width="0.45" opacity="0.6"/>
<line x1="302.08" y1="469.88" x2="294.44" y2="464.43" stroke="#d7ceeb" stroke-width="0.45" opacity="0.6"/>
<line x1="302.87" y1="469.00" x2="296.94" y2="461.64" stroke="#d7ceeb" stroke-width="0.45" opacity="0.6"/>
<line x1="303.57" y1="468.51" x2="299.17" y2="460.10" stroke="#d7ceeb" stroke-width="0.45" opacity="0.6"/>
<line x1="304.52" y1="468.13" x2="302.17" y2="458.89" stroke="#d7ceeb" stroke-width="0.45" opacity="0.6"/>
<line x1="305.23" y1="468.01" x2="304.42" y2="458.49" stroke="#d7ceeb" stroke-width="0.45" opacity="0.6"/>
<line x1="306.31" y1="468.05" x2="307.85" y2="458.63" stroke="#d7ceeb" stroke-width="0.45" opacity="0.6"/>
<line x1="307.97" y1="468.72" x2="313.10" y2="460.75" stroke="#d7ceeb" stroke-width="0.45" opacity="0.6"/>
<line x1="308.74" y1="469.39" x2="315.53" y2="462.87" stroke="#d7ceeb" stroke-width="0.45" opacity="0.6"/>
<line x1="309.42" y1="470.40" x2="317.70" y2="466.06" stroke="#d7ceeb" stroke-width="0.45" opacity="0.6"/>
<line x1="309.76" y1="471.31" x2="318.77" y2="468.96" stroke="#d7ceeb" stroke-width="0.45" opacity="0.6"/>
<circle cx="301.10" cy="463.48" r="1.87" fill="#d7ceeb" opacity="0.5"/>
<circle cx="312.11" cy="478.06" r="1.17" fill="#d7ceeb" opacity="0.5"/>
<circle cx="311.25" cy="461.73" r="1.10" fill="#d7ceeb" opacity="0.5"/>
<circle cx="311.18" cy="475.57" r="1.18" fill="#d7ceeb" opacity="0.5"/>
<circle cx="306.56" cy="464.44" r="1.70" fill="#d7ceeb" opacity="0.5"/>
<circle cx="302.84" cy="480.97" r="1.02" fill="#d7ceeb" opacity="0.5"/>
<circle cx="300.29" cy="465.33" r="1.84" fill="#d7ceeb" opacity="0.5"/>
<circle cx="313.90" cy="469.54" r="0.88" fill="#d7ceeb" opacity="0.5"/>
<ellipse cx="303.5" cy="478" rx="5" ry="3.5" fill="#6c58b8" opacity="0.8"/>
<ellipse cx="305.60" cy="472.40" rx="5.50" ry="2.20" fill="#f6f3f7"/>
<polyline points="305.60,472.40 310.19,471.80" fill="none" stroke="#f6f3f7" stroke-width="3.16" stroke-linecap="round"/>
<polyline points="310.19,471.80 314.76,473.73" fill="none" stroke="#f6f3f7" stroke-width="2.28" stroke-linecap="round"/>
<line x1="314.76" y1="473.73" x2="316.55" y2="472.07" stroke="#f6f3f7" stroke-width="1.64" stroke-linecap="round"/>
<line x1="314.76" y1="473.73" x2="316.54" y2="475.41" stroke="#f6f3f7" stroke-width="1.64" stroke-linecap="round"/>
<line x1="310.19" y1="471.80" x2="312.31" y2="468.40" stroke="#f6f3f7" stroke-width="1.77" stroke-linecap="round"/>
<polyline points="305.60,472.40 301.30,473.68" fill="none" stroke="#f6f3f7" stroke-width="3.16" stroke-linecap="round"/>
<polyline points="301.30,473.68 297.14,475.38" fill="none" stroke="#f6f3f7" stroke-width="2.28" stroke-linecap="round"/>
<line x1="297.14" y1="475.38" x2="296.01" y2="477.10" stroke="#f6f3f7" stroke-width="1.64" stroke-linecap="round"/>
<line x1="297.14" y1="475.38" x2="295.23" y2="474.68" stroke="#f6f3f7" stroke-width="1.64" stroke-linecap="round"/>
<circle cx="305.60" cy="472.40" r="2.20" fill="#f6f3f7"/>
<rect x="318.30" y="488.40" width="3.6" height="1.4" fill="#555" opacity="0.75"/>
<rect x="324.80" y="452.50" width="38.30" height="40.10" fill="#8a8a8a" stroke="none" stroke-width="0"/>
<rect x="325.30" y="453.00" width="37.30" height="39.10" fill="#e6e7e4" stroke="none" stroke-width="0"/>
<ellipse cx="343.90" cy="472.00" rx="17.80" ry="18.00" fill="#dac7e1"/>
<ellipse cx="343.90" cy="472.00" rx="17.00" ry="17.20" fill="none" stroke="#e3d5e8" stroke-width="0.9" opacity="0.8"/>
<ellipse cx="341.40" cy="472.00" rx="14.80" ry="15.00" fill="#dcd5eb"/>
<ellipse cx="341.40" cy="472.00" rx="13.80" ry="14.00" fill="#cec4e3"/>
<ellipse cx="340.82" cy="463.77" rx="6.22" ry="5.28" transform="rotate(265.9 340.82 463.77)" fill="#ada4be" opacity="0.75"/>
<ellipse cx="341.98" cy="480.23" rx="6.22" ry="5.28" transform="rotate(445.9 341.98 480.23)" fill="#ada4be" opacity="0.75"/>
<line x1="345.84" y1="472.17" x2="355.45" y2="472.52" stroke="#dcd5eb" stroke-width="0.45" opacity="0.6"/>
<line x1="345.76" y1="472.85" x2="355.21" y2="474.68" stroke="#dcd5eb" stroke-width="0.45" opacity="0.6"/>
<line x1="345.41" y1="473.94" x2="354.08" y2="478.15" stroke="#dcd5eb" stroke-width="0.45" opacity="0.6"/>
<line x1="344.70" y1="475.01" x2="351.86" y2="481.52" stroke="#dcd5eb" stroke-width="0.45" opacity="0.6"/>
<line x1="343.42" y1="476.01" x2="347.79" y2="484.69" stroke="#dcd5eb" stroke-width="0.45" opacity="0.6"/>
<line x1="342.85" y1="476.25" x2="345.99" y2="485.47" stroke="#dcd5eb" stroke-width="0.45" opacity="0.6"/>
<line x1="341.19" y1="476.49" x2="340.72" y2="486.23" stroke="#dcd5eb" stroke-width="0.45" opacity="0.6"/>
<line x1="340.11" y1="476.31" x2="337.32" y2="485.64" stroke="#dcd5eb" stroke-width="0.45" opacity="0.6"/>
<line x1="339.47" y1="476.05" x2="335.27" y2="484.83" stroke="#dcd5eb" stroke-width="0.45" opacity="0.6"/>
<line x1="338.24" y1="475.16" x2="331.39" y2="482.00" stroke="#dcd5eb" stroke-width="0.45" opacity="0.6"/>
<line x1="337.58" y1="474.29" x2="329.30" y2="479.25" stroke="#dcd5eb" stroke-width="0.45" opacity="0.6"/>
<line x1="337.13" y1="473.24" x2="327.89" y2="475.93" stroke="#dcd5eb" stroke-width="0.45" opacity="0.6"/>
<line x1="336.98" y1="471.55" x2="327.41" y2="470.59" stroke="#dcd5eb" stroke-width="0.45" opacity="0.6"/>
<line x1="337.03" y1="471.19" x2="327.57" y2="469.44" stroke="#dcd5eb" stroke-width="0.45" opacity="0.6"/>
<line x1="337.36" y1="470.13" x2="328.61" y2="466.09" stroke="#dcd5eb" stroke-width="0.45" opacity="0.6"/>
<line x1="338.55" y1="468.55" x2="332.37" y2="461.08" stroke="#dcd5eb" stroke-width="0.45" opacity="0.6"/>
<line x1="339.11" y1="468.15" x2="334.13" y2="459.80" stroke="#dcd5eb" stroke-width="0.45" opacity="0.6"/>
<line x1="339.99" y1="467.73" x2="336.95" y2="458.48" stroke="#dcd5eb" stroke-width="0.45" opacity="0.6"/>
<line x1="341.25" y1="467.50" x2="340.92" y2="457.76" stroke="#dcd5eb" stroke-width="0.45" opacity="0.6"/>
<line x1="342.43" y1="467.62" x2="344.67" y2="458.14" stroke="#dcd5eb" stroke-width="0.45" opacity="0.6"/>
<line x1="343.96" y1="468.32" x2="349.51" y2="460.36" stroke="#dcd5eb" stroke-width="0.45" opacity="0.6"/>
<line x1="344.35" y1="468.64" x2="350.75" y2="461.36" stroke="#dcd5eb" stroke-width="0.45" opacity="0.6"/>
<line x1="345.11" y1="469.53" x2="353.16" y2="464.19" stroke="#dcd5eb" stroke-width="0.45" opacity="0.6"/>
<line x1="345.71" y1="470.91" x2="355.04" y2="468.54" stroke="#dcd5eb" stroke-width="0.45" opacity="0.6"/>
<circle cx="329.06" cy="468.16" r="1.81" fill="#dcd5eb" opacity="0.5"/>
<circle cx="337.55" cy="476.99" r="1.80" fill="#dcd5eb" opacity="0.5"/>
<circle cx="346.10" cy="471.67" r="1.68" fill="#dcd5eb" opacity="0.5"/>
<circle cx="348.32" cy="464.37" r="1.06" fill="#dcd5eb" opacity="0.5"/>
<circle cx="344.55" cy="461.40" r="1.03" fill="#dcd5eb" opacity="0.5"/>
<circle cx="337.36" cy="466.99" r="0.85" fill="#dcd5eb" opacity="0.5"/>
<circle cx="337.59" cy="478.44" r="1.28" fill="#dcd5eb" opacity="0.5"/>
<circle cx="334.23" cy="462.42" r="1.95" fill="#dcd5eb" opacity="0.5"/>
<path d="M348,465 C354,461 361,466 361.5,474 C362,482 357,489.5 347,489 C345,484 350,481 351,476 C352,471 346.5,470 348,465 Z" fill="#3a2a9a"/>
<path d="M351,468 C355,469 357,474 355,479" stroke="#6a5ac0" stroke-width="1.2" fill="none"/>
<ellipse cx="341.40" cy="472.00" rx="1.80" ry="3.80" fill="#f6f3f7"/>
<polyline points="341.40,472.00 343.64,471.64" fill="none" stroke="#f6f3f7" stroke-width="1.44" stroke-linecap="round"/>
<polyline points="343.64,471.64 345.90,472.65" fill="none" stroke="#f6f3f7" stroke-width="1.03" stroke-linecap="round"/>
<line x1="343.64" y1="471.64" x2="344.76" y2="469.96" stroke="#f6f3f7" stroke-width="0.80" stroke-linecap="round"/>
<polyline points="341.40,472.00 338.82,471.97" fill="none" stroke="#f6f3f7" stroke-width="1.44" stroke-linecap="round"/>
<polyline points="338.82,471.97 336.27,472.58" fill="none" stroke="#f6f3f7" stroke-width="1.03" stroke-linecap="round"/>
<line x1="336.27" y1="472.58" x2="335.18" y2="474.05" stroke="#f6f3f7" stroke-width="0.75" stroke-linecap="round"/>
<line x1="336.27" y1="472.58" x2="334.71" y2="471.63" stroke="#f6f3f7" stroke-width="0.75" stroke-linecap="round"/>
<circle cx="341.40" cy="472.00" r="2.20" fill="#f6f3f7"/>
<rect x="356.60" y="488.40" width="3.6" height="1.4" fill="#555" opacity="0.75"/>
<rect x="95.00" y="492.60" width="38.30" height="40.10" fill="#8a8a8a" stroke="none" stroke-width="0"/>
<rect x="95.50" y="493.10" width="37.30" height="39.10" fill="#e6e7e4" stroke="none" stroke-width="0"/>
<ellipse cx="114.20" cy="512.40" rx="17.50" ry="18.70" fill="#e189cf"/>
<ellipse cx="114.20" cy="512.40" rx="16.70" ry="17.90" fill="none" stroke="#e8a6db" stroke-width="0.9" opacity="0.8"/>
<ellipse cx="114.20" cy="512.40" rx="13.50" ry="14.70" fill="#b69dd7"/>
<ellipse cx="114.20" cy="512.40" rx="12.50" ry="13.70" fill="#9873c7"/>
<ellipse cx="118.40" cy="519.07" rx="5.52" ry="4.70" transform="rotate(55.6 118.40 519.07)" fill="#7f60a7" opacity="0.75"/>
<ellipse cx="108.57" cy="517.67" rx="5.67" ry="4.82" transform="rotate(139.3 108.57 517.67)" fill="#7f60a7" opacity="0.75"/>
<ellipse cx="108.09" cy="507.80" rx="4.61" ry="3.92" transform="rotate(214.7 108.09 507.80)" fill="#7f60a7" opacity="0.75"/>
<ellipse cx="115.94" cy="504.54" rx="5.67" ry="4.82" transform="rotate(283.6 115.94 504.54)" fill="#7f60a7" opacity="0.75"/>
<ellipse cx="121.53" cy="511.09" rx="4.40" ry="3.74" transform="rotate(350.7 121.53 511.09)" fill="#7f60a7" opacity="0.75"/>
<line x1="118.24" y1="512.05" x2="126.98" y2="511.28" stroke="#b69dd7" stroke-width="0.45" opacity="0.6"/>
<line x1="118.11" y1="513.55" x2="126.58" y2="516.04" stroke="#b69dd7" stroke-width="0.45" opacity="0.6"/>
<line x1="117.56" y1="514.86" x2="124.84" y2="520.20" stroke="#b69dd7" stroke-width="0.45" opacity="0.6"/>
<line x1="117.05" y1="515.53" x2="123.23" y2="522.32" stroke="#b69dd7" stroke-width="0.45" opacity="0.6"/>
<line x1="115.91" y1="516.40" x2="119.60" y2="525.07" stroke="#b69dd7" stroke-width="0.45" opacity="0.6"/>
<line x1="114.95" y1="516.73" x2="116.57" y2="526.13" stroke="#b69dd7" stroke-width="0.45" opacity="0.6"/>
<line x1="114.30" y1="516.81" x2="114.53" y2="526.36" stroke="#b69dd7" stroke-width="0.45" opacity="0.6"/>
<line x1="113.55" y1="516.75" x2="112.13" y2="526.18" stroke="#b69dd7" stroke-width="0.45" opacity="0.6"/>
<line x1="112.00" y1="516.10" x2="107.23" y2="524.12" stroke="#b69dd7" stroke-width="0.45" opacity="0.6"/>
<line x1="111.56" y1="515.74" x2="105.83" y2="522.98" stroke="#b69dd7" stroke-width="0.45" opacity="0.6"/>
<line x1="110.91" y1="514.97" x2="103.78" y2="520.53" stroke="#b69dd7" stroke-width="0.45" opacity="0.6"/>
<line x1="110.24" y1="513.34" x2="101.67" y2="515.39" stroke="#b69dd7" stroke-width="0.45" opacity="0.6"/>
<line x1="110.16" y1="512.10" x2="101.41" y2="511.44" stroke="#b69dd7" stroke-width="0.45" opacity="0.6"/>
<line x1="110.37" y1="510.98" x2="102.06" y2="507.89" stroke="#b69dd7" stroke-width="0.45" opacity="0.6"/>
<line x1="110.89" y1="509.86" x2="103.72" y2="504.35" stroke="#b69dd7" stroke-width="0.45" opacity="0.6"/>
<line x1="111.17" y1="509.47" x2="104.61" y2="503.13" stroke="#b69dd7" stroke-width="0.45" opacity="0.6"/>
<line x1="111.89" y1="508.78" x2="106.88" y2="500.93" stroke="#b69dd7" stroke-width="0.45" opacity="0.6"/>
<line x1="112.86" y1="508.24" x2="109.95" y2="499.22" stroke="#b69dd7" stroke-width="0.45" opacity="0.6"/>
<line x1="114.59" y1="508.01" x2="115.42" y2="498.50" stroke="#b69dd7" stroke-width="0.45" opacity="0.6"/>
<line x1="114.94" y1="508.06" x2="116.55" y2="498.67" stroke="#b69dd7" stroke-width="0.45" opacity="0.6"/>
<line x1="115.98" y1="508.44" x2="119.84" y2="499.86" stroke="#b69dd7" stroke-width="0.45" opacity="0.6"/>
<line x1="116.78" y1="509.00" x2="122.36" y2="501.62" stroke="#b69dd7" stroke-width="0.45" opacity="0.6"/>
<line x1="117.51" y1="509.86" x2="124.68" y2="504.36" stroke="#b69dd7" stroke-width="0.45" opacity="0.6"/>
<line x1="118.00" y1="510.87" x2="126.23" y2="507.55" stroke="#b69dd7" stroke-width="0.45" opacity="0.6"/>
<circle cx="110.96" cy="517.07" r="1.17" fill="#b69dd7" opacity="0.5"/>
<circle cx="119.07" cy="509.85" r="1.78" fill="#b69dd7" opacity="0.5"/>
<circle cx="113.57" cy="503.00" r="1.49" fill="#b69dd7" opacity="0.5"/>
<circle cx="115.31" cy="502.89" r="1.08" fill="#b69dd7" opacity="0.5"/>
<circle cx="111.31" cy="518.16" r="1.28" fill="#b69dd7" opacity="0.5"/>
<circle cx="121.68" cy="511.74" r="0.88" fill="#b69dd7" opacity="0.5"/>
<circle cx="103.68" cy="514.09" r="1.33" fill="#b69dd7" opacity="0.5"/>
<circle cx="112.79" cy="507.42" r="0.87" fill="#b69dd7" opacity="0.5"/>
<polyline points="114.20,512.40 119.24,514.18" fill="none" stroke="#f6f3f7" stroke-width="2.16" stroke-linecap="round"/>
<polyline points="119.24,514.18 124.79,512.90" fill="none" stroke="#f6f3f7" stroke-width="1.55" stroke-linecap="round"/>
<line x1="124.79" y1="512.90" x2="126.63" y2="511.71" stroke="#f6f3f7" stroke-width="1.12" stroke-linecap="round"/>
<line x1="124.79" y1="512.90" x2="126.61" y2="514.13" stroke="#f6f3f7" stroke-width="1.12" stroke-linecap="round"/>
<line x1="119.24" y1="514.18" x2="120.32" y2="518.34" stroke="#f6f3f7" stroke-width="1.21" stroke-linecap="round"/>
<polyline points="114.20,512.40 113.88,518.76" fill="none" stroke="#f6f3f7" stroke-width="2.16" stroke-linecap="round"/>
<polyline points="113.88,518.76 111.06,524.68" fill="none" stroke="#f6f3f7" stroke-width="1.55" stroke-linecap="round"/>
<line x1="111.06" y1="524.68" x2="112.04" y2="526.98" stroke="#f6f3f7" stroke-width="1.12" stroke-linecap="round"/>
<line x1="111.06" y1="524.68" x2="109.29" y2="526.33" stroke="#f6f3f7" stroke-width="1.12" stroke-linecap="round"/>
<line x1="113.88" y1="518.76" x2="110.54" y2="522.82" stroke="#f6f3f7" stroke-width="1.21" stroke-linecap="round"/>
<polyline points="114.20,512.40 109.21,511.87" fill="none" stroke="#f6f3f7" stroke-width="2.16" stroke-linecap="round"/>
<polyline points="109.21,511.87 104.30,510.66" fill="none" stroke="#f6f3f7" stroke-width="1.55" stroke-linecap="round"/>
<polyline points="114.20,512.40 112.29,508.19" fill="none" stroke="#f6f3f7" stroke-width="2.16" stroke-linecap="round"/>
<polyline points="112.29,508.19 109.26,504.71" fill="none" stroke="#f6f3f7" stroke-width="1.55" stroke-linecap="round"/>
<line x1="109.26" y1="504.71" x2="107.61" y2="504.56" stroke="#f6f3f7" stroke-width="1.12" stroke-linecap="round"/>
<line x1="109.26" y1="504.71" x2="109.47" y2="502.92" stroke="#f6f3f7" stroke-width="1.12" stroke-linecap="round"/>
<polyline points="114.20,512.40 118.64,508.81" fill="none" stroke="#f6f3f7" stroke-width="2.16" stroke-linecap="round"/>
<polyline points="118.64,508.81 122.29,504.21" fill="none" stroke="#f6f3f7" stroke-width="1.55" stroke-linecap="round"/>
<circle cx="114.20" cy="512.40" r="2.20" fill="#f6f3f7"/>
<rect x="126.80" y="528.50" width="3.6" height="1.4" fill="#555" opacity="0.75"/>
<rect x="133.30" y="492.60" width="38.30" height="40.10" fill="#8a8a8a" stroke="none" stroke-width="0"/>
<rect x="133.80" y="493.10" width="37.30" height="39.10" fill="#e6e7e4" stroke="none" stroke-width="0"/>
<ellipse cx="153.20" cy="512.00" rx="17.40" ry="18.30" fill="#e1b6da"/>
<ellipse cx="153.20" cy="512.00" rx="16.60" ry="17.50" fill="none" stroke="#e8c8e3" stroke-width="0.9" opacity="0.8"/>
<ellipse cx="153.20" cy="512.00" rx="14.40" ry="15.30" fill="#b6a1d7"/>
<ellipse cx="153.20" cy="512.00" rx="13.40" ry="14.30" fill="#987ac7"/>
<ellipse cx="150.94" cy="520.07" rx="6.05" ry="5.14" transform="rotate(106.5 150.94 520.07)" fill="#7f66a7" opacity="0.75"/>
<ellipse cx="145.28" cy="512.26" rx="5.14" ry="4.37" transform="rotate(178.2 145.28 512.26)" fill="#7f66a7" opacity="0.75"/>
<ellipse cx="150.35" cy="504.15" rx="6.00" ry="5.10" transform="rotate(248.9 150.35 504.15)" fill="#7f66a7" opacity="0.75"/>
<ellipse cx="158.78" cy="506.03" rx="4.56" ry="3.88" transform="rotate(314.8 158.78 506.03)" fill="#7f66a7" opacity="0.75"/>
<ellipse cx="160.44" cy="515.42" rx="6.05" ry="5.14" transform="rotate(384.0 160.44 515.42)" fill="#7f66a7" opacity="0.75"/>
<line x1="157.51" y1="512.37" x2="166.83" y2="513.19" stroke="#b6a1d7" stroke-width="0.45" opacity="0.6"/>
<line x1="157.43" y1="512.91" x2="166.61" y2="514.87" stroke="#b6a1d7" stroke-width="0.45" opacity="0.6"/>
<line x1="156.87" y1="514.41" x2="164.83" y2="519.65" stroke="#b6a1d7" stroke-width="0.45" opacity="0.6"/>
<line x1="156.18" y1="515.32" x2="162.64" y2="522.52" stroke="#b6a1d7" stroke-width="0.45" opacity="0.6"/>
<line x1="155.36" y1="515.98" x2="160.03" y2="524.59" stroke="#b6a1d7" stroke-width="0.45" opacity="0.6"/>
<line x1="153.92" y1="516.52" x2="155.50" y2="526.33" stroke="#b6a1d7" stroke-width="0.45" opacity="0.6"/>
<line x1="153.18" y1="516.59" x2="153.12" y2="526.53" stroke="#b6a1d7" stroke-width="0.45" opacity="0.6"/>
<line x1="152.13" y1="516.45" x2="149.80" y2="526.08" stroke="#b6a1d7" stroke-width="0.45" opacity="0.6"/>
<line x1="150.72" y1="515.76" x2="145.34" y2="523.89" stroke="#b6a1d7" stroke-width="0.45" opacity="0.6"/>
<line x1="150.06" y1="515.16" x2="143.27" y2="522.00" stroke="#b6a1d7" stroke-width="0.45" opacity="0.6"/>
<line x1="149.55" y1="514.45" x2="141.63" y2="519.76" stroke="#b6a1d7" stroke-width="0.45" opacity="0.6"/>
<line x1="149.07" y1="513.36" x2="140.13" y2="516.30" stroke="#b6a1d7" stroke-width="0.45" opacity="0.6"/>
<line x1="148.88" y1="512.00" x2="139.52" y2="512.01" stroke="#b6a1d7" stroke-width="0.45" opacity="0.6"/>
<line x1="148.94" y1="511.21" x2="139.72" y2="509.51" stroke="#b6a1d7" stroke-width="0.45" opacity="0.6"/>
<line x1="149.51" y1="509.62" x2="141.50" y2="504.46" stroke="#b6a1d7" stroke-width="0.45" opacity="0.6"/>
<line x1="150.29" y1="508.61" x2="143.99" y2="501.25" stroke="#b6a1d7" stroke-width="0.45" opacity="0.6"/>
<line x1="150.98" y1="508.06" x2="146.18" y2="499.52" stroke="#b6a1d7" stroke-width="0.45" opacity="0.6"/>
<line x1="152.37" y1="507.49" x2="150.58" y2="497.73" stroke="#b6a1d7" stroke-width="0.45" opacity="0.6"/>
<line x1="153.57" y1="507.43" x2="154.37" y2="497.52" stroke="#b6a1d7" stroke-width="0.45" opacity="0.6"/>
<line x1="154.36" y1="507.58" x2="156.89" y2="498.00" stroke="#b6a1d7" stroke-width="0.45" opacity="0.6"/>
<line x1="155.49" y1="508.11" x2="160.46" y2="499.68" stroke="#b6a1d7" stroke-width="0.45" opacity="0.6"/>
<line x1="156.01" y1="508.52" x2="162.10" y2="500.96" stroke="#b6a1d7" stroke-width="0.45" opacity="0.6"/>
<line x1="156.73" y1="509.36" x2="164.39" y2="503.64" stroke="#b6a1d7" stroke-width="0.45" opacity="0.6"/>
<line x1="157.46" y1="511.24" x2="166.69" y2="509.60" stroke="#b6a1d7" stroke-width="0.45" opacity="0.6"/>
<circle cx="151.88" cy="518.40" r="1.88" fill="#b6a1d7" opacity="0.5"/>
<circle cx="153.19" cy="506.28" r="1.19" fill="#b6a1d7" opacity="0.5"/>
<circle cx="153.51" cy="519.09" r="0.81" fill="#b6a1d7" opacity="0.5"/>
<circle cx="146.33" cy="510.86" r="1.27" fill="#b6a1d7" opacity="0.5"/>
<circle cx="155.28" cy="517.15" r="0.84" fill="#b6a1d7" opacity="0.5"/>
<circle cx="160.71" cy="503.79" r="1.47" fill="#b6a1d7" opacity="0.5"/>
<circle cx="157.19" cy="516.18" r="0.94" fill="#b6a1d7" opacity="0.5"/>
<circle cx="151.24" cy="516.68" r="1.13" fill="#b6a1d7" opacity="0.5"/>
<polyline points="153.20,512.00 149.09,509.51" fill="none" stroke="#f6f3f7" stroke-width="2.16" stroke-linecap="round"/>
<polyline points="149.09,509.51 144.27,508.70" fill="none" stroke="#f6f3f7" stroke-width="1.55" stroke-linecap="round"/>
<line x1="144.27" y1="508.70" x2="142.03" y2="509.57" stroke="#f6f3f7" stroke-width="1.12" stroke-linecap="round"/>
<line x1="144.27" y1="508.70" x2="142.94" y2="506.59" stroke="#f6f3f7" stroke-width="1.12" stroke-linecap="round"/>
<line x1="149.09" y1="509.51" x2="148.37" y2="506.58" stroke="#f6f3f7" stroke-width="1.21" stroke-linecap="round"/>
<polyline points="153.20,512.00 154.78,506.86" fill="none" stroke="#f6f3f7" stroke-width="2.16" stroke-linecap="round"/>
<polyline points="154.78,506.86 157.81,502.37" fill="none" stroke="#f6f3f7" stroke-width="1.55" stroke-linecap="round"/>
<line x1="157.81" y1="502.37" x2="157.47" y2="499.53" stroke="#f6f3f7" stroke-width="1.12" stroke-linecap="round"/>
<line x1="157.81" y1="502.37" x2="160.44" y2="501.73" stroke="#f6f3f7" stroke-width="1.12" stroke-linecap="round"/>
<polyline points="153.20,512.00 158.68,510.06" fill="none" stroke="#f6f3f7" stroke-width="2.16" stroke-linecap="round"/>
<polyline points="158.68,510.06 164.70,510.79" fill="none" stroke="#f6f3f7" stroke-width="1.55" stroke-linecap="round"/>
<polyline points="153.20,512.00 155.66,517.99" fill="none" stroke="#f6f3f7" stroke-width="2.16" stroke-linecap="round"/>
<polyline points="155.66,517.99 156.53,524.59" fill="none" stroke="#f6f3f7" stroke-width="1.55" stroke-linecap="round"/>
<line x1="156.53" y1="524.59" x2="158.99" y2="525.83" stroke="#f6f3f7" stroke-width="1.12" stroke-linecap="round"/>
<line x1="156.53" y1="524.59" x2="154.99" y2="526.98" stroke="#f6f3f7" stroke-width="1.12" stroke-linecap="round"/>
<line x1="155.66" y1="517.99" x2="154.04" y2="522.60" stroke="#f6f3f7" stroke-width="1.21" stroke-linecap="round"/>
<polyline points="153.20,512.00 149.15,514.83" fill="none" stroke="#f6f3f7" stroke-width="2.16" stroke-linecap="round"/>
<polyline points="149.15,514.83 144.12,515.59" fill="none" stroke="#f6f3f7" stroke-width="1.55" stroke-linecap="round"/>
<line x1="149.15" y1="514.83" x2="148.87" y2="518.40" stroke="#f6f3f7" stroke-width="1.21" stroke-linecap="round"/>
<circle cx="153.20" cy="512.00" r="2.20" fill="#f6f3f7"/>
<rect x="165.10" y="528.50" width="3.6" height="1.4" fill="#555" opacity="0.75"/>
<rect x="171.60" y="492.60" width="38.30" height="40.10" fill="#8a8a8a" stroke="none" stroke-width="0"/>
<rect x="172.10" y="493.10" width="37.30" height="39.10" fill="#e6e7e4" stroke="none" stroke-width="0"/>
<ellipse cx="190.70" cy="512.40" rx="17.30" ry="18.70" fill="#dec5de"/>
<ellipse cx="190.70" cy="512.40" rx="16.50" ry="17.90" fill="none" stroke="#e6d3e6" stroke-width="0.9" opacity="0.8"/>
<ellipse cx="190.70" cy="512.40" rx="13.80" ry="15.20" fill="#b0a6d7"/>
<ellipse cx="190.70" cy="512.40" rx="12.80" ry="14.20" fill="#8f81c7"/>
<ellipse cx="185.00" cy="517.92" rx="5.80" ry="4.93" transform="rotate(138.6 185.00 517.92)" fill="#786ca7" opacity="0.75"/>
<ellipse cx="189.08" cy="504.23" rx="5.80" ry="4.93" transform="rotate(257.7 189.08 504.23)" fill="#786ca7" opacity="0.75"/>
<ellipse cx="197.68" cy="515.68" rx="5.80" ry="4.93" transform="rotate(383.1 197.68 515.68)" fill="#786ca7" opacity="0.75"/>
<line x1="194.83" y1="512.75" x2="203.77" y2="513.50" stroke="#b0a6d7" stroke-width="0.45" opacity="0.6"/>
<line x1="194.73" y1="513.46" x2="203.45" y2="515.76" stroke="#b0a6d7" stroke-width="0.45" opacity="0.6"/>
<line x1="194.09" y1="515.02" x2="201.42" y2="520.71" stroke="#b0a6d7" stroke-width="0.45" opacity="0.6"/>
<line x1="193.67" y1="515.57" x2="200.11" y2="522.45" stroke="#b0a6d7" stroke-width="0.45" opacity="0.6"/>
<line x1="192.91" y1="516.26" x2="197.69" y2="524.62" stroke="#b0a6d7" stroke-width="0.45" opacity="0.6"/>
<line x1="192.09" y1="516.69" x2="195.11" y2="526.00" stroke="#b0a6d7" stroke-width="0.45" opacity="0.6"/>
<line x1="190.69" y1="516.96" x2="190.67" y2="526.84" stroke="#b0a6d7" stroke-width="0.45" opacity="0.6"/>
<line x1="189.91" y1="516.88" x2="188.19" y2="526.57" stroke="#b0a6d7" stroke-width="0.45" opacity="0.6"/>
<line x1="188.79" y1="516.45" x2="184.66" y2="525.22" stroke="#b0a6d7" stroke-width="0.45" opacity="0.6"/>
<line x1="187.71" y1="515.55" x2="181.23" y2="522.38" stroke="#b0a6d7" stroke-width="0.45" opacity="0.6"/>
<line x1="187.01" y1="514.46" x2="179.00" y2="518.92" stroke="#b0a6d7" stroke-width="0.45" opacity="0.6"/>
<line x1="186.65" y1="513.36" x2="177.88" y2="515.43" stroke="#b0a6d7" stroke-width="0.45" opacity="0.6"/>
<line x1="186.57" y1="512.78" x2="177.63" y2="513.59" stroke="#b0a6d7" stroke-width="0.45" opacity="0.6"/>
<line x1="186.62" y1="511.61" x2="177.79" y2="509.90" stroke="#b0a6d7" stroke-width="0.45" opacity="0.6"/>
<line x1="187.02" y1="510.32" x2="179.04" y2="505.80" stroke="#b0a6d7" stroke-width="0.45" opacity="0.6"/>
<line x1="187.80" y1="509.14" x2="181.53" y2="502.08" stroke="#b0a6d7" stroke-width="0.45" opacity="0.6"/>
<line x1="188.88" y1="508.31" x2="184.93" y2="499.44" stroke="#b0a6d7" stroke-width="0.45" opacity="0.6"/>
<line x1="189.87" y1="507.93" x2="188.07" y2="498.25" stroke="#b0a6d7" stroke-width="0.45" opacity="0.6"/>
<line x1="191.06" y1="507.86" x2="191.83" y2="498.01" stroke="#b0a6d7" stroke-width="0.45" opacity="0.6"/>
<line x1="191.84" y1="508.02" x2="194.32" y2="498.52" stroke="#b0a6d7" stroke-width="0.45" opacity="0.6"/>
<line x1="192.87" y1="508.51" x2="197.56" y2="500.10" stroke="#b0a6d7" stroke-width="0.45" opacity="0.6"/>
<line x1="193.50" y1="509.04" x2="199.57" y2="501.77" stroke="#b0a6d7" stroke-width="0.45" opacity="0.6"/>
<line x1="194.21" y1="509.97" x2="201.80" y2="504.72" stroke="#b0a6d7" stroke-width="0.45" opacity="0.6"/>
<line x1="194.63" y1="510.96" x2="203.14" y2="507.85" stroke="#b0a6d7" stroke-width="0.45" opacity="0.6"/>
<circle cx="181.76" cy="510.18" r="1.49" fill="#b0a6d7" opacity="0.5"/>
<circle cx="184.75" cy="517.69" r="1.10" fill="#b0a6d7" opacity="0.5"/>
<circle cx="194.26" cy="503.36" r="1.70" fill="#b0a6d7" opacity="0.5"/>
<circle cx="193.14" cy="505.81" r="0.94" fill="#b0a6d7" opacity="0.5"/>
<circle cx="188.31" cy="524.96" r="1.75" fill="#b0a6d7" opacity="0.5"/>
<circle cx="181.94" cy="518.92" r="1.21" fill="#b0a6d7" opacity="0.5"/>
<circle cx="193.94" cy="508.37" r="1.69" fill="#b0a6d7" opacity="0.5"/>
<circle cx="198.26" cy="511.37" r="1.35" fill="#b0a6d7" opacity="0.5"/>
<polyline points="190.70,512.40 186.42,511.29" fill="none" stroke="#f6f3f7" stroke-width="3.31" stroke-linecap="round"/>
<polyline points="186.42,511.29 181.96,511.47" fill="none" stroke="#f6f3f7" stroke-width="2.38" stroke-linecap="round"/>
<line x1="181.96" y1="511.47" x2="180.08" y2="512.41" stroke="#f6f3f7" stroke-width="1.72" stroke-linecap="round"/>
<line x1="181.96" y1="511.47" x2="180.40" y2="509.97" stroke="#f6f3f7" stroke-width="1.72" stroke-linecap="round"/>
<line x1="186.42" y1="511.29" x2="184.82" y2="508.58" stroke="#f6f3f7" stroke-width="1.85" stroke-linecap="round"/>
<polyline points="190.70,512.40 195.41,508.37" fill="none" stroke="#f6f3f7" stroke-width="3.31" stroke-linecap="round"/>
<polyline points="195.41,508.37 199.22,503.21" fill="none" stroke="#f6f3f7" stroke-width="2.38" stroke-linecap="round"/>
<line x1="199.22" y1="503.21" x2="199.19" y2="500.02" stroke="#f6f3f7" stroke-width="1.72" stroke-linecap="round"/>
<line x1="199.22" y1="503.21" x2="202.09" y2="503.56" stroke="#f6f3f7" stroke-width="1.72" stroke-linecap="round"/>
<polyline points="190.70,512.40 191.31,518.78" fill="none" stroke="#f6f3f7" stroke-width="3.31" stroke-linecap="round"/>
<polyline points="191.31,518.78 194.86,524.38" fill="none" stroke="#f6f3f7" stroke-width="2.38" stroke-linecap="round"/>
<line x1="194.86" y1="524.38" x2="196.64" y2="525.65" stroke="#f6f3f7" stroke-width="1.72" stroke-linecap="round"/>
<line x1="194.86" y1="524.38" x2="193.95" y2="526.49" stroke="#f6f3f7" stroke-width="1.72" stroke-linecap="round"/>
<circle cx="190.70" cy="512.40" r="2.20" fill="#f6f3f7"/>
<rect x="203.40" y="528.50" width="3.6" height="1.4" fill="#555" opacity="0.75"/>
<rect x="209.90" y="492.60" width="38.30" height="40.10" fill="#8a8a8a" stroke="none" stroke-width="0"/>
<rect x="210.40" y="493.10" width="37.30" height="39.10" fill="#e6e7e4" stroke="none" stroke-width="0"/>
<ellipse cx="228.50" cy="512.00" rx="18.30" ry="18.30" fill="#e1c5de"/>
<ellipse cx="228.50" cy="512.00" rx="17.50" ry="17.50" fill="none" stroke="#e8d3e6" stroke-width="0.9" opacity="0.8"/>
<ellipse cx="228.50" cy="512.00" rx="13.30" ry="13.30" fill="#c9bfe6"/>
<ellipse cx="228.50" cy="512.00" rx="12.30" ry="12.30" fill="#b2a4dc"/>
<ellipse cx="222.30" cy="515.87" rx="5.59" ry="4.75" transform="rotate(148.0 222.30 515.87)" fill="#9589b8" opacity="0.75"/>
<ellipse cx="227.99" cy="504.70" rx="5.59" ry="4.75" transform="rotate(266.0 227.99 504.70)" fill="#9589b8" opacity="0.75"/>
<ellipse cx="234.96" cy="515.43" rx="5.59" ry="4.75" transform="rotate(388.0 234.96 515.43)" fill="#9589b8" opacity="0.75"/>
<line x1="232.49" y1="511.83" x2="241.12" y2="511.46" stroke="#c9bfe6" stroke-width="0.45" opacity="0.6"/>
<line x1="232.24" y1="513.39" x2="240.35" y2="516.39" stroke="#c9bfe6" stroke-width="0.45" opacity="0.6"/>
<line x1="231.93" y1="514.04" x2="239.36" y2="518.46" stroke="#c9bfe6" stroke-width="0.45" opacity="0.6"/>
<line x1="231.18" y1="514.96" x2="236.98" y2="521.37" stroke="#c9bfe6" stroke-width="0.45" opacity="0.6"/>
<line x1="230.32" y1="515.55" x2="234.25" y2="523.25" stroke="#c9bfe6" stroke-width="0.45" opacity="0.6"/>
<line x1="229.20" y1="515.93" x2="230.71" y2="524.44" stroke="#c9bfe6" stroke-width="0.45" opacity="0.6"/>
<line x1="228.68" y1="515.99" x2="229.07" y2="524.62" stroke="#c9bfe6" stroke-width="0.45" opacity="0.6"/>
<line x1="227.57" y1="515.88" x2="225.56" y2="524.29" stroke="#c9bfe6" stroke-width="0.45" opacity="0.6"/>
<line x1="226.36" y1="515.37" x2="221.71" y2="522.66" stroke="#c9bfe6" stroke-width="0.45" opacity="0.6"/>
<line x1="225.63" y1="514.77" x2="219.42" y2="520.78" stroke="#c9bfe6" stroke-width="0.45" opacity="0.6"/>
<line x1="224.95" y1="513.82" x2="217.26" y2="517.76" stroke="#c9bfe6" stroke-width="0.45" opacity="0.6"/>
<line x1="224.68" y1="513.14" x2="216.39" y2="515.60" stroke="#c9bfe6" stroke-width="0.45" opacity="0.6"/>
<line x1="224.53" y1="511.64" x2="215.92" y2="510.85" stroke="#c9bfe6" stroke-width="0.45" opacity="0.6"/>
<line x1="224.56" y1="511.35" x2="216.03" y2="509.94" stroke="#c9bfe6" stroke-width="0.45" opacity="0.6"/>
<line x1="225.14" y1="509.85" x2="217.85" y2="505.20" stroke="#c9bfe6" stroke-width="0.45" opacity="0.6"/>
<line x1="225.61" y1="509.25" x2="219.34" y2="503.29" stroke="#c9bfe6" stroke-width="0.45" opacity="0.6"/>
<line x1="226.19" y1="508.75" x2="221.17" y2="501.71" stroke="#c9bfe6" stroke-width="0.45" opacity="0.6"/>
<line x1="227.60" y1="508.11" x2="225.66" y2="499.69" stroke="#c9bfe6" stroke-width="0.45" opacity="0.6"/>
<line x1="228.14" y1="508.03" x2="227.37" y2="499.42" stroke="#c9bfe6" stroke-width="0.45" opacity="0.6"/>
<line x1="229.33" y1="508.10" x2="231.12" y2="499.64" stroke="#c9bfe6" stroke-width="0.45" opacity="0.6"/>
<line x1="230.37" y1="508.48" x2="234.43" y2="500.84" stroke="#c9bfe6" stroke-width="0.45" opacity="0.6"/>
<line x1="231.12" y1="508.99" x2="236.80" y2="502.47" stroke="#c9bfe6" stroke-width="0.45" opacity="0.6"/>
<line x1="231.81" y1="509.78" x2="238.99" y2="504.96" stroke="#c9bfe6" stroke-width="0.45" opacity="0.6"/>
<line x1="232.25" y1="510.64" x2="240.38" y2="507.70" stroke="#c9bfe6" stroke-width="0.45" opacity="0.6"/>
<circle cx="231.14" cy="508.17" r="0.99" fill="#c9bfe6" opacity="0.5"/>
<circle cx="238.46" cy="517.23" r="1.46" fill="#c9bfe6" opacity="0.5"/>
<circle cx="233.67" cy="501.45" r="1.39" fill="#c9bfe6" opacity="0.5"/>
<circle cx="222.90" cy="516.35" r="1.12" fill="#c9bfe6" opacity="0.5"/>
<circle cx="218.81" cy="505.44" r="1.40" fill="#c9bfe6" opacity="0.5"/>
<circle cx="228.96" cy="500.93" r="1.80" fill="#c9bfe6" opacity="0.5"/>
<circle cx="224.50" cy="504.65" r="0.92" fill="#c9bfe6" opacity="0.5"/>
<circle cx="220.75" cy="519.52" r="1.33" fill="#c9bfe6" opacity="0.5"/>
<polyline points="228.50,512.00 223.78,509.69" fill="none" stroke="#f6f3f7" stroke-width="2.88" stroke-linecap="round"/>
<polyline points="223.78,509.69 218.49,508.79" fill="none" stroke="#f6f3f7" stroke-width="2.07" stroke-linecap="round"/>
<line x1="218.49" y1="508.79" x2="216.83" y2="509.70" stroke="#f6f3f7" stroke-width="1.49" stroke-linecap="round"/>
<line x1="218.49" y1="508.79" x2="217.69" y2="507.08" stroke="#f6f3f7" stroke-width="1.49" stroke-linecap="round"/>
<line x1="223.78" y1="509.69" x2="219.20" y2="510.54" stroke="#f6f3f7" stroke-width="1.61" stroke-linecap="round"/>
<polyline points="228.50,512.00 232.08,509.58" fill="none" stroke="#f6f3f7" stroke-width="2.88" stroke-linecap="round"/>
<polyline points="232.08,509.58 234.41,505.70" fill="none" stroke="#f6f3f7" stroke-width="2.07" stroke-linecap="round"/>
<polyline points="228.50,512.00 228.50,516.01" fill="none" stroke="#f6f3f7" stroke-width="2.88" stroke-linecap="round"/>
<polyline points="228.50,516.01 228.67,520.02" fill="none" stroke="#f6f3f7" stroke-width="2.07" stroke-linecap="round"/>
<line x1="228.50" y1="516.01" x2="226.10" y2="518.26" stroke="#f6f3f7" stroke-width="1.61" stroke-linecap="round"/>
<circle cx="228.50" cy="512.00" r="2.20" fill="#f6f3f7"/>
<rect x="241.70" y="528.50" width="3.6" height="1.4" fill="#555" opacity="0.75"/>
<rect x="248.20" y="492.60" width="38.30" height="40.10" fill="#8a8a8a" stroke="none" stroke-width="0"/>
<rect x="248.70" y="493.10" width="37.30" height="39.10" fill="#e6e7e4" stroke="none" stroke-width="0"/>
<ellipse cx="267.70" cy="512.30" rx="17.90" ry="18.90" fill="#e1bedf"/>
<ellipse cx="267.70" cy="512.30" rx="17.10" ry="18.10" fill="none" stroke="#e8cee7" stroke-width="0.9" opacity="0.8"/>
<ellipse cx="267.70" cy="512.30" rx="14.40" ry="15.40" fill="#cec4e6"/>
<ellipse cx="267.70" cy="512.30" rx="13.40" ry="14.40" fill="#b9abdc"/>
<ellipse cx="274.81" cy="516.03" rx="3.05" ry="2.59" transform="rotate(26.1 274.81 516.03)" fill="#9b8fb8" opacity="0.75"/>
<ellipse cx="267.98" cy="520.76" rx="6.05" ry="5.14" transform="rotate(88.0 267.98 520.76)" fill="#9b8fb8" opacity="0.75"/>
<ellipse cx="260.07" cy="514.57" rx="4.91" ry="4.17" transform="rotate(164.5 260.07 514.57)" fill="#9b8fb8" opacity="0.75"/>
<ellipse cx="261.94" cy="506.49" rx="4.88" ry="4.14" transform="rotate(223.4 261.94 506.49)" fill="#9b8fb8" opacity="0.75"/>
<ellipse cx="269.14" cy="503.97" rx="4.69" ry="3.99" transform="rotate(280.4 269.14 503.97)" fill="#9b8fb8" opacity="0.75"/>
<ellipse cx="275.13" cy="509.36" rx="5.13" ry="4.36" transform="rotate(339.7 275.13 509.36)" fill="#9b8fb8" opacity="0.75"/>
<line x1="272.02" y1="512.42" x2="281.38" y2="512.67" stroke="#cec4e6" stroke-width="0.45" opacity="0.6"/>
<line x1="271.92" y1="513.27" x2="281.08" y2="515.37" stroke="#cec4e6" stroke-width="0.45" opacity="0.6"/>
<line x1="271.34" y1="514.79" x2="279.22" y2="520.19" stroke="#cec4e6" stroke-width="0.45" opacity="0.6"/>
<line x1="270.80" y1="515.52" x2="277.50" y2="522.50" stroke="#cec4e6" stroke-width="0.45" opacity="0.6"/>
<line x1="269.82" y1="516.33" x2="274.40" y2="525.06" stroke="#cec4e6" stroke-width="0.45" opacity="0.6"/>
<line x1="268.78" y1="516.77" x2="271.13" y2="526.46" stroke="#cec4e6" stroke-width="0.45" opacity="0.6"/>
<line x1="267.63" y1="516.92" x2="267.49" y2="526.93" stroke="#cec4e6" stroke-width="0.45" opacity="0.6"/>
<line x1="266.31" y1="516.67" x2="263.30" y2="526.15" stroke="#cec4e6" stroke-width="0.45" opacity="0.6"/>
<line x1="265.19" y1="516.06" x2="259.75" y2="524.21" stroke="#cec4e6" stroke-width="0.45" opacity="0.6"/>
<line x1="264.74" y1="515.67" x2="258.33" y2="522.96" stroke="#cec4e6" stroke-width="0.45" opacity="0.6"/>
<line x1="263.83" y1="514.36" x2="255.46" y2="518.83" stroke="#cec4e6" stroke-width="0.45" opacity="0.6"/>
<line x1="263.45" y1="513.15" x2="254.25" y2="514.98" stroke="#cec4e6" stroke-width="0.45" opacity="0.6"/>
<line x1="263.38" y1="512.40" x2="254.02" y2="512.62" stroke="#cec4e6" stroke-width="0.45" opacity="0.6"/>
<line x1="263.45" y1="511.44" x2="254.26" y2="509.59" stroke="#cec4e6" stroke-width="0.45" opacity="0.6"/>
<line x1="263.96" y1="509.99" x2="255.85" y2="504.99" stroke="#cec4e6" stroke-width="0.45" opacity="0.6"/>
<line x1="264.81" y1="508.87" x2="258.55" y2="501.42" stroke="#cec4e6" stroke-width="0.45" opacity="0.6"/>
<line x1="265.56" y1="508.29" x2="260.92" y2="499.60" stroke="#cec4e6" stroke-width="0.45" opacity="0.6"/>
<line x1="266.32" y1="507.92" x2="263.33" y2="498.44" stroke="#cec4e6" stroke-width="0.45" opacity="0.6"/>
<line x1="267.88" y1="507.68" x2="268.26" y2="497.68" stroke="#cec4e6" stroke-width="0.45" opacity="0.6"/>
<line x1="268.67" y1="507.80" x2="270.77" y2="498.04" stroke="#cec4e6" stroke-width="0.45" opacity="0.6"/>
<line x1="270.14" y1="508.49" x2="275.43" y2="500.23" stroke="#cec4e6" stroke-width="0.45" opacity="0.6"/>
<line x1="270.55" y1="508.82" x2="276.71" y2="501.29" stroke="#cec4e6" stroke-width="0.45" opacity="0.6"/>
<line x1="271.48" y1="510.06" x2="279.67" y2="505.22" stroke="#cec4e6" stroke-width="0.45" opacity="0.6"/>
<line x1="271.85" y1="511.00" x2="280.83" y2="508.19" stroke="#cec4e6" stroke-width="0.45" opacity="0.6"/>
<circle cx="273.19" cy="511.74" r="1.86" fill="#cec4e6" opacity="0.5"/>
<circle cx="261.15" cy="516.29" r="1.05" fill="#cec4e6" opacity="0.5"/>
<circle cx="255.36" cy="512.75" r="2.00" fill="#cec4e6" opacity="0.5"/>
<circle cx="276.62" cy="508.49" r="1.08" fill="#cec4e6" opacity="0.5"/>
<circle cx="257.78" cy="511.82" r="1.16" fill="#cec4e6" opacity="0.5"/>
<circle cx="272.73" cy="511.86" r="1.08" fill="#cec4e6" opacity="0.5"/>
<circle cx="269.37" cy="518.20" r="0.88" fill="#cec4e6" opacity="0.5"/>
<circle cx="268.19" cy="520.36" r="1.93" fill="#cec4e6" opacity="0.5"/>
<ellipse cx="267.70" cy="512.30" rx="5.00" ry="4.00" fill="#f6f3f7"/>
<polyline points="267.70,512.30 263.88,516.41" fill="none" stroke="#f6f3f7" stroke-width="3.59" stroke-linecap="round"/>
<polyline points="263.88,516.41 259.50,519.88" fill="none" stroke="#f6f3f7" stroke-width="2.59" stroke-linecap="round"/>
<line x1="259.50" y1="519.88" x2="259.24" y2="521.97" stroke="#f6f3f7" stroke-width="1.87" stroke-linecap="round"/>
<line x1="259.50" y1="519.88" x2="257.53" y2="519.71" stroke="#f6f3f7" stroke-width="1.87" stroke-linecap="round"/>
<line x1="263.88" y1="516.41" x2="259.53" y2="516.89" stroke="#f6f3f7" stroke-width="2.01" stroke-linecap="round"/>
<polyline points="267.70,512.30 262.81,510.99" fill="none" stroke="#f6f3f7" stroke-width="3.59" stroke-linecap="round"/>
<polyline points="262.81,510.99 257.63,511.93" fill="none" stroke="#f6f3f7" stroke-width="2.59" stroke-linecap="round"/>
<line x1="257.63" y1="511.93" x2="255.41" y2="513.87" stroke="#f6f3f7" stroke-width="1.87" stroke-linecap="round"/>
<line x1="257.63" y1="511.93" x2="255.21" y2="510.28" stroke="#f6f3f7" stroke-width="1.87" stroke-linecap="round"/>
<polyline points="267.70,512.30 266.25,507.32" fill="none" stroke="#f6f3f7" stroke-width="3.59" stroke-linecap="round"/>
<polyline points="266.25,507.32 263.59,502.84" fill="none" stroke="#f6f3f7" stroke-width="2.59" stroke-linecap="round"/>
<line x1="263.59" y1="502.84" x2="261.61" y2="501.91" stroke="#f6f3f7" stroke-width="1.87" stroke-linecap="round"/>
<line x1="263.59" y1="502.84" x2="264.48" y2="500.73" stroke="#f6f3f7" stroke-width="1.87" stroke-linecap="round"/>
<line x1="266.25" y1="507.32" x2="268.18" y2="504.23" stroke="#f6f3f7" stroke-width="2.01" stroke-linecap="round"/>
<polyline points="267.70,512.30 270.52,508.47" fill="none" stroke="#f6f3f7" stroke-width="3.59" stroke-linecap="round"/>
<polyline points="270.52,508.47 272.95,504.33" fill="none" stroke="#f6f3f7" stroke-width="2.59" stroke-linecap="round"/>
<line x1="272.95" y1="504.33" x2="272.44" y2="502.05" stroke="#f6f3f7" stroke-width="1.87" stroke-linecap="round"/>
<line x1="272.95" y1="504.33" x2="274.99" y2="503.47" stroke="#f6f3f7" stroke-width="1.87" stroke-linecap="round"/>
<line x1="270.52" y1="508.47" x2="274.15" y2="507.44" stroke="#f6f3f7" stroke-width="2.01" stroke-linecap="round"/>
<polyline points="267.70,512.30 273.73,513.57" fill="none" stroke="#f6f3f7" stroke-width="3.59" stroke-linecap="round"/>
<polyline points="273.73,513.57 279.99,511.91" fill="none" stroke="#f6f3f7" stroke-width="2.59" stroke-linecap="round"/>
<line x1="279.99" y1="511.91" x2="281.64" y2="510.40" stroke="#f6f3f7" stroke-width="1.87" stroke-linecap="round"/>
<line x1="279.99" y1="511.91" x2="281.65" y2="513.40" stroke="#f6f3f7" stroke-width="1.87" stroke-linecap="round"/>
<line x1="273.73" y1="513.57" x2="277.69" y2="511.06" stroke="#f6f3f7" stroke-width="2.01" stroke-linecap="round"/>
<polyline points="267.70,512.30 271.50,515.84" fill="none" stroke="#f6f3f7" stroke-width="3.59" stroke-linecap="round"/>
<polyline points="271.50,515.84 275.59,519.00" fill="none" stroke="#f6f3f7" stroke-width="2.59" stroke-linecap="round"/>
<line x1="275.59" y1="519.00" x2="277.82" y2="519.31" stroke="#f6f3f7" stroke-width="1.87" stroke-linecap="round"/>
<line x1="275.59" y1="519.00" x2="275.93" y2="521.38" stroke="#f6f3f7" stroke-width="1.87" stroke-linecap="round"/>
<line x1="271.50" y1="515.84" x2="271.79" y2="519.21" stroke="#f6f3f7" stroke-width="2.01" stroke-linecap="round"/>
<circle cx="267.70" cy="512.30" r="2.20" fill="#f6f3f7"/>
<rect x="280.00" y="528.50" width="3.6" height="1.4" fill="#555" opacity="0.75"/>
<rect x="286.50" y="492.60" width="38.30" height="40.10" fill="#8a8a8a" stroke="none" stroke-width="0"/>
<rect x="287.00" y="493.10" width="37.30" height="39.10" fill="#e6e7e4" stroke="none" stroke-width="0"/>
<ellipse cx="305.60" cy="512.30" rx="18.30" ry="18.50" fill="#e1a7d2"/>
<ellipse cx="305.60" cy="512.30" rx="17.50" ry="17.70" fill="none" stroke="#e8bddd" stroke-width="0.9" opacity="0.8"/>
<ellipse cx="305.60" cy="512.30" rx="13.30" ry="13.50" fill="#d7ceeb"/>
<ellipse cx="305.60" cy="512.30" rx="12.30" ry="12.50" fill="#c7b9e3"/>
<ellipse cx="301.72" cy="518.59" rx="5.59" ry="4.75" transform="rotate(122.0 301.72 518.59)" fill="#a79bbe" opacity="0.75"/>
<ellipse cx="298.69" cy="509.87" rx="4.90" ry="4.17" transform="rotate(199.1 298.69 509.87)" fill="#a79bbe" opacity="0.75"/>
<ellipse cx="307.54" cy="505.14" rx="5.59" ry="4.75" transform="rotate(285.4 307.54 505.14)" fill="#a79bbe" opacity="0.75"/>
<ellipse cx="312.04" cy="515.82" rx="5.59" ry="4.75" transform="rotate(388.3 312.04 515.82)" fill="#a79bbe" opacity="0.75"/>
<line x1="309.59" y1="512.31" x2="318.23" y2="512.34" stroke="#d7ceeb" stroke-width="0.45" opacity="0.6"/>
<line x1="309.43" y1="513.45" x2="317.71" y2="515.94" stroke="#d7ceeb" stroke-width="0.45" opacity="0.6"/>
<line x1="309.11" y1="514.23" x2="316.70" y2="518.42" stroke="#d7ceeb" stroke-width="0.45" opacity="0.6"/>
<line x1="308.41" y1="515.18" x2="314.48" y2="521.42" stroke="#d7ceeb" stroke-width="0.45" opacity="0.6"/>
<line x1="307.86" y1="515.64" x2="312.76" y2="522.87" stroke="#d7ceeb" stroke-width="0.45" opacity="0.6"/>
<line x1="306.49" y1="516.25" x2="308.42" y2="524.80" stroke="#d7ceeb" stroke-width="0.45" opacity="0.6"/>
<line x1="305.52" y1="516.35" x2="305.35" y2="525.12" stroke="#d7ceeb" stroke-width="0.45" opacity="0.6"/>
<line x1="304.74" y1="516.25" x2="302.87" y2="524.82" stroke="#d7ceeb" stroke-width="0.45" opacity="0.6"/>
<line x1="303.69" y1="515.86" x2="299.55" y2="523.56" stroke="#d7ceeb" stroke-width="0.45" opacity="0.6"/>
<line x1="302.65" y1="515.03" x2="296.25" y2="520.93" stroke="#d7ceeb" stroke-width="0.45" opacity="0.6"/>
<line x1="302.17" y1="514.36" x2="294.73" y2="518.84" stroke="#d7ceeb" stroke-width="0.45" opacity="0.6"/>
<line x1="301.67" y1="512.99" x2="293.15" y2="514.47" stroke="#d7ceeb" stroke-width="0.45" opacity="0.6"/>
<line x1="301.63" y1="511.92" x2="293.02" y2="511.09" stroke="#d7ceeb" stroke-width="0.45" opacity="0.6"/>
<line x1="301.82" y1="510.99" x2="293.64" y2="508.15" stroke="#d7ceeb" stroke-width="0.45" opacity="0.6"/>
<line x1="301.99" y1="510.57" x2="294.18" y2="506.82" stroke="#d7ceeb" stroke-width="0.45" opacity="0.6"/>
<line x1="302.55" y1="509.69" x2="295.94" y2="504.03" stroke="#d7ceeb" stroke-width="0.45" opacity="0.6"/>
<line x1="303.46" y1="508.88" x2="298.82" y2="501.48" stroke="#d7ceeb" stroke-width="0.45" opacity="0.6"/>
<line x1="304.46" y1="508.42" x2="301.99" y2="500.01" stroke="#d7ceeb" stroke-width="0.45" opacity="0.6"/>
<line x1="305.76" y1="508.25" x2="306.12" y2="499.49" stroke="#d7ceeb" stroke-width="0.45" opacity="0.6"/>
<line x1="306.88" y1="508.46" x2="309.66" y2="500.15" stroke="#d7ceeb" stroke-width="0.45" opacity="0.6"/>
<line x1="307.64" y1="508.82" x2="312.05" y2="501.27" stroke="#d7ceeb" stroke-width="0.45" opacity="0.6"/>
<line x1="308.50" y1="509.52" x2="314.78" y2="503.49" stroke="#d7ceeb" stroke-width="0.45" opacity="0.6"/>
<line x1="309.08" y1="510.33" x2="316.63" y2="506.05" stroke="#d7ceeb" stroke-width="0.45" opacity="0.6"/>
<line x1="309.34" y1="510.89" x2="317.45" y2="507.84" stroke="#d7ceeb" stroke-width="0.45" opacity="0.6"/>
<circle cx="299.99" cy="511.34" r="1.30" fill="#d7ceeb" opacity="0.5"/>
<circle cx="314.81" cy="512.82" r="1.89" fill="#d7ceeb" opacity="0.5"/>
<circle cx="313.43" cy="515.96" r="0.83" fill="#d7ceeb" opacity="0.5"/>
<circle cx="302.46" cy="516.58" r="1.83" fill="#d7ceeb" opacity="0.5"/>
<circle cx="304.06" cy="501.10" r="1.06" fill="#d7ceeb" opacity="0.5"/>
<circle cx="303.74" cy="502.77" r="1.41" fill="#d7ceeb" opacity="0.5"/>
<circle cx="313.36" cy="507.72" r="1.14" fill="#d7ceeb" opacity="0.5"/>
<circle cx="303.99" cy="504.52" r="1.06" fill="#d7ceeb" opacity="0.5"/>
<ellipse cx="305.60" cy="512.30" rx="7.50" ry="5.00" fill="#f6f3f7"/>
<polyline points="305.60,512.30 303.36,509.46" fill="none" stroke="#f6f3f7" stroke-width="2.16" stroke-linecap="round"/>
<polyline points="303.36,509.46 299.80,508.05" fill="none" stroke="#f6f3f7" stroke-width="1.55" stroke-linecap="round"/>
<line x1="299.80" y1="508.05" x2="297.48" y2="507.75" stroke="#f6f3f7" stroke-width="1.12" stroke-linecap="round"/>
<line x1="299.80" y1="508.05" x2="299.36" y2="505.72" stroke="#f6f3f7" stroke-width="1.12" stroke-linecap="round"/>
<line x1="303.36" y1="509.46" x2="301.21" y2="509.11" stroke="#f6f3f7" stroke-width="1.21" stroke-linecap="round"/>
<polyline points="305.60,512.30 308.71,511.11" fill="none" stroke="#f6f3f7" stroke-width="2.16" stroke-linecap="round"/>
<polyline points="308.71,511.11 311.01,508.38" fill="none" stroke="#f6f3f7" stroke-width="1.55" stroke-linecap="round"/>
<line x1="311.01" y1="508.38" x2="311.80" y2="506.21" stroke="#f6f3f7" stroke-width="1.12" stroke-linecap="round"/>
<line x1="311.01" y1="508.38" x2="313.27" y2="508.59" stroke="#f6f3f7" stroke-width="1.12" stroke-linecap="round"/>
<line x1="308.71" y1="511.11" x2="309.59" y2="508.97" stroke="#f6f3f7" stroke-width="1.21" stroke-linecap="round"/>
<polyline points="305.60,512.30 306.46,516.11" fill="none" stroke="#f6f3f7" stroke-width="2.16" stroke-linecap="round"/>
<polyline points="306.46,516.11 306.43,520.07" fill="none" stroke="#f6f3f7" stroke-width="1.55" stroke-linecap="round"/>
<line x1="306.43" y1="520.07" x2="308.32" y2="521.37" stroke="#f6f3f7" stroke-width="1.12" stroke-linecap="round"/>
<line x1="306.43" y1="520.07" x2="305.54" y2="522.21" stroke="#f6f3f7" stroke-width="1.12" stroke-linecap="round"/>
<line x1="306.46" y1="516.11" x2="308.44" y2="517.66" stroke="#f6f3f7" stroke-width="1.21" stroke-linecap="round"/>
<polyline points="305.60,512.30 302.00,513.15" fill="none" stroke="#f6f3f7" stroke-width="2.16" stroke-linecap="round"/>
<polyline points="302.00,513.15 299.08,515.82" fill="none" stroke="#f6f3f7" stroke-width="1.55" stroke-linecap="round"/>
<line x1="299.08" y1="515.82" x2="298.12" y2="517.61" stroke="#f6f3f7" stroke-width="1.12" stroke-linecap="round"/>
<line x1="299.08" y1="515.82" x2="297.08" y2="515.60" stroke="#f6f3f7" stroke-width="1.12" stroke-linecap="round"/>
<line x1="302.00" y1="513.15" x2="299.54" y2="511.75" stroke="#f6f3f7" stroke-width="1.21" stroke-linecap="round"/>
<circle cx="305.60" cy="512.30" r="2.20" fill="#f6f3f7"/>
<rect x="318.30" y="528.50" width="3.6" height="1.4" fill="#555" opacity="0.75"/>
<rect x="324.80" y="492.60" width="38.30" height="40.10" fill="#8a8a8a" stroke="none" stroke-width="0"/>
<rect x="325.30" y="493.10" width="37.30" height="39.10" fill="#e6e7e4" stroke="none" stroke-width="0"/>
<ellipse cx="344.10" cy="512.30" rx="18.00" ry="18.80" fill="#debcda"/>
<ellipse cx="344.10" cy="512.30" rx="17.20" ry="18.00" fill="none" stroke="#e6cce3" stroke-width="0.9" opacity="0.8"/>
<ellipse cx="344.10" cy="512.30" rx="16.00" ry="16.80" fill="#e6e2ea"/>
<ellipse cx="343.10" cy="512.30" rx="13.00" ry="13.80" fill="#bfbae1"/>
<ellipse cx="343.10" cy="512.30" rx="12.00" ry="12.80" fill="#a49dd5"/>
<ellipse cx="337.41" cy="516.90" rx="5.46" ry="4.64" transform="rotate(142.7 337.41 516.90)" fill="#8983b2" opacity="0.75"/>
<ellipse cx="348.79" cy="507.70" rx="5.46" ry="4.64" transform="rotate(322.7 348.79 507.70)" fill="#8983b2" opacity="0.75"/>
<line x1="346.99" y1="511.94" x2="355.40" y2="511.16" stroke="#bfbae1" stroke-width="0.45" opacity="0.6"/>
<line x1="346.82" y1="513.53" x2="354.89" y2="516.19" stroke="#bfbae1" stroke-width="0.45" opacity="0.6"/>
<line x1="346.53" y1="514.28" x2="353.95" y2="518.57" stroke="#bfbae1" stroke-width="0.45" opacity="0.6"/>
<line x1="345.80" y1="515.29" x2="351.64" y2="521.77" stroke="#bfbae1" stroke-width="0.45" opacity="0.6"/>
<line x1="345.27" y1="515.74" x2="349.97" y2="523.20" stroke="#bfbae1" stroke-width="0.45" opacity="0.6"/>
<line x1="344.23" y1="516.26" x2="346.67" y2="524.85" stroke="#bfbae1" stroke-width="0.45" opacity="0.6"/>
<line x1="343.28" y1="516.44" x2="343.68" y2="525.40" stroke="#bfbae1" stroke-width="0.45" opacity="0.6"/>
<line x1="342.22" y1="516.33" x2="340.31" y2="525.07" stroke="#bfbae1" stroke-width="0.45" opacity="0.6"/>
<line x1="341.00" y1="515.79" x2="336.45" y2="523.35" stroke="#bfbae1" stroke-width="0.45" opacity="0.6"/>
<line x1="340.36" y1="515.24" x2="334.42" y2="521.62" stroke="#bfbae1" stroke-width="0.45" opacity="0.6"/>
<line x1="339.56" y1="514.03" x2="331.88" y2="517.78" stroke="#bfbae1" stroke-width="0.45" opacity="0.6"/>
<line x1="339.32" y1="513.31" x2="331.12" y2="515.48" stroke="#bfbae1" stroke-width="0.45" opacity="0.6"/>
<line x1="339.21" y1="512.53" x2="330.77" y2="513.03" stroke="#bfbae1" stroke-width="0.45" opacity="0.6"/>
<line x1="339.36" y1="511.14" x2="331.25" y2="508.62" stroke="#bfbae1" stroke-width="0.45" opacity="0.6"/>
<line x1="339.73" y1="510.21" x2="332.44" y2="505.68" stroke="#bfbae1" stroke-width="0.45" opacity="0.6"/>
<line x1="340.15" y1="509.59" x2="333.76" y2="503.72" stroke="#bfbae1" stroke-width="0.45" opacity="0.6"/>
<line x1="341.17" y1="508.70" x2="336.98" y2="500.91" stroke="#bfbae1" stroke-width="0.45" opacity="0.6"/>
<line x1="341.73" y1="508.42" x2="338.75" y2="500.03" stroke="#bfbae1" stroke-width="0.45" opacity="0.6"/>
<line x1="343.00" y1="508.16" x2="342.79" y2="499.19" stroke="#bfbae1" stroke-width="0.45" opacity="0.6"/>
<line x1="344.14" y1="508.31" x2="346.38" y2="499.66" stroke="#bfbae1" stroke-width="0.45" opacity="0.6"/>
<line x1="345.17" y1="508.79" x2="349.67" y2="501.20" stroke="#bfbae1" stroke-width="0.45" opacity="0.6"/>
<line x1="346.10" y1="509.65" x2="352.60" y2="503.92" stroke="#bfbae1" stroke-width="0.45" opacity="0.6"/>
<line x1="346.52" y1="510.31" x2="353.93" y2="506.01" stroke="#bfbae1" stroke-width="0.45" opacity="0.6"/>
<line x1="346.75" y1="510.85" x2="354.67" y2="507.72" stroke="#bfbae1" stroke-width="0.45" opacity="0.6"/>
<circle cx="337.32" cy="513.25" r="1.70" fill="#bfbae1" opacity="0.5"/>
<circle cx="346.69" cy="509.29" r="1.73" fill="#bfbae1" opacity="0.5"/>
<circle cx="341.67" cy="517.75" r="1.34" fill="#bfbae1" opacity="0.5"/>
<circle cx="337.74" cy="515.49" r="1.12" fill="#bfbae1" opacity="0.5"/>
<circle cx="334.62" cy="516.30" r="1.00" fill="#bfbae1" opacity="0.5"/>
<circle cx="339.08" cy="516.69" r="1.67" fill="#bfbae1" opacity="0.5"/>
<circle cx="343.22" cy="522.56" r="0.83" fill="#bfbae1" opacity="0.5"/>
<circle cx="347.56" cy="506.25" r="1.92" fill="#bfbae1" opacity="0.5"/>
<polyline points="343.10,512.30 341.52,510.46" fill="none" stroke="#f6f3f7" stroke-width="1.72" stroke-linecap="round"/>
<polyline points="341.52,510.46 340.71,508.01" fill="none" stroke="#f6f3f7" stroke-width="1.24" stroke-linecap="round"/>
<line x1="340.71" y1="508.01" x2="338.31" y2="507.14" stroke="#f6f3f7" stroke-width="0.90" stroke-linecap="round"/>
<line x1="340.71" y1="508.01" x2="341.51" y2="505.46" stroke="#f6f3f7" stroke-width="0.90" stroke-linecap="round"/>
<line x1="341.52" y1="510.46" x2="341.90" y2="508.57" stroke="#f6f3f7" stroke-width="0.97" stroke-linecap="round"/>
<polyline points="343.10,512.30 345.14,515.74" fill="none" stroke="#f6f3f7" stroke-width="1.72" stroke-linecap="round"/>
<polyline points="345.14,515.74 347.64,518.84" fill="none" stroke="#f6f3f7" stroke-width="1.24" stroke-linecap="round"/>
<line x1="347.64" y1="518.84" x2="350.18" y2="520.01" stroke="#f6f3f7" stroke-width="0.90" stroke-linecap="round"/>
<line x1="347.64" y1="518.84" x2="347.36" y2="521.76" stroke="#f6f3f7" stroke-width="0.90" stroke-linecap="round"/>
<line x1="345.14" y1="515.74" x2="344.28" y2="518.19" stroke="#f6f3f7" stroke-width="0.97" stroke-linecap="round"/>
<circle cx="343.10" cy="512.30" r="2.20" fill="#f6f3f7"/>
<rect x="356.60" y="528.50" width="3.6" height="1.4" fill="#555" opacity="0.75"/>
</g>
<path d="M136,413 C140,412 146,412 147,415 C146,419 140,420 136,419 Z" fill="#8a5cc0"/>
<line x1="84.30" y1="372.30" x2="365.80" y2="372.30" stroke="#000" stroke-width="0.8"/>
<text x="224.80" y="541.30" font-size="9.6" text-anchor="middle" font-weight="bold" font-style="normal" fill="#000" dominant-baseline="central" font-family='"Liberation Serif", serif'>(e)</text>
</svg></body></html>
